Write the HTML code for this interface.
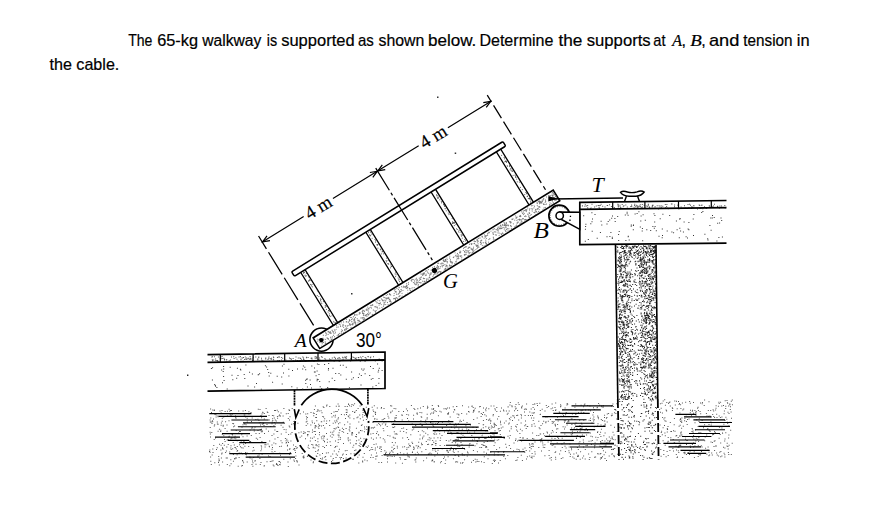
<!DOCTYPE html>
<html><head><meta charset="utf-8">
<style>
html,body{margin:0;padding:0;background:#fff;width:885px;height:525px;overflow:hidden;}
svg{position:absolute;left:0;top:0;}
</style></head>
<body>
<svg width="885" height="525" viewBox="0 0 885 525">
<g font-family="Liberation Sans, sans-serif" font-size="16" fill="#000" stroke="#000" stroke-width="0.2">
<text transform="translate(128.20,46) scale(0.878,1)">The</text>
<text transform="translate(157.18,46) scale(1.021,1)">65-kg</text>
<text transform="translate(202.20,46) scale(0.979,1)">walkway</text>
<text transform="translate(266.70,46) scale(0.900,1)">is</text>
<text transform="translate(281.17,46) scale(1.032,1)">supported</text>
<text transform="translate(357.96,46) scale(0.938,1)">as</text>
<text transform="translate(378.51,46) scale(0.993,1)">shown</text>
<text transform="translate(427.93,46) scale(1.067,1)">below.</text>
<text transform="translate(479.40,46) scale(1.004,1)">Determine</text>
<text transform="translate(558.50,46) scale(1.077,1)">the</text>
<text transform="translate(586.76,46) scale(1.042,1)">supports</text>
<text transform="translate(653.28,46) scale(0.915,1)">at</text>
<text transform="translate(672.24,46) scale(0.936,1)" font-family="Liberation Serif, serif" font-style="italic" font-size="17">A</text>
<text transform="translate(681.40,46) scale(1.000,1)">,</text>
<text transform="translate(690.30,46) scale(1.110,1)" font-family="Liberation Serif, serif" font-style="italic" font-size="17">B</text>
<text transform="translate(701.20,46) scale(1.000,1)">,</text>
<text transform="translate(708.96,46) scale(1.140,1)">and</text>
<text transform="translate(743.30,46) scale(0.955,1)">tension</text>
<text transform="translate(796.87,46) scale(1.027,1)">in</text>
<text transform="translate(49.50,69.5) scale(1.007,1)">the cable.</text>
</g>
<path d="M235.7 433.1h1.0v1.0h-1.0zM285.6 431.7h1.0v1.0h-1.0zM456.3 444.8h1.0v1.0h-1.0zM409.5 445.1h1.0v1.0h-1.0zM517.2 414.7h1.0v1.0h-1.0zM532.3 445.7h1.0v1.0h-1.0zM258.8 422.3h1.0v1.0h-1.0zM498.6 428.0h1.0v1.0h-1.0zM260.5 414.9h1.0v1.0h-1.0zM214.6 413.8h1.0v1.0h-1.0zM532.0 443.2h1.0v1.0h-1.0zM680.8 431.5h1.0v1.0h-1.0zM496.1 449.0h1.0v1.0h-1.0zM546.6 416.5h1.0v1.0h-1.0zM455.8 439.0h1.0v1.0h-1.0zM575.2 403.4h1.0v1.0h-1.0zM695.3 412.0h1.0v1.0h-1.0zM721.3 405.6h1.0v1.0h-1.0zM701.0 451.0h1.0v1.0h-1.0zM380.8 407.7h1.0v1.0h-1.0zM372.7 415.7h1.0v1.0h-1.0zM396.8 453.7h1.0v1.0h-1.0zM503.0 451.8h1.0v1.0h-1.0zM441.8 427.9h1.0v1.0h-1.0zM439.2 433.3h1.0v1.0h-1.0zM473.2 418.9h1.0v1.0h-1.0zM374.1 426.8h1.0v1.0h-1.0zM726.8 421.7h1.0v1.0h-1.0zM233.9 437.6h1.0v1.0h-1.0zM691.9 428.5h1.0v1.0h-1.0zM593.8 409.1h1.0v1.0h-1.0zM479.1 406.2h1.0v1.0h-1.0zM730.6 411.6h1.0v1.0h-1.0zM280.9 445.8h1.0v1.0h-1.0zM585.1 409.6h1.0v1.0h-1.0zM582.2 409.8h1.0v1.0h-1.0zM514.0 410.2h1.0v1.0h-1.0zM575.5 409.6h1.0v1.0h-1.0zM408.1 438.9h1.0v1.0h-1.0zM666.8 428.0h1.0v1.0h-1.0zM272.5 460.3h1.0v1.0h-1.0zM731.7 442.7h1.0v1.0h-1.0zM443.4 423.9h1.0v1.0h-1.0zM567.7 421.2h1.0v1.0h-1.0zM533.5 455.8h1.0v1.0h-1.0zM387.0 461.4h1.0v1.0h-1.0zM667.7 455.0h1.0v1.0h-1.0zM667.7 440.8h1.0v1.0h-1.0zM512.0 420.0h1.0v1.0h-1.0zM390.1 405.2h1.0v1.0h-1.0zM432.0 460.1h1.0v1.0h-1.0zM564.9 420.3h1.0v1.0h-1.0zM703.7 404.9h1.0v1.0h-1.0zM500.0 422.2h1.0v1.0h-1.0zM385.3 423.6h1.0v1.0h-1.0zM692.3 436.7h1.0v1.0h-1.0zM440.8 460.9h1.0v1.0h-1.0zM434.9 442.9h1.0v1.0h-1.0zM235.0 447.2h1.0v1.0h-1.0zM471.0 461.8h1.0v1.0h-1.0zM269.0 446.2h1.0v1.0h-1.0zM678.7 445.0h1.0v1.0h-1.0zM591.3 451.2h1.0v1.0h-1.0zM275.8 420.4h1.0v1.0h-1.0zM278.5 415.6h1.0v1.0h-1.0zM221.2 453.4h1.0v1.0h-1.0zM472.5 426.8h1.0v1.0h-1.0zM238.2 410.4h1.0v1.0h-1.0zM676.2 435.1h1.0v1.0h-1.0zM579.7 428.0h1.0v1.0h-1.0zM686.8 439.9h1.0v1.0h-1.0zM541.0 450.6h1.0v1.0h-1.0zM209.0 450.9h1.0v1.0h-1.0zM723.6 452.7h1.0v1.0h-1.0zM560.5 415.8h1.0v1.0h-1.0zM449.3 449.8h1.0v1.0h-1.0zM248.4 411.3h1.0v1.0h-1.0zM418.1 445.9h1.0v1.0h-1.0zM689.8 402.8h1.0v1.0h-1.0zM715.1 409.5h1.0v1.0h-1.0zM517.1 409.9h1.0v1.0h-1.0zM296.8 447.2h1.0v1.0h-1.0zM487.6 449.3h1.0v1.0h-1.0zM372.2 449.1h1.0v1.0h-1.0zM533.3 417.5h1.0v1.0h-1.0zM391.0 450.3h1.0v1.0h-1.0zM486.0 446.1h1.0v1.0h-1.0zM408.2 446.8h1.0v1.0h-1.0zM370.9 437.6h1.0v1.0h-1.0zM419.7 447.3h1.0v1.0h-1.0zM525.1 408.6h1.0v1.0h-1.0zM288.0 441.9h1.0v1.0h-1.0zM520.5 414.1h1.0v1.0h-1.0zM411.7 423.4h1.0v1.0h-1.0zM509.6 419.2h1.0v1.0h-1.0zM261.4 440.9h1.0v1.0h-1.0zM681.2 420.4h1.0v1.0h-1.0zM697.9 409.9h1.0v1.0h-1.0zM413.0 418.4h1.0v1.0h-1.0zM553.1 444.3h1.0v1.0h-1.0zM515.5 438.5h1.0v1.0h-1.0zM727.9 451.9h1.0v1.0h-1.0zM236.6 454.3h1.0v1.0h-1.0zM503.4 410.5h1.0v1.0h-1.0zM210.3 460.8h1.0v1.0h-1.0zM590.6 440.4h1.0v1.0h-1.0zM720.1 401.8h1.0v1.0h-1.0zM237.1 449.9h1.0v1.0h-1.0zM543.2 420.7h1.0v1.0h-1.0zM566.2 435.8h1.0v1.0h-1.0zM581.7 427.5h1.0v1.0h-1.0zM551.6 403.5h1.0v1.0h-1.0zM604.3 420.6h1.0v1.0h-1.0zM217.4 415.5h1.0v1.0h-1.0zM517.4 456.9h1.0v1.0h-1.0zM712.2 414.0h1.0v1.0h-1.0zM310.5 459.4h1.0v1.0h-1.0zM672.2 408.1h1.0v1.0h-1.0zM697.8 445.2h1.0v1.0h-1.0zM693.1 434.9h1.0v1.0h-1.0zM385.5 421.2h1.0v1.0h-1.0zM268.8 419.4h1.0v1.0h-1.0zM533.7 423.3h1.0v1.0h-1.0zM441.9 421.8h1.0v1.0h-1.0zM260.8 431.3h1.0v1.0h-1.0zM410.9 405.0h1.0v1.0h-1.0zM393.0 448.8h1.0v1.0h-1.0zM550.8 432.5h1.0v1.0h-1.0zM684.5 452.6h1.0v1.0h-1.0zM461.5 444.3h1.0v1.0h-1.0zM216.8 421.4h1.0v1.0h-1.0zM494.0 461.0h1.0v1.0h-1.0zM260.3 421.9h1.0v1.0h-1.0zM679.5 419.5h1.0v1.0h-1.0zM731.8 399.4h1.0v1.0h-1.0zM464.1 459.3h1.0v1.0h-1.0zM555.9 432.0h1.0v1.0h-1.0zM713.2 410.5h1.0v1.0h-1.0zM578.0 455.8h1.0v1.0h-1.0zM457.7 451.2h1.0v1.0h-1.0zM508.8 445.0h1.0v1.0h-1.0zM616.6 445.5h1.0v1.0h-1.0zM731.0 417.8h1.0v1.0h-1.0zM478.6 411.0h1.0v1.0h-1.0zM551.2 436.1h1.0v1.0h-1.0zM544.2 447.1h1.0v1.0h-1.0zM612.5 431.7h1.0v1.0h-1.0zM252.3 453.1h1.0v1.0h-1.0zM536.3 435.1h1.0v1.0h-1.0zM431.2 444.3h1.0v1.0h-1.0zM391.6 450.4h1.0v1.0h-1.0zM370.2 457.1h1.0v1.0h-1.0zM274.4 429.4h1.0v1.0h-1.0zM267.3 411.9h1.0v1.0h-1.0zM293.9 460.8h1.0v1.0h-1.0zM721.4 455.5h1.0v1.0h-1.0zM259.8 464.1h1.0v1.0h-1.0zM415.2 459.3h1.0v1.0h-1.0zM516.1 429.4h1.0v1.0h-1.0zM674.3 400.4h1.0v1.0h-1.0zM240.7 441.4h1.0v1.0h-1.0zM560.0 406.3h1.0v1.0h-1.0zM230.5 445.2h1.0v1.0h-1.0zM466.5 422.1h1.0v1.0h-1.0zM446.3 429.8h1.0v1.0h-1.0zM406.3 414.1h1.0v1.0h-1.0zM590.9 444.1h1.0v1.0h-1.0zM669.4 401.5h1.0v1.0h-1.0zM419.5 411.9h1.0v1.0h-1.0zM432.2 440.0h1.0v1.0h-1.0zM616.7 431.0h1.0v1.0h-1.0zM412.1 442.9h1.0v1.0h-1.0zM488.1 419.8h1.0v1.0h-1.0zM271.6 448.8h1.0v1.0h-1.0zM689.8 412.3h1.0v1.0h-1.0zM694.4 410.1h1.0v1.0h-1.0zM210.0 436.4h1.0v1.0h-1.0zM517.1 440.4h1.0v1.0h-1.0zM419.4 423.7h1.0v1.0h-1.0zM613.5 434.6h1.0v1.0h-1.0zM409.1 445.0h1.0v1.0h-1.0zM415.7 445.2h1.0v1.0h-1.0zM600.4 442.6h1.0v1.0h-1.0zM279.1 460.9h1.0v1.0h-1.0zM425.8 423.4h1.0v1.0h-1.0zM689.5 450.8h1.0v1.0h-1.0zM243.1 443.7h1.0v1.0h-1.0zM212.3 409.5h1.0v1.0h-1.0zM662.7 400.5h1.0v1.0h-1.0zM234.3 458.5h1.0v1.0h-1.0zM660.8 432.0h1.0v1.0h-1.0zM456.3 406.1h1.0v1.0h-1.0zM571.4 424.0h1.0v1.0h-1.0zM426.9 407.7h1.0v1.0h-1.0zM431.5 419.1h1.0v1.0h-1.0zM724.3 454.3h1.0v1.0h-1.0zM277.2 431.1h1.0v1.0h-1.0zM449.2 429.5h1.0v1.0h-1.0zM597.8 417.0h1.0v1.0h-1.0zM460.8 421.0h1.0v1.0h-1.0zM594.6 442.4h1.0v1.0h-1.0zM220.7 412.6h1.0v1.0h-1.0zM493.8 424.2h1.0v1.0h-1.0zM458.3 428.5h1.0v1.0h-1.0zM376.8 431.2h1.0v1.0h-1.0zM430.4 437.7h1.0v1.0h-1.0zM476.9 451.2h1.0v1.0h-1.0zM469.2 432.4h1.0v1.0h-1.0zM239.1 444.3h1.0v1.0h-1.0zM582.8 439.5h1.0v1.0h-1.0zM666.8 431.6h1.0v1.0h-1.0zM612.8 448.6h1.0v1.0h-1.0zM409.0 456.5h1.0v1.0h-1.0zM452.7 450.8h1.0v1.0h-1.0zM427.5 439.2h1.0v1.0h-1.0zM273.4 425.3h1.0v1.0h-1.0zM531.0 417.5h1.0v1.0h-1.0zM213.9 409.5h1.0v1.0h-1.0zM591.9 440.1h1.0v1.0h-1.0zM681.4 417.5h1.0v1.0h-1.0zM406.3 449.1h1.0v1.0h-1.0zM551.4 437.7h1.0v1.0h-1.0zM602.9 450.3h1.0v1.0h-1.0zM474.7 458.8h1.0v1.0h-1.0zM590.4 435.7h1.0v1.0h-1.0zM457.2 443.7h1.0v1.0h-1.0zM455.9 461.2h1.0v1.0h-1.0zM403.2 430.9h1.0v1.0h-1.0zM373.5 443.9h1.0v1.0h-1.0zM614.1 412.2h1.0v1.0h-1.0zM499.7 459.9h1.0v1.0h-1.0zM493.6 445.0h1.0v1.0h-1.0zM291.2 423.7h1.0v1.0h-1.0zM232.2 448.3h1.0v1.0h-1.0zM693.0 412.7h1.0v1.0h-1.0zM209.9 433.5h1.0v1.0h-1.0zM560.5 405.6h1.0v1.0h-1.0zM296.1 460.2h1.0v1.0h-1.0zM263.5 425.1h1.0v1.0h-1.0zM257.3 455.5h1.0v1.0h-1.0zM600.3 453.1h1.0v1.0h-1.0zM374.8 412.4h1.0v1.0h-1.0zM461.9 454.5h1.0v1.0h-1.0zM265.7 428.5h1.0v1.0h-1.0zM280.0 415.6h1.0v1.0h-1.0zM285.6 429.3h1.0v1.0h-1.0zM576.9 447.0h1.0v1.0h-1.0zM453.0 448.2h1.0v1.0h-1.0zM222.1 443.0h1.0v1.0h-1.0zM522.5 448.8h1.0v1.0h-1.0zM273.8 417.6h1.0v1.0h-1.0zM719.9 417.1h1.0v1.0h-1.0zM401.4 428.0h1.0v1.0h-1.0zM524.6 415.0h1.0v1.0h-1.0zM507.6 406.6h1.0v1.0h-1.0zM474.1 438.4h1.0v1.0h-1.0zM531.4 424.3h1.0v1.0h-1.0zM431.8 405.1h1.0v1.0h-1.0zM387.7 455.4h1.0v1.0h-1.0zM459.3 421.3h1.0v1.0h-1.0zM543.1 433.2h1.0v1.0h-1.0zM531.6 412.4h1.0v1.0h-1.0zM432.1 444.0h1.0v1.0h-1.0zM219.0 443.8h1.0v1.0h-1.0zM403.0 410.9h1.0v1.0h-1.0zM583.1 441.8h1.0v1.0h-1.0zM562.6 426.3h1.0v1.0h-1.0zM568.4 421.2h1.0v1.0h-1.0zM550.8 459.5h1.0v1.0h-1.0zM511.6 406.3h1.0v1.0h-1.0zM433.7 461.0h1.0v1.0h-1.0zM268.7 445.8h1.0v1.0h-1.0zM295.8 447.8h1.0v1.0h-1.0zM260.9 429.4h1.0v1.0h-1.0zM600.9 457.0h1.0v1.0h-1.0zM559.3 440.0h1.0v1.0h-1.0zM221.5 410.0h1.0v1.0h-1.0zM540.1 433.4h1.0v1.0h-1.0zM433.3 441.8h1.0v1.0h-1.0zM381.7 419.3h1.0v1.0h-1.0zM608.6 442.4h1.0v1.0h-1.0zM574.1 427.3h1.0v1.0h-1.0zM268.5 415.0h1.0v1.0h-1.0zM601.9 419.9h1.0v1.0h-1.0zM699.6 410.9h1.0v1.0h-1.0zM378.4 461.9h1.0v1.0h-1.0zM452.7 406.3h1.0v1.0h-1.0zM695.7 411.0h1.0v1.0h-1.0zM555.1 456.7h1.0v1.0h-1.0zM724.5 438.6h1.0v1.0h-1.0zM524.0 411.6h1.0v1.0h-1.0zM235.3 416.1h1.0v1.0h-1.0zM272.1 418.2h1.0v1.0h-1.0zM261.1 417.2h1.0v1.0h-1.0zM681.9 402.5h1.0v1.0h-1.0zM210.8 421.4h1.0v1.0h-1.0zM559.3 412.4h1.0v1.0h-1.0zM213.8 425.5h1.0v1.0h-1.0zM303.3 455.4h1.0v1.0h-1.0zM497.8 428.5h1.0v1.0h-1.0zM556.7 442.5h1.0v1.0h-1.0zM666.6 451.0h1.0v1.0h-1.0zM508.9 418.0h1.0v1.0h-1.0zM228.8 435.8h1.0v1.0h-1.0zM716.2 413.8h1.0v1.0h-1.0zM478.5 423.1h1.0v1.0h-1.0zM435.7 410.9h1.0v1.0h-1.0zM443.5 408.3h1.0v1.0h-1.0zM614.6 444.6h1.0v1.0h-1.0zM574.3 419.0h1.0v1.0h-1.0zM471.6 405.5h1.0v1.0h-1.0zM500.8 427.6h1.0v1.0h-1.0zM728.5 413.1h1.0v1.0h-1.0zM421.8 430.3h1.0v1.0h-1.0zM557.3 437.1h1.0v1.0h-1.0zM532.8 446.0h1.0v1.0h-1.0zM729.3 403.6h1.0v1.0h-1.0zM698.0 453.4h1.0v1.0h-1.0zM531.6 452.9h1.0v1.0h-1.0zM222.1 448.3h1.0v1.0h-1.0zM488.3 408.3h1.0v1.0h-1.0zM221.7 420.7h1.0v1.0h-1.0zM528.9 443.3h1.0v1.0h-1.0zM698.5 431.9h1.0v1.0h-1.0zM447.2 450.2h1.0v1.0h-1.0zM505.2 443.8h1.0v1.0h-1.0zM603.8 420.5h1.0v1.0h-1.0zM283.4 408.1h1.0v1.0h-1.0zM604.0 417.1h1.0v1.0h-1.0zM378.2 423.1h1.0v1.0h-1.0zM276.1 462.9h1.0v1.0h-1.0zM659.9 403.3h1.0v1.0h-1.0zM426.7 413.7h1.0v1.0h-1.0zM243.1 416.0h1.0v1.0h-1.0zM449.0 407.4h1.0v1.0h-1.0zM578.8 445.2h1.0v1.0h-1.0zM445.8 408.7h1.0v1.0h-1.0zM244.3 422.9h1.0v1.0h-1.0zM457.5 446.0h1.0v1.0h-1.0zM221.6 452.4h1.0v1.0h-1.0zM395.3 408.3h1.0v1.0h-1.0zM534.6 425.7h1.0v1.0h-1.0zM268.0 430.7h1.0v1.0h-1.0zM490.6 405.4h1.0v1.0h-1.0zM530.1 415.0h1.0v1.0h-1.0zM224.6 441.1h1.0v1.0h-1.0zM668.1 402.9h1.0v1.0h-1.0zM376.5 418.7h1.0v1.0h-1.0zM724.2 440.5h1.0v1.0h-1.0zM255.5 433.1h1.0v1.0h-1.0zM211.5 423.0h1.0v1.0h-1.0zM530.7 448.3h1.0v1.0h-1.0zM451.7 442.1h1.0v1.0h-1.0zM233.1 423.2h1.0v1.0h-1.0zM593.7 426.3h1.0v1.0h-1.0zM546.6 407.1h1.0v1.0h-1.0zM250.1 441.0h1.0v1.0h-1.0zM390.4 411.6h1.0v1.0h-1.0zM476.8 440.8h1.0v1.0h-1.0zM698.3 437.1h1.0v1.0h-1.0zM259.7 428.9h1.0v1.0h-1.0zM673.0 450.5h1.0v1.0h-1.0zM604.6 423.5h1.0v1.0h-1.0zM563.6 442.3h1.0v1.0h-1.0zM671.8 407.3h1.0v1.0h-1.0zM264.4 444.2h1.0v1.0h-1.0zM259.6 437.1h1.0v1.0h-1.0zM276.9 416.1h1.0v1.0h-1.0zM605.3 445.7h1.0v1.0h-1.0zM288.7 425.6h1.0v1.0h-1.0zM447.5 414.0h1.0v1.0h-1.0zM422.0 438.3h1.0v1.0h-1.0zM392.2 426.8h1.0v1.0h-1.0zM379.2 424.1h1.0v1.0h-1.0zM403.1 427.6h1.0v1.0h-1.0zM611.7 453.2h1.0v1.0h-1.0zM529.2 455.6h1.0v1.0h-1.0zM533.3 438.4h1.0v1.0h-1.0zM226.3 446.4h1.0v1.0h-1.0zM613.0 448.9h1.0v1.0h-1.0zM456.4 432.3h1.0v1.0h-1.0zM718.9 426.8h1.0v1.0h-1.0zM383.3 430.2h1.0v1.0h-1.0zM587.2 405.1h1.0v1.0h-1.0zM667.7 437.1h1.0v1.0h-1.0zM666.1 410.2h1.0v1.0h-1.0zM486.2 446.7h1.0v1.0h-1.0zM391.6 456.0h1.0v1.0h-1.0zM254.5 426.7h1.0v1.0h-1.0zM455.7 425.6h1.0v1.0h-1.0zM685.7 414.3h1.0v1.0h-1.0zM248.2 446.1h1.0v1.0h-1.0zM490.3 419.9h1.0v1.0h-1.0zM245.0 453.8h1.0v1.0h-1.0zM415.3 461.5h1.0v1.0h-1.0zM700.8 445.2h1.0v1.0h-1.0zM243.1 462.3h1.0v1.0h-1.0zM231.7 434.0h1.0v1.0h-1.0zM610.1 443.1h1.0v1.0h-1.0zM510.1 448.1h1.0v1.0h-1.0zM482.9 445.0h1.0v1.0h-1.0zM585.6 444.9h1.0v1.0h-1.0zM600.4 436.0h1.0v1.0h-1.0zM432.2 459.5h1.0v1.0h-1.0zM437.0 452.8h1.0v1.0h-1.0zM437.4 437.3h1.0v1.0h-1.0zM404.3 459.0h1.0v1.0h-1.0zM729.8 408.9h1.0v1.0h-1.0zM210.1 456.6h1.0v1.0h-1.0zM351.9 458.8h1.0v1.0h-1.0zM421.6 425.2h1.0v1.0h-1.0zM296.6 460.6h1.0v1.0h-1.0zM437.8 405.1h1.0v1.0h-1.0zM487.3 430.5h1.0v1.0h-1.0zM545.8 405.0h1.0v1.0h-1.0zM290.3 433.6h1.0v1.0h-1.0zM220.9 457.6h1.0v1.0h-1.0zM379.8 437.3h1.0v1.0h-1.0zM433.2 425.9h1.0v1.0h-1.0zM730.2 429.8h1.0v1.0h-1.0zM439.6 445.1h1.0v1.0h-1.0zM548.1 405.9h1.0v1.0h-1.0zM515.1 425.8h1.0v1.0h-1.0zM291.5 431.9h1.0v1.0h-1.0zM229.2 451.4h1.0v1.0h-1.0zM584.5 429.8h1.0v1.0h-1.0zM572.1 432.9h1.0v1.0h-1.0zM529.4 447.0h1.0v1.0h-1.0zM374.9 447.5h1.0v1.0h-1.0zM490.0 422.8h1.0v1.0h-1.0zM581.4 423.4h1.0v1.0h-1.0zM534.0 403.4h1.0v1.0h-1.0zM661.8 434.3h1.0v1.0h-1.0zM277.1 417.8h1.0v1.0h-1.0zM678.6 425.7h1.0v1.0h-1.0zM597.6 453.4h1.0v1.0h-1.0zM462.1 447.3h1.0v1.0h-1.0zM253.6 428.8h1.0v1.0h-1.0zM716.1 452.5h1.0v1.0h-1.0zM513.5 442.5h1.0v1.0h-1.0zM522.9 437.6h1.0v1.0h-1.0zM460.7 436.9h1.0v1.0h-1.0zM417.9 453.4h1.0v1.0h-1.0zM596.6 407.2h1.0v1.0h-1.0zM362.5 456.8h1.0v1.0h-1.0zM503.2 436.7h1.0v1.0h-1.0zM606.1 438.4h1.0v1.0h-1.0zM478.4 461.0h1.0v1.0h-1.0zM389.1 453.0h1.0v1.0h-1.0zM404.1 446.3h1.0v1.0h-1.0zM417.3 408.3h1.0v1.0h-1.0zM421.3 444.2h1.0v1.0h-1.0zM609.1 441.2h1.0v1.0h-1.0zM664.4 432.4h1.0v1.0h-1.0zM710.5 441.4h1.0v1.0h-1.0zM434.6 449.4h1.0v1.0h-1.0zM271.9 414.9h1.0v1.0h-1.0zM448.3 420.1h1.0v1.0h-1.0zM612.9 406.0h1.0v1.0h-1.0zM529.1 447.1h1.0v1.0h-1.0zM518.2 419.6h1.0v1.0h-1.0zM284.9 438.1h1.0v1.0h-1.0zM614.1 409.1h1.0v1.0h-1.0zM241.2 447.2h1.0v1.0h-1.0zM682.3 409.5h1.0v1.0h-1.0zM449.7 416.5h1.0v1.0h-1.0zM605.1 451.7h1.0v1.0h-1.0zM439.2 430.5h1.0v1.0h-1.0zM277.5 465.0h1.0v1.0h-1.0zM385.0 452.8h1.0v1.0h-1.0zM720.4 450.9h1.0v1.0h-1.0zM710.5 416.6h1.0v1.0h-1.0zM660.7 407.7h1.0v1.0h-1.0zM708.5 451.8h1.0v1.0h-1.0zM575.0 425.7h1.0v1.0h-1.0zM677.7 437.1h1.0v1.0h-1.0zM249.1 441.1h1.0v1.0h-1.0zM246.6 452.6h1.0v1.0h-1.0zM421.3 412.2h1.0v1.0h-1.0zM476.7 417.6h1.0v1.0h-1.0zM680.2 418.9h1.0v1.0h-1.0zM531.2 443.4h1.0v1.0h-1.0zM701.9 402.0h1.0v1.0h-1.0zM728.3 454.0h1.0v1.0h-1.0zM495.8 425.0h1.0v1.0h-1.0zM453.7 424.8h1.0v1.0h-1.0zM295.1 457.9h1.0v1.0h-1.0zM287.3 440.4h1.0v1.0h-1.0zM457.5 432.2h1.0v1.0h-1.0zM471.5 405.9h1.0v1.0h-1.0zM590.0 420.1h1.0v1.0h-1.0zM365.7 446.2h1.0v1.0h-1.0zM218.9 428.7h1.0v1.0h-1.0zM454.2 427.4h1.0v1.0h-1.0zM449.5 423.2h1.0v1.0h-1.0zM461.8 462.7h1.0v1.0h-1.0zM722.1 432.8h1.0v1.0h-1.0zM555.2 458.8h1.0v1.0h-1.0zM586.9 429.9h1.0v1.0h-1.0zM594.1 447.3h1.0v1.0h-1.0zM575.9 452.6h1.0v1.0h-1.0zM711.2 452.5h1.0v1.0h-1.0zM420.2 423.5h1.0v1.0h-1.0zM569.5 443.4h1.0v1.0h-1.0zM263.1 423.2h1.0v1.0h-1.0zM441.7 448.2h1.0v1.0h-1.0zM684.4 418.0h1.0v1.0h-1.0zM433.1 441.8h1.0v1.0h-1.0zM430.6 422.4h1.0v1.0h-1.0zM508.8 422.5h1.0v1.0h-1.0zM264.0 433.1h1.0v1.0h-1.0zM213.9 410.0h1.0v1.0h-1.0zM467.0 451.5h1.0v1.0h-1.0zM676.0 449.5h1.0v1.0h-1.0zM488.6 419.6h1.0v1.0h-1.0zM376.7 455.5h1.0v1.0h-1.0zM235.2 416.7h1.0v1.0h-1.0zM520.8 454.8h1.0v1.0h-1.0zM680.4 433.6h1.0v1.0h-1.0zM565.6 447.6h1.0v1.0h-1.0zM694.9 429.6h1.0v1.0h-1.0zM293.0 444.6h1.0v1.0h-1.0zM238.6 456.9h1.0v1.0h-1.0zM684.1 420.2h1.0v1.0h-1.0zM275.9 464.1h1.0v1.0h-1.0zM228.5 420.3h1.0v1.0h-1.0zM677.8 450.3h1.0v1.0h-1.0zM662.6 440.3h1.0v1.0h-1.0zM410.3 434.3h1.0v1.0h-1.0zM668.7 402.0h1.0v1.0h-1.0zM263.1 422.6h1.0v1.0h-1.0zM718.7 415.4h1.0v1.0h-1.0zM253.6 449.7h1.0v1.0h-1.0zM490.3 420.8h1.0v1.0h-1.0zM671.0 430.9h1.0v1.0h-1.0zM541.3 438.0h1.0v1.0h-1.0zM413.2 449.0h1.0v1.0h-1.0zM358.7 454.6h1.0v1.0h-1.0zM439.4 410.8h1.0v1.0h-1.0zM692.6 432.3h1.0v1.0h-1.0zM583.3 419.8h1.0v1.0h-1.0zM223.2 416.5h1.0v1.0h-1.0zM599.3 433.9h1.0v1.0h-1.0zM716.5 417.1h1.0v1.0h-1.0zM547.8 420.8h1.0v1.0h-1.0zM272.0 447.0h1.0v1.0h-1.0zM480.8 412.9h1.0v1.0h-1.0zM526.1 403.5h1.0v1.0h-1.0zM374.8 411.8h1.0v1.0h-1.0zM697.3 438.7h1.0v1.0h-1.0zM223.3 435.2h1.0v1.0h-1.0zM675.5 445.8h1.0v1.0h-1.0zM485.4 430.4h1.0v1.0h-1.0zM726.7 442.7h1.0v1.0h-1.0zM271.8 421.6h1.0v1.0h-1.0zM437.9 415.2h1.0v1.0h-1.0zM371.7 427.3h1.0v1.0h-1.0zM387.3 435.0h1.0v1.0h-1.0zM557.3 428.2h1.0v1.0h-1.0zM242.6 410.4h1.0v1.0h-1.0zM561.8 447.0h1.0v1.0h-1.0zM265.5 444.3h1.0v1.0h-1.0zM373.8 405.2h1.0v1.0h-1.0zM510.8 426.3h1.0v1.0h-1.0zM258.6 454.4h1.0v1.0h-1.0zM728.2 405.4h1.0v1.0h-1.0zM242.5 424.3h1.0v1.0h-1.0zM680.2 443.3h1.0v1.0h-1.0zM240.9 441.8h1.0v1.0h-1.0zM595.3 436.7h1.0v1.0h-1.0zM719.2 426.6h1.0v1.0h-1.0zM566.6 424.6h1.0v1.0h-1.0zM271.3 460.8h1.0v1.0h-1.0zM726.3 418.8h1.0v1.0h-1.0zM539.7 414.1h1.0v1.0h-1.0zM557.7 420.6h1.0v1.0h-1.0zM273.4 433.4h1.0v1.0h-1.0zM454.7 439.2h1.0v1.0h-1.0zM261.8 423.8h1.0v1.0h-1.0zM447.6 456.2h1.0v1.0h-1.0zM367.8 445.6h1.0v1.0h-1.0zM453.9 409.1h1.0v1.0h-1.0zM266.5 461.3h1.0v1.0h-1.0zM710.2 409.9h1.0v1.0h-1.0zM476.1 427.0h1.0v1.0h-1.0zM669.4 450.0h1.0v1.0h-1.0zM442.6 454.0h1.0v1.0h-1.0zM539.8 409.9h1.0v1.0h-1.0zM252.0 460.6h1.0v1.0h-1.0zM688.5 418.4h1.0v1.0h-1.0zM555.2 451.2h1.0v1.0h-1.0zM230.6 463.2h1.0v1.0h-1.0zM483.8 456.2h1.0v1.0h-1.0zM239.0 431.0h1.0v1.0h-1.0zM680.3 432.3h1.0v1.0h-1.0zM524.5 447.5h1.0v1.0h-1.0zM604.4 440.4h1.0v1.0h-1.0zM447.9 413.1h1.0v1.0h-1.0zM279.2 445.9h1.0v1.0h-1.0zM462.5 434.7h1.0v1.0h-1.0zM375.6 455.8h1.0v1.0h-1.0zM500.0 420.8h1.0v1.0h-1.0zM289.8 452.0h1.0v1.0h-1.0zM461.7 453.3h1.0v1.0h-1.0zM395.4 417.7h1.0v1.0h-1.0zM709.4 433.1h1.0v1.0h-1.0zM271.5 434.9h1.0v1.0h-1.0zM268.0 455.4h1.0v1.0h-1.0zM564.0 421.7h1.0v1.0h-1.0zM661.5 402.7h1.0v1.0h-1.0zM695.3 414.2h1.0v1.0h-1.0zM691.0 415.3h1.0v1.0h-1.0zM508.2 423.4h1.0v1.0h-1.0zM609.1 440.5h1.0v1.0h-1.0zM394.3 417.5h1.0v1.0h-1.0zM468.7 411.4h1.0v1.0h-1.0zM432.8 408.9h1.0v1.0h-1.0zM701.7 403.2h1.0v1.0h-1.0zM507.6 412.8h1.0v1.0h-1.0zM670.3 437.2h1.0v1.0h-1.0zM443.1 458.0h1.0v1.0h-1.0zM260.7 445.2h1.0v1.0h-1.0zM597.7 416.8h1.0v1.0h-1.0zM216.0 449.0h1.0v1.0h-1.0zM458.3 456.0h1.0v1.0h-1.0zM389.5 435.6h1.0v1.0h-1.0zM518.6 404.1h1.0v1.0h-1.0zM374.0 418.4h1.0v1.0h-1.0zM416.4 412.7h1.0v1.0h-1.0zM416.7 412.5h1.0v1.0h-1.0zM422.8 405.9h1.0v1.0h-1.0zM589.9 417.7h1.0v1.0h-1.0zM420.4 420.2h1.0v1.0h-1.0zM391.2 405.4h1.0v1.0h-1.0zM230.1 410.1h1.0v1.0h-1.0zM493.6 434.4h1.0v1.0h-1.0zM589.4 457.1h1.0v1.0h-1.0zM700.2 413.2h1.0v1.0h-1.0zM705.9 413.0h1.0v1.0h-1.0zM510.7 428.3h1.0v1.0h-1.0zM481.0 461.2h1.0v1.0h-1.0zM445.8 440.1h1.0v1.0h-1.0zM510.4 416.8h1.0v1.0h-1.0zM209.3 449.4h1.0v1.0h-1.0zM509.8 402.0h1.0v1.0h-1.0zM225.7 457.4h1.0v1.0h-1.0zM490.4 440.1h1.0v1.0h-1.0zM215.0 437.6h1.0v1.0h-1.0zM569.7 455.9h1.0v1.0h-1.0zM554.5 446.6h1.0v1.0h-1.0zM428.1 443.8h1.0v1.0h-1.0zM499.8 434.1h1.0v1.0h-1.0zM542.2 442.5h1.0v1.0h-1.0zM588.8 459.1h1.0v1.0h-1.0zM477.1 441.0h1.0v1.0h-1.0zM244.3 423.8h1.0v1.0h-1.0zM696.2 419.3h1.0v1.0h-1.0zM230.6 414.7h1.0v1.0h-1.0zM723.0 446.7h1.0v1.0h-1.0zM594.1 456.7h1.0v1.0h-1.0zM597.3 453.1h1.0v1.0h-1.0zM451.0 426.7h1.0v1.0h-1.0zM235.9 448.6h1.0v1.0h-1.0zM503.3 456.0h1.0v1.0h-1.0zM245.2 416.4h1.0v1.0h-1.0zM545.0 436.0h1.0v1.0h-1.0zM414.3 409.0h1.0v1.0h-1.0zM406.9 437.1h1.0v1.0h-1.0zM724.7 400.2h1.0v1.0h-1.0zM498.2 439.2h1.0v1.0h-1.0zM682.8 425.7h1.0v1.0h-1.0zM258.2 452.9h1.0v1.0h-1.0zM384.9 424.4h1.0v1.0h-1.0zM411.8 429.5h1.0v1.0h-1.0zM487.5 458.2h1.0v1.0h-1.0zM248.4 413.5h1.0v1.0h-1.0zM463.6 454.8h1.0v1.0h-1.0zM491.8 462.9h1.0v1.0h-1.0zM680.2 445.0h1.0v1.0h-1.0zM727.4 446.0h1.0v1.0h-1.0zM265.6 408.1h1.0v1.0h-1.0zM453.0 449.2h1.0v1.0h-1.0zM690.0 446.9h1.0v1.0h-1.0zM508.7 410.5h1.0v1.0h-1.0zM413.1 446.6h1.0v1.0h-1.0zM549.9 418.9h1.0v1.0h-1.0zM404.2 424.1h1.0v1.0h-1.0zM494.6 442.2h1.0v1.0h-1.0zM720.2 456.3h1.0v1.0h-1.0zM461.2 413.0h1.0v1.0h-1.0zM245.6 424.2h1.0v1.0h-1.0zM709.4 415.6h1.0v1.0h-1.0zM560.1 404.3h1.0v1.0h-1.0zM685.2 401.7h1.0v1.0h-1.0zM691.6 427.9h1.0v1.0h-1.0zM447.6 451.4h1.0v1.0h-1.0zM584.4 403.4h1.0v1.0h-1.0zM714.1 417.1h1.0v1.0h-1.0zM545.5 421.2h1.0v1.0h-1.0zM376.0 452.4h1.0v1.0h-1.0zM426.6 418.4h1.0v1.0h-1.0zM446.1 424.9h1.0v1.0h-1.0zM294.0 421.9h1.0v1.0h-1.0zM414.1 421.1h1.0v1.0h-1.0zM294.2 448.4h1.0v1.0h-1.0zM691.9 444.1h1.0v1.0h-1.0zM421.3 451.2h1.0v1.0h-1.0zM681.4 434.6h1.0v1.0h-1.0zM565.7 412.0h1.0v1.0h-1.0zM241.3 434.3h1.0v1.0h-1.0zM704.1 399.6h1.0v1.0h-1.0zM383.1 418.8h1.0v1.0h-1.0zM500.4 424.2h1.0v1.0h-1.0zM541.0 439.2h1.0v1.0h-1.0zM673.2 442.8h1.0v1.0h-1.0zM660.3 449.1h1.0v1.0h-1.0zM716.8 454.6h1.0v1.0h-1.0zM281.6 453.1h1.0v1.0h-1.0zM574.3 432.0h1.0v1.0h-1.0zM577.5 454.7h1.0v1.0h-1.0zM231.7 413.7h1.0v1.0h-1.0zM312.9 461.3h1.0v1.0h-1.0zM608.8 436.5h1.0v1.0h-1.0zM280.5 440.3h1.0v1.0h-1.0zM251.7 417.5h1.0v1.0h-1.0zM686.0 453.9h1.0v1.0h-1.0zM489.3 418.5h1.0v1.0h-1.0zM707.5 449.5h1.0v1.0h-1.0zM723.9 410.5h1.0v1.0h-1.0zM611.0 448.9h1.0v1.0h-1.0zM698.1 440.9h1.0v1.0h-1.0zM518.4 448.9h1.0v1.0h-1.0zM715.6 405.2h1.0v1.0h-1.0zM538.3 420.8h1.0v1.0h-1.0zM240.0 446.2h1.0v1.0h-1.0zM394.9 442.3h1.0v1.0h-1.0zM384.3 450.3h1.0v1.0h-1.0zM664.9 404.8h1.0v1.0h-1.0zM427.1 444.1h1.0v1.0h-1.0zM606.7 421.6h1.0v1.0h-1.0zM514.7 406.3h1.0v1.0h-1.0zM394.5 420.3h1.0v1.0h-1.0zM712.6 409.3h1.0v1.0h-1.0zM246.0 454.3h1.0v1.0h-1.0zM494.9 409.5h1.0v1.0h-1.0zM209.6 431.7h1.0v1.0h-1.0zM257.8 408.7h1.0v1.0h-1.0zM601.0 405.5h1.0v1.0h-1.0zM422.3 436.7h1.0v1.0h-1.0zM706.8 428.9h1.0v1.0h-1.0zM531.4 425.7h1.0v1.0h-1.0zM729.4 404.3h1.0v1.0h-1.0zM583.8 404.4h1.0v1.0h-1.0zM592.4 414.5h1.0v1.0h-1.0zM686.0 443.9h1.0v1.0h-1.0zM695.6 413.6h1.0v1.0h-1.0zM484.3 438.0h1.0v1.0h-1.0zM244.3 414.6h1.0v1.0h-1.0zM263.8 418.5h1.0v1.0h-1.0zM665.6 456.3h1.0v1.0h-1.0zM667.1 428.9h1.0v1.0h-1.0zM730.8 400.8h1.0v1.0h-1.0zM398.3 411.1h1.0v1.0h-1.0zM258.4 420.0h1.0v1.0h-1.0zM375.0 413.9h1.0v1.0h-1.0zM401.2 414.4h1.0v1.0h-1.0zM210.3 417.6h1.0v1.0h-1.0zM220.6 444.7h1.0v1.0h-1.0zM727.2 423.0h1.0v1.0h-1.0zM664.7 444.7h1.0v1.0h-1.0zM388.3 417.5h1.0v1.0h-1.0zM235.5 417.8h1.0v1.0h-1.0zM612.4 448.9h1.0v1.0h-1.0zM582.9 446.4h1.0v1.0h-1.0zM290.4 440.4h1.0v1.0h-1.0zM260.0 424.6h1.0v1.0h-1.0zM230.3 459.2h1.0v1.0h-1.0zM423.3 431.2h1.0v1.0h-1.0zM274.4 451.0h1.0v1.0h-1.0zM289.5 416.2h1.0v1.0h-1.0zM701.6 419.9h1.0v1.0h-1.0zM393.9 455.7h1.0v1.0h-1.0zM457.5 417.0h1.0v1.0h-1.0zM362.2 461.5h1.0v1.0h-1.0zM725.3 405.7h1.0v1.0h-1.0zM505.9 446.7h1.0v1.0h-1.0zM532.7 419.9h1.0v1.0h-1.0zM571.0 447.7h1.0v1.0h-1.0zM263.8 412.9h1.0v1.0h-1.0zM694.5 422.3h1.0v1.0h-1.0zM509.4 404.4h1.0v1.0h-1.0zM275.0 410.1h1.0v1.0h-1.0zM706.4 453.7h1.0v1.0h-1.0zM544.5 410.6h1.0v1.0h-1.0zM406.8 452.8h1.0v1.0h-1.0zM257.4 418.7h1.0v1.0h-1.0zM693.9 456.9h1.0v1.0h-1.0zM232.3 423.0h1.0v1.0h-1.0zM707.8 409.9h1.0v1.0h-1.0zM492.9 459.8h1.0v1.0h-1.0zM396.9 447.4h1.0v1.0h-1.0zM601.8 448.0h1.0v1.0h-1.0zM486.0 407.5h1.0v1.0h-1.0zM474.5 445.2h1.0v1.0h-1.0zM597.0 431.9h1.0v1.0h-1.0zM291.7 408.0h1.0v1.0h-1.0zM714.7 432.1h1.0v1.0h-1.0zM460.3 438.0h1.0v1.0h-1.0zM425.2 432.8h1.0v1.0h-1.0zM472.7 407.1h1.0v1.0h-1.0zM236.8 440.3h1.0v1.0h-1.0zM433.3 433.2h1.0v1.0h-1.0zM538.3 435.1h1.0v1.0h-1.0zM375.9 437.4h1.0v1.0h-1.0zM666.3 402.1h1.0v1.0h-1.0zM394.2 426.3h1.0v1.0h-1.0zM260.4 450.2h1.0v1.0h-1.0zM513.4 415.6h1.0v1.0h-1.0zM723.6 413.3h1.0v1.0h-1.0zM659.5 443.0h1.0v1.0h-1.0zM580.1 451.3h1.0v1.0h-1.0zM409.8 445.8h1.0v1.0h-1.0zM244.9 410.0h1.0v1.0h-1.0zM677.0 456.4h1.0v1.0h-1.0zM679.4 412.5h1.0v1.0h-1.0zM502.4 426.5h1.0v1.0h-1.0zM209.7 426.9h1.0v1.0h-1.0zM413.4 446.9h1.0v1.0h-1.0zM726.5 400.1h1.0v1.0h-1.0zM415.2 424.9h1.0v1.0h-1.0zM694.4 445.5h1.0v1.0h-1.0zM730.0 406.2h1.0v1.0h-1.0zM715.5 407.8h1.0v1.0h-1.0zM437.5 449.8h1.0v1.0h-1.0zM437.1 429.6h1.0v1.0h-1.0zM678.0 401.1h1.0v1.0h-1.0zM461.0 432.7h1.0v1.0h-1.0zM222.7 424.7h1.0v1.0h-1.0zM577.0 431.2h1.0v1.0h-1.0zM506.8 413.8h1.0v1.0h-1.0zM713.1 433.9h1.0v1.0h-1.0zM560.2 450.2h1.0v1.0h-1.0zM251.0 421.1h1.0v1.0h-1.0zM493.8 454.5h1.0v1.0h-1.0zM379.4 446.6h1.0v1.0h-1.0zM280.5 412.5h1.0v1.0h-1.0zM381.1 462.1h1.0v1.0h-1.0zM503.7 438.0h1.0v1.0h-1.0zM447.3 412.9h1.0v1.0h-1.0zM287.8 465.9h1.0v1.0h-1.0zM416.8 413.8h1.0v1.0h-1.0zM711.8 454.5h1.0v1.0h-1.0zM226.9 415.4h1.0v1.0h-1.0zM476.7 461.1h1.0v1.0h-1.0zM468.7 446.6h1.0v1.0h-1.0zM386.8 455.8h1.0v1.0h-1.0zM244.4 445.7h1.0v1.0h-1.0zM673.0 430.3h1.0v1.0h-1.0zM692.6 430.5h1.0v1.0h-1.0zM384.2 439.5h1.0v1.0h-1.0zM509.1 430.4h1.0v1.0h-1.0zM287.7 412.9h1.0v1.0h-1.0zM399.9 458.4h1.0v1.0h-1.0zM573.5 428.4h1.0v1.0h-1.0zM514.0 417.2h1.0v1.0h-1.0zM587.0 444.8h1.0v1.0h-1.0zM687.0 418.9h1.0v1.0h-1.0zM373.0 427.5h1.0v1.0h-1.0zM602.0 456.2h1.0v1.0h-1.0zM370.9 454.5h1.0v1.0h-1.0zM684.4 453.2h1.0v1.0h-1.0zM482.8 427.2h1.0v1.0h-1.0zM540.5 424.9h1.0v1.0h-1.0zM401.9 462.7h1.0v1.0h-1.0zM277.4 437.0h1.0v1.0h-1.0zM251.5 458.6h1.0v1.0h-1.0zM583.1 406.3h1.0v1.0h-1.0zM610.0 440.3h1.0v1.0h-1.0zM408.3 443.6h1.0v1.0h-1.0zM706.2 434.4h1.0v1.0h-1.0zM532.6 407.1h1.0v1.0h-1.0zM725.3 432.3h1.0v1.0h-1.0zM473.3 410.8h1.0v1.0h-1.0zM727.5 411.7h1.0v1.0h-1.0zM403.3 453.6h1.0v1.0h-1.0zM377.9 434.3h1.0v1.0h-1.0zM711.9 441.9h1.0v1.0h-1.0zM254.3 460.6h1.0v1.0h-1.0zM238.1 432.6h1.0v1.0h-1.0zM544.4 455.2h1.0v1.0h-1.0zM728.1 437.4h1.0v1.0h-1.0zM382.7 428.1h1.0v1.0h-1.0zM214.2 424.3h1.0v1.0h-1.0zM485.1 408.8h1.0v1.0h-1.0zM562.3 413.4h1.0v1.0h-1.0zM276.7 409.7h1.0v1.0h-1.0zM456.1 405.9h1.0v1.0h-1.0zM213.3 445.1h1.0v1.0h-1.0zM481.4 444.0h1.0v1.0h-1.0zM708.5 429.7h1.0v1.0h-1.0zM383.5 408.0h1.0v1.0h-1.0zM676.6 456.9h1.0v1.0h-1.0zM554.5 438.0h1.0v1.0h-1.0zM601.0 457.8h1.0v1.0h-1.0zM588.5 440.8h1.0v1.0h-1.0zM552.7 431.4h1.0v1.0h-1.0zM613.4 455.4h1.0v1.0h-1.0zM391.5 446.7h1.0v1.0h-1.0zM695.3 440.6h1.0v1.0h-1.0zM476.4 443.3h1.0v1.0h-1.0zM680.0 418.3h1.0v1.0h-1.0zM680.0 443.3h1.0v1.0h-1.0zM707.6 446.5h1.0v1.0h-1.0zM486.0 452.7h1.0v1.0h-1.0zM672.4 447.9h1.0v1.0h-1.0zM521.9 405.5h1.0v1.0h-1.0zM262.2 411.7h1.0v1.0h-1.0zM283.9 422.7h1.0v1.0h-1.0zM496.3 411.1h1.0v1.0h-1.0zM441.5 435.1h1.0v1.0h-1.0zM362.1 460.5h1.0v1.0h-1.0zM406.5 447.3h1.0v1.0h-1.0zM227.7 439.3h1.0v1.0h-1.0zM551.7 420.9h1.0v1.0h-1.0zM468.9 444.4h1.0v1.0h-1.0zM534.0 408.7h1.0v1.0h-1.0zM570.0 453.7h1.0v1.0h-1.0zM615.0 409.0h1.0v1.0h-1.0zM600.9 428.7h1.0v1.0h-1.0zM417.6 445.6h1.0v1.0h-1.0zM549.4 457.8h1.0v1.0h-1.0zM717.9 405.8h1.0v1.0h-1.0zM588.1 453.6h1.0v1.0h-1.0zM680.4 408.1h1.0v1.0h-1.0zM603.4 435.3h1.0v1.0h-1.0zM455.3 423.2h1.0v1.0h-1.0zM681.1 427.8h1.0v1.0h-1.0zM525.0 420.6h1.0v1.0h-1.0zM474.7 407.8h1.0v1.0h-1.0zM530.7 457.1h1.0v1.0h-1.0zM224.6 427.9h1.0v1.0h-1.0zM494.5 430.2h1.0v1.0h-1.0zM444.2 445.1h1.0v1.0h-1.0zM493.9 452.4h1.0v1.0h-1.0zM380.1 425.3h1.0v1.0h-1.0zM614.0 426.8h1.0v1.0h-1.0zM507.6 406.2h1.0v1.0h-1.0zM605.9 417.8h1.0v1.0h-1.0zM599.9 458.6h1.0v1.0h-1.0zM391.1 421.3h1.0v1.0h-1.0zM285.6 442.4h1.0v1.0h-1.0zM456.6 413.4h1.0v1.0h-1.0zM579.8 436.9h1.0v1.0h-1.0zM275.3 443.2h1.0v1.0h-1.0zM429.4 439.6h1.0v1.0h-1.0zM554.6 423.8h1.0v1.0h-1.0zM225.9 450.6h1.0v1.0h-1.0zM614.7 439.3h1.0v1.0h-1.0zM517.1 430.8h1.0v1.0h-1.0zM497.5 451.5h1.0v1.0h-1.0zM271.5 423.3h1.0v1.0h-1.0zM577.8 449.0h1.0v1.0h-1.0zM370.5 449.0h1.0v1.0h-1.0zM427.3 407.0h1.0v1.0h-1.0zM555.0 425.4h1.0v1.0h-1.0zM220.3 429.8h1.0v1.0h-1.0zM714.5 440.2h1.0v1.0h-1.0zM458.4 414.4h1.0v1.0h-1.0zM271.5 451.2h1.0v1.0h-1.0zM427.4 434.2h1.0v1.0h-1.0zM704.2 440.2h1.0v1.0h-1.0zM435.6 442.9h1.0v1.0h-1.0zM498.0 462.6h1.0v1.0h-1.0zM493.7 423.6h1.0v1.0h-1.0zM593.3 416.6h1.0v1.0h-1.0zM493.4 405.5h1.0v1.0h-1.0zM485.1 446.7h1.0v1.0h-1.0zM610.4 424.8h1.0v1.0h-1.0zM375.4 456.1h1.0v1.0h-1.0zM475.3 461.4h1.0v1.0h-1.0zM242.0 453.2h1.0v1.0h-1.0zM393.2 423.3h1.0v1.0h-1.0zM494.9 424.3h1.0v1.0h-1.0zM292.9 448.7h1.0v1.0h-1.0zM579.7 458.8h1.0v1.0h-1.0zM266.5 424.0h1.0v1.0h-1.0zM468.0 410.9h1.0v1.0h-1.0zM376.0 432.9h1.0v1.0h-1.0zM419.7 434.5h1.0v1.0h-1.0zM392.5 451.8h1.0v1.0h-1.0zM413.2 428.5h1.0v1.0h-1.0zM454.6 455.1h1.0v1.0h-1.0zM679.7 424.8h1.0v1.0h-1.0zM532.5 403.9h1.0v1.0h-1.0zM371.3 447.1h1.0v1.0h-1.0zM603.6 454.3h1.0v1.0h-1.0zM257.1 438.8h1.0v1.0h-1.0zM585.7 427.9h1.0v1.0h-1.0zM435.3 444.7h1.0v1.0h-1.0zM571.4 434.4h1.0v1.0h-1.0zM210.1 408.6h1.0v1.0h-1.0zM261.1 446.4h1.0v1.0h-1.0zM253.8 430.6h1.0v1.0h-1.0zM729.5 421.8h1.0v1.0h-1.0zM516.6 459.6h1.0v1.0h-1.0zM211.7 454.6h1.0v1.0h-1.0zM446.3 450.2h1.0v1.0h-1.0zM286.9 445.5h1.0v1.0h-1.0zM447.8 452.1h1.0v1.0h-1.0zM425.8 441.1h1.0v1.0h-1.0zM382.8 438.3h1.0v1.0h-1.0zM466.8 455.6h1.0v1.0h-1.0zM530.7 408.6h1.0v1.0h-1.0zM493.7 422.8h1.0v1.0h-1.0zM371.7 406.8h1.0v1.0h-1.0zM438.0 422.0h1.0v1.0h-1.0zM482.9 412.1h1.0v1.0h-1.0zM407.0 417.9h1.0v1.0h-1.0zM678.6 446.5h1.0v1.0h-1.0zM496.7 439.8h1.0v1.0h-1.0zM479.4 447.0h1.0v1.0h-1.0zM679.0 435.6h1.0v1.0h-1.0zM264.6 446.5h1.0v1.0h-1.0zM285.8 413.3h1.0v1.0h-1.0zM534.5 441.4h1.0v1.0h-1.0zM213.7 439.0h1.0v1.0h-1.0zM428.8 437.2h1.0v1.0h-1.0zM294.0 448.1h1.0v1.0h-1.0zM395.2 462.6h1.0v1.0h-1.0zM698.6 436.2h1.0v1.0h-1.0zM232.9 454.1h1.0v1.0h-1.0zM401.7 419.6h1.0v1.0h-1.0zM473.8 409.4h1.0v1.0h-1.0zM558.1 438.0h1.0v1.0h-1.0zM394.1 448.0h1.0v1.0h-1.0zM689.1 401.0h1.0v1.0h-1.0zM469.9 424.6h1.0v1.0h-1.0zM222.6 425.7h1.0v1.0h-1.0zM431.4 408.6h1.0v1.0h-1.0zM594.5 444.8h1.0v1.0h-1.0zM523.9 408.7h1.0v1.0h-1.0zM554.5 407.0h1.0v1.0h-1.0zM234.6 435.7h1.0v1.0h-1.0zM285.6 440.2h1.0v1.0h-1.0zM236.6 450.7h1.0v1.0h-1.0zM548.6 450.1h1.0v1.0h-1.0zM283.6 428.9h1.0v1.0h-1.0zM232.9 460.7h1.0v1.0h-1.0zM578.5 442.7h1.0v1.0h-1.0zM597.9 418.2h1.0v1.0h-1.0zM384.2 418.0h1.0v1.0h-1.0zM693.3 438.4h1.0v1.0h-1.0zM295.4 455.4h1.0v1.0h-1.0zM215.7 414.6h1.0v1.0h-1.0zM229.3 465.3h1.0v1.0h-1.0zM231.0 437.6h1.0v1.0h-1.0zM379.3 448.1h1.0v1.0h-1.0zM674.8 404.4h1.0v1.0h-1.0zM262.5 412.3h1.0v1.0h-1.0zM606.4 416.9h1.0v1.0h-1.0zM582.1 457.5h1.0v1.0h-1.0zM488.1 427.8h1.0v1.0h-1.0zM426.1 457.5h1.0v1.0h-1.0zM425.4 448.9h1.0v1.0h-1.0zM692.1 409.8h1.0v1.0h-1.0zM662.1 417.1h1.0v1.0h-1.0zM369.2 450.0h1.0v1.0h-1.0zM218.3 460.4h1.0v1.0h-1.0zM584.8 449.0h1.0v1.0h-1.0zM564.3 433.4h1.0v1.0h-1.0zM245.1 452.0h1.0v1.0h-1.0zM603.5 425.0h1.0v1.0h-1.0zM372.9 438.8h1.0v1.0h-1.0zM724.5 420.1h1.0v1.0h-1.0zM246.7 461.5h1.0v1.0h-1.0zM261.6 453.7h1.0v1.0h-1.0zM418.2 441.7h1.0v1.0h-1.0zM606.0 459.9h1.0v1.0h-1.0zM367.1 412.0h1.0v1.0h-1.0zM272.7 452.8h1.0v1.0h-1.0zM575.9 437.4h1.0v1.0h-1.0zM295.0 452.0h1.0v1.0h-1.0zM394.6 433.4h1.0v1.0h-1.0zM381.8 423.5h1.0v1.0h-1.0zM516.7 424.0h1.0v1.0h-1.0zM674.1 442.3h1.0v1.0h-1.0zM269.8 461.0h1.0v1.0h-1.0zM271.5 444.5h1.0v1.0h-1.0zM551.7 444.9h1.0v1.0h-1.0zM693.0 442.4h1.0v1.0h-1.0zM261.5 431.3h1.0v1.0h-1.0zM485.3 426.3h1.0v1.0h-1.0zM209.6 451.8h1.0v1.0h-1.0zM548.6 454.9h1.0v1.0h-1.0zM709.8 430.8h1.0v1.0h-1.0zM274.8 419.5h1.0v1.0h-1.0zM464.2 448.8h1.0v1.0h-1.0zM707.3 428.1h1.0v1.0h-1.0zM719.7 434.1h1.0v1.0h-1.0zM713.5 446.1h1.0v1.0h-1.0zM494.1 459.4h1.0v1.0h-1.0zM704.7 436.6h1.0v1.0h-1.0zM445.2 459.6h1.0v1.0h-1.0zM255.5 463.7h1.0v1.0h-1.0zM522.8 451.0h1.0v1.0h-1.0zM665.5 420.7h1.0v1.0h-1.0zM393.6 408.1h1.0v1.0h-1.0zM376.6 424.4h1.0v1.0h-1.0zM390.2 412.3h1.0v1.0h-1.0zM570.5 409.1h1.0v1.0h-1.0zM283.9 452.9h1.0v1.0h-1.0zM723.0 405.0h1.0v1.0h-1.0zM601.7 440.1h1.0v1.0h-1.0zM693.0 401.9h1.0v1.0h-1.0zM596.9 406.8h1.0v1.0h-1.0zM375.7 443.5h1.0v1.0h-1.0zM672.7 439.0h1.0v1.0h-1.0zM269.2 440.6h1.0v1.0h-1.0zM539.9 413.8h1.0v1.0h-1.0zM604.1 414.7h1.0v1.0h-1.0zM666.1 410.6h1.0v1.0h-1.0zM374.8 449.4h1.0v1.0h-1.0zM483.0 407.5h1.0v1.0h-1.0zM664.8 435.2h1.0v1.0h-1.0zM226.8 457.4h1.0v1.0h-1.0zM724.4 447.4h1.0v1.0h-1.0zM683.3 452.3h1.0v1.0h-1.0zM380.6 451.0h1.0v1.0h-1.0zM534.7 453.6h1.0v1.0h-1.0zM486.1 418.9h1.0v1.0h-1.0zM580.8 422.8h1.0v1.0h-1.0zM454.2 409.5h1.0v1.0h-1.0zM669.8 405.6h1.0v1.0h-1.0zM468.1 406.5h1.0v1.0h-1.0zM272.7 464.4h1.0v1.0h-1.0zM416.9 451.8h1.0v1.0h-1.0zM521.0 415.3h1.0v1.0h-1.0zM525.7 450.0h1.0v1.0h-1.0zM499.1 447.2h1.0v1.0h-1.0zM491.1 437.6h1.0v1.0h-1.0zM687.7 451.9h1.0v1.0h-1.0zM234.1 457.9h1.0v1.0h-1.0zM659.7 436.0h1.0v1.0h-1.0zM436.9 422.9h1.0v1.0h-1.0zM708.5 424.1h1.0v1.0h-1.0zM236.8 446.0h1.0v1.0h-1.0zM287.0 444.7h1.0v1.0h-1.0zM568.2 420.0h1.0v1.0h-1.0zM558.8 411.6h1.0v1.0h-1.0zM273.8 421.9h1.0v1.0h-1.0zM273.5 465.4h1.0v1.0h-1.0zM538.7 427.3h1.0v1.0h-1.0zM490.8 427.4h1.0v1.0h-1.0zM571.1 427.6h1.0v1.0h-1.0zM689.0 454.0h1.0v1.0h-1.0zM610.9 405.5h1.0v1.0h-1.0zM261.0 448.4h1.0v1.0h-1.0zM221.8 417.8h1.0v1.0h-1.0zM492.6 415.3h1.0v1.0h-1.0zM241.5 426.7h1.0v1.0h-1.0zM556.1 428.5h1.0v1.0h-1.0zM406.2 428.9h1.0v1.0h-1.0zM303.2 457.6h1.0v1.0h-1.0zM415.7 457.5h1.0v1.0h-1.0zM387.1 413.6h1.0v1.0h-1.0zM690.0 409.8h1.0v1.0h-1.0zM394.0 419.8h1.0v1.0h-1.0zM676.7 408.3h1.0v1.0h-1.0zM466.2 428.4h1.0v1.0h-1.0zM577.7 455.2h1.0v1.0h-1.0zM675.5 435.6h1.0v1.0h-1.0zM527.2 426.0h1.0v1.0h-1.0zM580.7 411.7h1.0v1.0h-1.0zM450.1 449.3h1.0v1.0h-1.0zM600.1 440.9h1.0v1.0h-1.0zM282.8 421.8h1.0v1.0h-1.0zM505.6 420.5h1.0v1.0h-1.0zM483.6 462.1h1.0v1.0h-1.0zM472.0 439.6h1.0v1.0h-1.0zM532.1 438.0h1.0v1.0h-1.0zM289.8 458.2h1.0v1.0h-1.0zM561.4 443.6h1.0v1.0h-1.0zM224.0 439.0h1.0v1.0h-1.0zM218.8 464.6h1.0v1.0h-1.0zM547.0 432.6h1.0v1.0h-1.0zM293.4 459.5h1.0v1.0h-1.0zM575.5 422.5h1.0v1.0h-1.0zM250.8 434.9h1.0v1.0h-1.0zM417.2 447.6h1.0v1.0h-1.0zM696.8 435.9h1.0v1.0h-1.0zM226.7 439.4h1.0v1.0h-1.0zM715.8 445.6h1.0v1.0h-1.0zM218.0 462.1h1.0v1.0h-1.0zM660.6 455.8h1.0v1.0h-1.0zM274.5 438.5h1.0v1.0h-1.0zM393.4 444.8h1.0v1.0h-1.0zM483.5 451.5h1.0v1.0h-1.0zM280.0 454.7h1.0v1.0h-1.0zM478.8 438.2h1.0v1.0h-1.0zM482.9 419.9h1.0v1.0h-1.0zM730.8 454.1h1.0v1.0h-1.0zM254.9 460.2h1.0v1.0h-1.0zM235.3 438.3h1.0v1.0h-1.0zM590.0 410.2h1.0v1.0h-1.0zM235.0 415.4h1.0v1.0h-1.0zM593.0 411.9h1.0v1.0h-1.0zM492.4 433.5h1.0v1.0h-1.0zM435.0 423.5h1.0v1.0h-1.0zM484.3 414.3h1.0v1.0h-1.0zM482.7 424.3h1.0v1.0h-1.0zM557.1 424.0h1.0v1.0h-1.0zM214.5 414.1h1.0v1.0h-1.0zM704.1 424.3h1.0v1.0h-1.0zM413.1 414.7h1.0v1.0h-1.0zM615.4 413.1h1.0v1.0h-1.0zM399.9 452.2h1.0v1.0h-1.0zM551.9 430.1h1.0v1.0h-1.0zM720.2 442.5h1.0v1.0h-1.0zM680.3 435.5h1.0v1.0h-1.0zM596.6 439.4h1.0v1.0h-1.0zM663.4 418.4h1.0v1.0h-1.0zM515.1 408.5h1.0v1.0h-1.0zM615.4 409.7h1.0v1.0h-1.0zM555.2 402.6h1.0v1.0h-1.0zM395.8 433.3h1.0v1.0h-1.0zM279.2 452.7h1.0v1.0h-1.0zM459.7 419.8h1.0v1.0h-1.0zM600.5 424.4h1.0v1.0h-1.0zM364.3 459.5h1.0v1.0h-1.0zM602.9 406.5h1.0v1.0h-1.0zM431.8 459.8h1.0v1.0h-1.0zM547.6 441.6h1.0v1.0h-1.0zM457.8 438.6h1.0v1.0h-1.0zM370.8 427.5h1.0v1.0h-1.0zM261.5 413.4h1.0v1.0h-1.0zM597.5 423.2h1.0v1.0h-1.0zM695.5 414.8h1.0v1.0h-1.0zM445.4 408.1h1.0v1.0h-1.0zM562.4 457.2h1.0v1.0h-1.0zM612.0 437.8h1.0v1.0h-1.0zM595.1 456.6h1.0v1.0h-1.0zM261.0 428.7h1.0v1.0h-1.0zM588.3 409.6h1.0v1.0h-1.0zM530.8 445.9h1.0v1.0h-1.0zM515.0 440.0h1.0v1.0h-1.0zM663.3 453.9h1.0v1.0h-1.0zM476.0 429.2h1.0v1.0h-1.0zM391.8 442.0h1.0v1.0h-1.0zM483.6 442.1h1.0v1.0h-1.0zM279.9 462.2h1.0v1.0h-1.0zM592.6 418.5h1.0v1.0h-1.0zM450.7 446.9h1.0v1.0h-1.0zM420.7 416.3h1.0v1.0h-1.0zM221.8 433.7h1.0v1.0h-1.0zM603.7 445.7h1.0v1.0h-1.0zM579.2 419.8h1.0v1.0h-1.0zM212.3 448.6h1.0v1.0h-1.0zM526.0 458.5h1.0v1.0h-1.0zM246.7 422.1h1.0v1.0h-1.0zM710.4 421.5h1.0v1.0h-1.0zM597.2 415.6h1.0v1.0h-1.0zM435.4 440.6h1.0v1.0h-1.0zM389.6 455.4h1.0v1.0h-1.0zM674.5 430.7h1.0v1.0h-1.0zM614.0 456.3h1.0v1.0h-1.0zM706.5 415.4h1.0v1.0h-1.0zM448.1 412.3h1.0v1.0h-1.0zM270.3 426.1h1.0v1.0h-1.0zM494.2 439.5h1.0v1.0h-1.0zM375.3 458.4h1.0v1.0h-1.0zM426.9 428.2h1.0v1.0h-1.0zM384.6 441.6h1.0v1.0h-1.0zM529.4 444.6h1.0v1.0h-1.0zM526.9 456.2h1.0v1.0h-1.0zM283.3 458.8h1.0v1.0h-1.0zM550.8 457.0h1.0v1.0h-1.0zM438.1 406.1h1.0v1.0h-1.0zM381.6 455.1h1.0v1.0h-1.0zM366.7 460.2h1.0v1.0h-1.0zM238.7 452.4h1.0v1.0h-1.0zM396.8 445.7h1.0v1.0h-1.0zM576.1 428.5h1.0v1.0h-1.0zM579.5 424.9h1.0v1.0h-1.0zM579.5 431.3h1.0v1.0h-1.0zM545.3 422.3h1.0v1.0h-1.0zM218.9 459.8h1.0v1.0h-1.0zM277.8 411.3h1.0v1.0h-1.0zM444.0 431.4h1.0v1.0h-1.0zM380.0 446.5h1.0v1.0h-1.0zM230.3 438.5h1.0v1.0h-1.0zM594.0 445.6h1.0v1.0h-1.0zM209.6 419.6h1.0v1.0h-1.0zM246.7 417.7h1.0v1.0h-1.0zM241.2 465.6h1.0v1.0h-1.0zM433.1 408.0h1.0v1.0h-1.0zM288.6 409.2h1.0v1.0h-1.0zM426.7 417.2h1.0v1.0h-1.0zM431.4 460.6h1.0v1.0h-1.0zM380.7 446.4h1.0v1.0h-1.0zM240.7 452.6h1.0v1.0h-1.0zM564.5 445.7h1.0v1.0h-1.0zM375.1 411.7h1.0v1.0h-1.0zM402.2 437.5h1.0v1.0h-1.0zM580.2 429.4h1.0v1.0h-1.0zM306.9 455.9h1.0v1.0h-1.0zM282.6 415.6h1.0v1.0h-1.0zM698.5 421.1h1.0v1.0h-1.0zM436.1 433.4h1.0v1.0h-1.0zM215.6 416.4h1.0v1.0h-1.0zM232.1 434.5h1.0v1.0h-1.0zM399.5 457.1h1.0v1.0h-1.0zM583.1 455.5h1.0v1.0h-1.0zM614.2 448.1h1.0v1.0h-1.0zM712.0 434.2h1.0v1.0h-1.0zM289.0 419.4h1.0v1.0h-1.0zM460.5 441.9h1.0v1.0h-1.0zM494.0 425.7h1.0v1.0h-1.0zM669.8 421.9h1.0v1.0h-1.0zM686.3 440.0h1.0v1.0h-1.0zM480.6 415.9h1.0v1.0h-1.0zM460.0 462.5h1.0v1.0h-1.0zM431.3 412.6h1.0v1.0h-1.0zM515.4 460.0h1.0v1.0h-1.0zM542.8 446.7h1.0v1.0h-1.0zM566.4 404.6h1.0v1.0h-1.0zM269.5 455.9h1.0v1.0h-1.0zM673.9 418.0h1.0v1.0h-1.0zM563.1 414.9h1.0v1.0h-1.0zM218.2 456.1h1.0v1.0h-1.0zM252.5 462.2h1.0v1.0h-1.0zM520.6 422.5h1.0v1.0h-1.0zM499.8 430.0h1.0v1.0h-1.0zM677.6 446.9h1.0v1.0h-1.0zM601.7 406.5h1.0v1.0h-1.0zM281.6 442.3h1.0v1.0h-1.0zM262.3 422.6h1.0v1.0h-1.0zM494.4 408.2h1.0v1.0h-1.0zM472.9 460.1h1.0v1.0h-1.0zM518.2 439.7h1.0v1.0h-1.0zM534.4 451.3h1.0v1.0h-1.0zM539.5 428.3h1.0v1.0h-1.0zM260.5 462.1h1.0v1.0h-1.0zM660.0 411.7h1.0v1.0h-1.0zM522.1 437.6h1.0v1.0h-1.0zM503.6 451.2h1.0v1.0h-1.0zM525.2 424.2h1.0v1.0h-1.0zM555.1 410.1h1.0v1.0h-1.0zM469.4 442.9h1.0v1.0h-1.0zM659.1 409.0h1.0v1.0h-1.0zM413.7 448.3h1.0v1.0h-1.0zM489.1 428.9h1.0v1.0h-1.0zM532.1 432.5h1.0v1.0h-1.0zM258.8 432.9h1.0v1.0h-1.0zM380.9 449.0h1.0v1.0h-1.0zM714.1 431.1h1.0v1.0h-1.0zM372.6 409.6h1.0v1.0h-1.0zM372.5 421.9h1.0v1.0h-1.0zM529.2 450.4h1.0v1.0h-1.0zM457.8 423.3h1.0v1.0h-1.0zM546.5 431.6h1.0v1.0h-1.0zM408.1 414.6h1.0v1.0h-1.0zM576.0 437.9h1.0v1.0h-1.0zM613.4 455.0h1.0v1.0h-1.0zM376.8 407.6h1.0v1.0h-1.0zM453.1 411.4h1.0v1.0h-1.0zM287.8 418.0h1.0v1.0h-1.0zM273.4 442.5h1.0v1.0h-1.0zM563.8 420.3h1.0v1.0h-1.0zM600.8 419.1h1.0v1.0h-1.0zM511.4 405.3h1.0v1.0h-1.0zM424.7 421.4h1.0v1.0h-1.0zM395.6 416.9h1.0v1.0h-1.0zM533.6 412.1h1.0v1.0h-1.0zM695.8 437.7h1.0v1.0h-1.0zM509.7 434.9h1.0v1.0h-1.0zM604.6 432.6h1.0v1.0h-1.0zM434.5 409.9h1.0v1.0h-1.0zM255.8 437.8h1.0v1.0h-1.0zM540.2 441.2h1.0v1.0h-1.0zM580.6 409.9h1.0v1.0h-1.0zM571.9 413.4h1.0v1.0h-1.0zM581.9 434.4h1.0v1.0h-1.0zM392.7 436.7h1.0v1.0h-1.0zM471.3 435.1h1.0v1.0h-1.0zM612.4 403.5h1.0v1.0h-1.0zM259.5 409.1h1.0v1.0h-1.0zM670.4 431.1h1.0v1.0h-1.0zM478.5 411.5h1.0v1.0h-1.0zM718.6 437.8h1.0v1.0h-1.0zM691.5 431.0h1.0v1.0h-1.0zM234.4 446.9h1.0v1.0h-1.0zM225.1 452.0h1.0v1.0h-1.0zM611.4 453.8h1.0v1.0h-1.0zM279.0 414.6h1.0v1.0h-1.0zM589.4 405.4h1.0v1.0h-1.0zM488.5 426.8h1.0v1.0h-1.0zM257.6 456.3h1.0v1.0h-1.0zM213.0 418.5h1.0v1.0h-1.0zM295.3 445.9h1.0v1.0h-1.0zM480.2 429.5h1.0v1.0h-1.0zM715.1 445.6h1.0v1.0h-1.0zM524.3 451.8h1.0v1.0h-1.0zM243.4 440.9h1.0v1.0h-1.0zM731.9 404.2h1.0v1.0h-1.0zM713.2 416.1h1.0v1.0h-1.0zM479.8 405.9h1.0v1.0h-1.0zM233.8 444.4h1.0v1.0h-1.0zM512.3 415.3h1.0v1.0h-1.0zM515.3 438.6h1.0v1.0h-1.0zM616.3 418.4h1.0v1.0h-1.0zM393.2 427.0h1.0v1.0h-1.0zM728.6 444.7h1.0v1.0h-1.0zM253.2 456.9h1.0v1.0h-1.0zM441.9 427.1h1.0v1.0h-1.0zM220.4 449.4h1.0v1.0h-1.0zM472.7 411.8h1.0v1.0h-1.0zM372.6 432.9h1.0v1.0h-1.0zM420.0 407.5h1.0v1.0h-1.0zM680.1 404.3h1.0v1.0h-1.0zM617.0 453.8h1.0v1.0h-1.0zM411.9 452.0h1.0v1.0h-1.0zM303.1 456.5h1.0v1.0h-1.0zM664.0 425.1h1.0v1.0h-1.0zM513.0 450.3h1.0v1.0h-1.0zM552.9 422.3h1.0v1.0h-1.0zM444.7 462.9h1.0v1.0h-1.0zM302.5 456.4h1.0v1.0h-1.0zM393.5 453.9h1.0v1.0h-1.0zM561.7 437.8h1.0v1.0h-1.0zM420.9 424.3h1.0v1.0h-1.0zM497.0 418.5h1.0v1.0h-1.0zM496.3 407.0h1.0v1.0h-1.0zM679.0 403.1h1.0v1.0h-1.0zM600.5 456.9h1.0v1.0h-1.0zM432.4 422.8h1.0v1.0h-1.0zM708.3 455.2h1.0v1.0h-1.0zM466.2 413.5h1.0v1.0h-1.0zM427.9 453.9h1.0v1.0h-1.0zM539.7 433.4h1.0v1.0h-1.0zM551.8 422.8h1.0v1.0h-1.0zM589.9 432.6h1.0v1.0h-1.0zM225.1 421.2h1.0v1.0h-1.0zM365.8 406.7h1.0v1.0h-1.0zM666.9 429.1h1.0v1.0h-1.0zM724.4 456.4h1.0v1.0h-1.0zM498.7 430.6h1.0v1.0h-1.0zM246.8 420.4h1.0v1.0h-1.0zM564.6 407.4h1.0v1.0h-1.0zM550.6 408.3h1.0v1.0h-1.0zM462.4 462.0h1.0v1.0h-1.0zM447.1 407.6h1.0v1.0h-1.0zM216.9 423.6h1.0v1.0h-1.0zM387.0 458.3h1.0v1.0h-1.0zM571.9 430.7h1.0v1.0h-1.0zM693.1 446.6h1.0v1.0h-1.0zM387.6 415.7h1.0v1.0h-1.0zM525.7 428.1h1.0v1.0h-1.0zM383.6 454.1h1.0v1.0h-1.0zM455.1 442.3h1.0v1.0h-1.0zM564.0 428.5h1.0v1.0h-1.0zM433.7 461.6h1.0v1.0h-1.0zM531.5 455.7h1.0v1.0h-1.0zM611.6 415.1h1.0v1.0h-1.0zM697.6 406.7h1.0v1.0h-1.0zM454.3 444.8h1.0v1.0h-1.0zM440.1 437.6h1.0v1.0h-1.0zM411.5 441.8h1.0v1.0h-1.0zM488.5 454.4h1.0v1.0h-1.0zM212.5 452.0h1.0v1.0h-1.0zM521.9 460.0h1.0v1.0h-1.0zM252.4 465.7h1.0v1.0h-1.0zM567.2 421.6h1.0v1.0h-1.0zM293.0 423.3h1.0v1.0h-1.0zM568.7 446.5h1.0v1.0h-1.0zM580.6 404.7h1.0v1.0h-1.0zM213.7 409.9h1.0v1.0h-1.0zM230.7 449.0h1.0v1.0h-1.0zM421.8 444.1h1.0v1.0h-1.0zM209.8 421.4h1.0v1.0h-1.0zM602.7 405.1h1.0v1.0h-1.0zM274.0 410.0h1.0v1.0h-1.0zM568.4 450.3h1.0v1.0h-1.0zM220.6 424.8h1.0v1.0h-1.0zM606.4 442.2h1.0v1.0h-1.0zM519.0 450.5h1.0v1.0h-1.0zM393.8 431.3h1.0v1.0h-1.0zM298.5 464.4h1.0v1.0h-1.0zM610.9 415.3h1.0v1.0h-1.0zM608.1 412.9h1.0v1.0h-1.0zM440.1 462.2h1.0v1.0h-1.0zM577.0 456.0h1.0v1.0h-1.0zM287.0 449.5h1.0v1.0h-1.0zM389.6 451.8h1.0v1.0h-1.0zM566.7 403.1h1.0v1.0h-1.0zM263.6 465.6h1.0v1.0h-1.0zM448.4 440.4h1.0v1.0h-1.0zM303.5 456.9h1.0v1.0h-1.0zM231.0 409.9h1.0v1.0h-1.0zM723.4 423.7h1.0v1.0h-1.0zM604.7 424.4h1.0v1.0h-1.0zM682.2 456.9h1.0v1.0h-1.0zM577.0 428.7h1.0v1.0h-1.0zM401.9 414.7h1.0v1.0h-1.0zM472.9 450.0h1.0v1.0h-1.0zM541.6 440.7h1.0v1.0h-1.0zM222.0 447.2h1.0v1.0h-1.0zM678.6 403.9h1.0v1.0h-1.0zM573.6 457.8h1.0v1.0h-1.0zM459.2 446.0h1.0v1.0h-1.0zM386.7 426.0h1.0v1.0h-1.0zM439.7 440.0h1.0v1.0h-1.0zM481.6 435.3h1.0v1.0h-1.0zM726.5 445.6h1.0v1.0h-1.0zM293.4 421.0h1.0v1.0h-1.0zM508.9 437.6h1.0v1.0h-1.0zM279.7 464.3h1.0v1.0h-1.0zM485.5 438.1h1.0v1.0h-1.0zM433.3 411.6h1.0v1.0h-1.0zM280.6 424.7h1.0v1.0h-1.0zM576.7 435.0h1.0v1.0h-1.0zM419.4 438.6h1.0v1.0h-1.0zM358.3 462.5h1.0v1.0h-1.0zM366.9 446.9h1.0v1.0h-1.0zM722.0 432.6h1.0v1.0h-1.0zM678.7 441.2h1.0v1.0h-1.0zM288.9 448.8h1.0v1.0h-1.0zM452.9 458.2h1.0v1.0h-1.0zM697.6 426.0h1.0v1.0h-1.0zM611.6 413.6h1.0v1.0h-1.0zM461.8 428.7h1.0v1.0h-1.0zM583.3 412.1h1.0v1.0h-1.0zM226.5 424.6h1.0v1.0h-1.0zM710.7 424.4h1.0v1.0h-1.0zM544.4 444.3h1.0v1.0h-1.0zM697.1 407.7h1.0v1.0h-1.0zM423.4 435.4h1.0v1.0h-1.0zM574.5 423.7h1.0v1.0h-1.0zM531.7 457.6h1.0v1.0h-1.0zM280.8 433.4h1.0v1.0h-1.0zM526.7 438.0h1.0v1.0h-1.0zM235.7 430.0h1.0v1.0h-1.0zM414.5 459.4h1.0v1.0h-1.0zM501.0 407.5h1.0v1.0h-1.0zM534.3 403.5h1.0v1.0h-1.0zM604.5 458.1h1.0v1.0h-1.0zM663.3 450.0h1.0v1.0h-1.0zM357.3 456.8h1.0v1.0h-1.0zM533.3 412.8h1.0v1.0h-1.0zM703.0 427.2h1.0v1.0h-1.0zM381.0 407.0h1.0v1.0h-1.0zM539.7 439.1h1.0v1.0h-1.0zM673.8 442.5h1.0v1.0h-1.0zM228.6 408.8h1.0v1.0h-1.0zM728.4 434.5h1.0v1.0h-1.0zM395.7 415.1h1.0v1.0h-1.0zM498.3 416.0h1.0v1.0h-1.0zM593.0 407.3h1.0v1.0h-1.0zM532.8 443.5h1.0v1.0h-1.0zM481.0 428.8h1.0v1.0h-1.0zM610.5 438.2h1.0v1.0h-1.0zM718.4 401.7h1.0v1.0h-1.0zM434.3 455.5h1.0v1.0h-1.0zM474.1 431.6h1.0v1.0h-1.0zM542.5 444.4h1.0v1.0h-1.0zM493.4 427.1h1.0v1.0h-1.0zM683.2 408.6h1.0v1.0h-1.0zM519.4 433.1h1.0v1.0h-1.0zM372.6 457.1h1.0v1.0h-1.0zM718.7 402.9h1.0v1.0h-1.0zM227.7 443.9h1.0v1.0h-1.0zM289.1 409.9h1.0v1.0h-1.0zM243.7 414.4h1.0v1.0h-1.0zM567.2 403.7h1.0v1.0h-1.0zM701.6 446.4h1.0v1.0h-1.0zM505.9 410.6h1.0v1.0h-1.0zM579.4 441.2h1.0v1.0h-1.0zM492.8 414.1h1.0v1.0h-1.0zM226.9 410.7h1.0v1.0h-1.0zM482.3 432.9h1.0v1.0h-1.0zM430.0 413.5h1.0v1.0h-1.0zM485.4 410.2h1.0v1.0h-1.0zM490.9 425.4h1.0v1.0h-1.0zM560.8 458.0h1.0v1.0h-1.0zM671.9 410.1h1.0v1.0h-1.0zM564.9 450.9h1.0v1.0h-1.0zM237.7 465.8h1.0v1.0h-1.0zM710.9 422.3h1.0v1.0h-1.0zM481.1 447.1h1.0v1.0h-1.0zM593.1 420.4h1.0v1.0h-1.0zM580.7 427.7h1.0v1.0h-1.0zM608.7 455.6h1.0v1.0h-1.0zM661.1 430.8h1.0v1.0h-1.0zM521.7 430.2h1.0v1.0h-1.0zM571.1 449.3h1.0v1.0h-1.0zM460.7 433.6h1.0v1.0h-1.0zM676.0 400.8h1.0v1.0h-1.0zM450.5 432.0h1.0v1.0h-1.0zM462.0 405.3h1.0v1.0h-1.0zM700.0 402.6h1.0v1.0h-1.0zM226.8 464.0h1.0v1.0h-1.0zM249.6 429.5h1.0v1.0h-1.0zM550.6 441.3h1.0v1.0h-1.0zM276.3 431.1h1.0v1.0h-1.0zM434.3 433.8h1.0v1.0h-1.0zM468.2 429.0h1.0v1.0h-1.0zM492.0 426.5h1.0v1.0h-1.0zM287.5 461.6h1.0v1.0h-1.0zM727.2 402.8h1.0v1.0h-1.0zM241.9 465.0h1.0v1.0h-1.0zM586.1 434.4h1.0v1.0h-1.0zM251.7 426.7h1.0v1.0h-1.0zM455.1 461.6h1.0v1.0h-1.0zM249.6 457.6h1.0v1.0h-1.0zM564.7 426.4h1.0v1.0h-1.0zM473.0 410.1h1.0v1.0h-1.0zM567.2 403.8h1.0v1.0h-1.0zM524.3 425.3h1.0v1.0h-1.0zM249.4 456.5h1.0v1.0h-1.0zM575.3 414.0h1.0v1.0h-1.0zM664.4 417.2h1.0v1.0h-1.0zM242.6 447.6h1.0v1.0h-1.0zM397.2 452.9h1.0v1.0h-1.0zM217.6 423.8h1.0v1.0h-1.0zM497.6 454.6h1.0v1.0h-1.0zM578.0 412.2h1.0v1.0h-1.0zM242.0 459.9h1.0v1.0h-1.0zM218.4 458.4h1.0v1.0h-1.0zM527.9 414.9h1.0v1.0h-1.0zM220.9 422.6h1.0v1.0h-1.0zM363.8 452.9h1.0v1.0h-1.0zM721.4 427.4h1.0v1.0h-1.0zM483.1 424.3h1.0v1.0h-1.0zM661.9 412.5h1.0v1.0h-1.0zM255.4 419.0h1.0v1.0h-1.0zM230.3 447.6h1.0v1.0h-1.0zM689.8 445.5h1.0v1.0h-1.0zM554.6 452.1h1.0v1.0h-1.0zM353.0 458.8h1.0v1.0h-1.0zM532.0 414.9h1.0v1.0h-1.0zM725.4 416.8h1.0v1.0h-1.0zM222.7 448.5h1.0v1.0h-1.0zM407.4 455.2h1.0v1.0h-1.0zM696.5 453.0h1.0v1.0h-1.0zM728.3 425.6h1.0v1.0h-1.0zM521.2 407.6h1.0v1.0h-1.0zM449.7 430.2h1.0v1.0h-1.0zM429.3 453.5h1.0v1.0h-1.0zM412.0 451.6h1.0v1.0h-1.0zM399.8 430.7h1.0v1.0h-1.0zM282.5 426.8h1.0v1.0h-1.0zM699.6 422.1h1.0v1.0h-1.0zM212.2 421.3h1.0v1.0h-1.0zM408.2 420.4h1.0v1.0h-1.0zM557.0 416.8h1.0v1.0h-1.0zM414.8 453.8h1.0v1.0h-1.0zM417.9 431.0h1.0v1.0h-1.0zM257.5 430.1h1.0v1.0h-1.0zM301.7 453.1h1.0v1.0h-1.0zM539.3 402.8h1.0v1.0h-1.0zM235.9 457.4h1.0v1.0h-1.0zM405.9 408.6h1.0v1.0h-1.0zM455.4 449.0h1.0v1.0h-1.0zM490.3 435.2h1.0v1.0h-1.0zM235.1 457.5h1.0v1.0h-1.0zM678.3 452.1h1.0v1.0h-1.0zM498.2 451.4h1.0v1.0h-1.0zM544.1 435.3h1.0v1.0h-1.0zM383.4 422.2h1.0v1.0h-1.0zM659.5 424.6h1.0v1.0h-1.0zM686.7 424.1h1.0v1.0h-1.0zM462.9 419.7h1.0v1.0h-1.0zM312.7 462.3h1.0v1.0h-1.0zM516.2 415.1h1.0v1.0h-1.0zM421.2 416.8h1.0v1.0h-1.0zM559.1 453.5h1.0v1.0h-1.0zM217.6 430.8h1.0v1.0h-1.0zM250.5 411.9h1.0v1.0h-1.0zM516.5 448.7h1.0v1.0h-1.0zM286.3 438.8h1.0v1.0h-1.0zM296.8 461.5h1.0v1.0h-1.0zM405.4 458.9h1.0v1.0h-1.0zM507.5 435.7h1.0v1.0h-1.0zM440.7 411.4h1.0v1.0h-1.0zM673.7 424.3h1.0v1.0h-1.0zM593.8 419.3h1.0v1.0h-1.0zM678.2 446.1h1.0v1.0h-1.0zM570.6 433.4h1.0v1.0h-1.0zM289.0 453.8h1.0v1.0h-1.0zM429.5 452.6h1.0v1.0h-1.0zM719.3 451.7h1.0v1.0h-1.0zM478.2 438.2h1.0v1.0h-1.0zM665.6 409.6h1.0v1.0h-1.0zM565.1 414.2h1.0v1.0h-1.0zM405.8 432.2h1.0v1.0h-1.0zM515.7 407.7h1.0v1.0h-1.0zM697.7 455.9h1.0v1.0h-1.0zM457.1 439.6h1.0v1.0h-1.0zM591.9 436.2h1.0v1.0h-1.0zM554.7 424.5h1.0v1.0h-1.0zM597.3 431.3h1.0v1.0h-1.0zM467.0 431.4h1.0v1.0h-1.0zM413.5 408.1h1.0v1.0h-1.0zM279.1 463.9h1.0v1.0h-1.0zM520.9 417.5h1.0v1.0h-1.0zM700.3 432.2h1.0v1.0h-1.0zM708.1 415.8h1.0v1.0h-1.0zM526.7 426.1h1.0v1.0h-1.0zM224.6 411.0h1.0v1.0h-1.0zM503.9 422.5h1.0v1.0h-1.0zM570.8 418.5h1.0v1.0h-1.0zM685.0 436.3h1.0v1.0h-1.0zM591.5 422.4h1.0v1.0h-1.0zM573.4 453.6h1.0v1.0h-1.0zM402.2 446.6h1.0v1.0h-1.0zM685.0 438.8h1.0v1.0h-1.0zM430.0 422.1h1.0v1.0h-1.0zM222.1 461.6h1.0v1.0h-1.0zM714.1 450.1h1.0v1.0h-1.0zM482.0 414.0h1.0v1.0h-1.0zM432.3 449.6h1.0v1.0h-1.0zM211.0 412.1h1.0v1.0h-1.0zM467.6 452.6h1.0v1.0h-1.0zM453.6 452.1h1.0v1.0h-1.0zM595.0 426.1h1.0v1.0h-1.0zM611.5 436.4h1.0v1.0h-1.0zM289.3 426.6h1.0v1.0h-1.0zM529.3 411.6h1.0v1.0h-1.0zM713.7 440.7h1.0v1.0h-1.0zM407.0 410.2h1.0v1.0h-1.0zM507.3 455.1h1.0v1.0h-1.0zM667.5 425.9h1.0v1.0h-1.0zM600.1 431.8h1.0v1.0h-1.0zM394.9 437.7h1.0v1.0h-1.0zM504.9 458.3h1.0v1.0h-1.0zM538.3 446.9h1.0v1.0h-1.0zM484.3 445.0h1.0v1.0h-1.0zM485.2 446.3h1.0v1.0h-1.0zM435.3 451.1h1.0v1.0h-1.0zM374.4 418.3h1.0v1.0h-1.0zM451.4 433.6h1.0v1.0h-1.0zM517.8 402.3h1.0v1.0h-1.0zM597.5 437.1h1.0v1.0h-1.0zM664.4 420.3h1.0v1.0h-1.0zM721.4 416.5h1.0v1.0h-1.0zM494.7 460.0h1.0v1.0h-1.0zM421.9 424.8h1.0v1.0h-1.0zM245.1 442.9h1.0v1.0h-1.0zM385.2 453.7h1.0v1.0h-1.0zM516.0 426.5h1.0v1.0h-1.0zM246.6 435.5h1.0v1.0h-1.0zM612.6 439.0h1.0v1.0h-1.0zM476.5 440.3h1.0v1.0h-1.0zM210.8 464.0h1.0v1.0h-1.0zM370.3 433.4h1.0v1.0h-1.0zM503.0 409.5h1.0v1.0h-1.0zM709.0 430.6h1.0v1.0h-1.0zM219.5 410.6h1.0v1.0h-1.0zM521.1 406.5h1.0v1.0h-1.0zM427.9 453.4h1.0v1.0h-1.0zM545.2 416.4h1.0v1.0h-1.0zM515.5 404.1h1.0v1.0h-1.0zM680.2 421.1h1.0v1.0h-1.0zM698.5 453.7h1.0v1.0h-1.0zM433.6 437.5h1.0v1.0h-1.0zM726.9 402.2h1.0v1.0h-1.0zM431.1 453.6h1.0v1.0h-1.0zM597.1 425.6h1.0v1.0h-1.0zM457.9 455.3h1.0v1.0h-1.0zM606.8 413.4h1.0v1.0h-1.0zM378.1 434.6h1.0v1.0h-1.0zM393.5 437.4h1.0v1.0h-1.0zM541.7 408.7h1.0v1.0h-1.0zM725.2 408.1h1.0v1.0h-1.0zM519.7 437.0h1.0v1.0h-1.0zM220.2 430.9h1.0v1.0h-1.0zM464.2 436.4h1.0v1.0h-1.0zM457.1 461.4h1.0v1.0h-1.0zM266.8 411.6h1.0v1.0h-1.0zM272.3 420.0h1.0v1.0h-1.0zM457.6 439.6h1.0v1.0h-1.0zM599.2 404.8h1.0v1.0h-1.0zM232.3 437.6h1.0v1.0h-1.0zM274.0 452.9h1.0v1.0h-1.0zM521.1 440.6h1.0v1.0h-1.0zM568.7 452.2h1.0v1.0h-1.0zM223.8 444.7h1.0v1.0h-1.0zM385.8 451.8h1.0v1.0h-1.0zM616.3 403.2h1.0v1.0h-1.0zM377.0 446.6h1.0v1.0h-1.0zM562.3 413.4h1.0v1.0h-1.0zM488.1 435.9h1.0v1.0h-1.0zM490.3 451.7h1.0v1.0h-1.0zM553.5 421.1h1.0v1.0h-1.0zM276.9 464.3h1.0v1.0h-1.0zM447.8 421.3h1.0v1.0h-1.0zM700.1 454.3h1.0v1.0h-1.0zM482.1 433.3h1.0v1.0h-1.0zM709.1 454.5h1.0v1.0h-1.0zM699.6 454.5h1.0v1.0h-1.0zM211.3 431.9h1.0v1.0h-1.0zM476.6 459.2h1.0v1.0h-1.0zM691.8 410.7h1.0v1.0h-1.0zM252.3 450.4h1.0v1.0h-1.0zM685.9 421.1h1.0v1.0h-1.0zM467.9 432.9h1.0v1.0h-1.0zM575.7 458.8h1.0v1.0h-1.0zM233.1 426.3h1.0v1.0h-1.0zM571.6 418.6h1.0v1.0h-1.0zM599.6 453.5h1.0v1.0h-1.0zM216.7 447.3h1.0v1.0h-1.0zM482.6 444.5h1.0v1.0h-1.0zM214.3 462.2h1.0v1.0h-1.0zM679.3 444.8h1.0v1.0h-1.0zM662.6 427.3h1.0v1.0h-1.0zM588.3 413.1h1.0v1.0h-1.0zM599.3 445.8h1.0v1.0h-1.0zM274.8 423.6h1.0v1.0h-1.0zM537.0 405.0h1.0v1.0h-1.0zM549.0 434.6h1.0v1.0h-1.0zM263.9 465.2h1.0v1.0h-1.0zM229.3 410.7h1.0v1.0h-1.0zM294.5 450.1h1.0v1.0h-1.0zM211.9 420.2h1.0v1.0h-1.0zM423.1 460.3h1.0v1.0h-1.0zM259.4 458.1h1.0v1.0h-1.0zM242.5 460.8h1.0v1.0h-1.0zM607.4 440.2h1.0v1.0h-1.0zM572.3 456.6h1.0v1.0h-1.0zM493.9 437.2h1.0v1.0h-1.0zM234.1 425.6h1.0v1.0h-1.0zM542.1 423.3h1.0v1.0h-1.0zM693.7 451.2h1.0v1.0h-1.0zM684.3 451.7h1.0v1.0h-1.0zM718.1 455.4h1.0v1.0h-1.0zM232.7 441.9h1.0v1.0h-1.0zM286.1 442.1h1.0v1.0h-1.0zM367.8 412.6h1.0v1.0h-1.0zM705.1 447.8h1.0v1.0h-1.0zM228.3 436.6h1.0v1.0h-1.0zM574.4 406.7h1.0v1.0h-1.0zM289.5 448.3h1.0v1.0h-1.0zM251.4 428.3h1.0v1.0h-1.0zM251.5 464.0h1.0v1.0h-1.0zM605.4 444.6h1.0v1.0h-1.0zM421.0 442.8h1.0v1.0h-1.0zM229.7 414.3h1.0v1.0h-1.0zM552.7 409.9h1.0v1.0h-1.0zM425.2 419.7h1.0v1.0h-1.0zM536.6 402.9h1.0v1.0h-1.0zM373.2 410.9h1.0v1.0h-1.0zM242.5 436.2h1.0v1.0h-1.0zM465.4 425.2h1.0v1.0h-1.0zM681.2 422.0h1.0v1.0h-1.0zM226.6 430.8h1.0v1.0h-1.0zM217.6 416.2h1.0v1.0h-1.0zM278.5 460.9h1.0v1.0h-1.0zM675.8 454.0h1.0v1.0h-1.0zM434.5 431.6h1.0v1.0h-1.0zM239.9 431.1h1.0v1.0h-1.0zM447.7 431.3h1.0v1.0h-1.0zM432.9 412.8h1.0v1.0h-1.0zM526.0 408.8h1.0v1.0h-1.0zM499.9 410.8h1.0v1.0h-1.0zM519.9 428.8h1.0v1.0h-1.0zM262.0 430.6h1.0v1.0h-1.0zM664.2 399.3h1.0v1.0h-1.0zM614.5 445.1h1.0v1.0h-1.0zM396.5 433.8h1.0v1.0h-1.0zM391.9 410.5h1.0v1.0h-1.0zM458.2 413.7h1.0v1.0h-1.0zM598.1 402.9h1.0v1.0h-1.0zM251.6 427.1h1.0v1.0h-1.0zM698.8 417.7h1.0v1.0h-1.0zM597.6 416.8h1.0v1.0h-1.0zM289.2 448.5h1.0v1.0h-1.0zM446.5 449.7h1.0v1.0h-1.0zM432.5 425.2h1.0v1.0h-1.0zM588.6 419.7h1.0v1.0h-1.0zM288.1 434.0h1.0v1.0h-1.0zM273.2 415.2h1.0v1.0h-1.0zM252.9 446.9h1.0v1.0h-1.0zM500.9 436.0h1.0v1.0h-1.0zM486.9 440.9h1.0v1.0h-1.0zM407.7 456.3h1.0v1.0h-1.0zM602.1 448.0h1.0v1.0h-1.0zM708.5 401.3h1.0v1.0h-1.0zM667.3 441.8h1.0v1.0h-1.0zM427.1 405.8h1.0v1.0h-1.0zM552.1 407.4h1.0v1.0h-1.0zM584.7 458.5h1.0v1.0h-1.0zM727.7 448.6h1.0v1.0h-1.0zM503.2 451.1h1.0v1.0h-1.0zM267.5 443.4h1.0v1.0h-1.0zM450.2 439.6h1.0v1.0h-1.0zM444.0 456.6h1.0v1.0h-1.0zM485.8 415.4h1.0v1.0h-1.0zM288.5 409.6h1.0v1.0h-1.0zM555.4 409.3h1.0v1.0h-1.0z" fill="#555"/><path d="M209.3 413.6H251.4M218.6 416.4H267.0M231.4 420.0H268.6M243.0 422.9H284.3M237.9 426.7H275.7M230.7 430.0H261.4M222.0 433.6H250.0M215.0 437.1H240.0M227.9 440.4H249.3M239.3 442.6H266.4M229.3 453.6H291.4M245.7 457.1H295.0M372.7 421.6H453.4M391.6 424.3H470.8M412.0 427.1H478.7M432.8 430.6H488.0M447.0 433.4H497.7M456.5 437.4H505.0M452.6 440.9H494.5M446.0 445.2H474.0M432.0 448.5H465.0M383.7 454.8H505.0M571.5 405.8H612.6M562.0 409.8H600.8M553.3 413.4H589.7M542.2 416.6H578.6M554.9 419.7H586.5M566.0 423.2H594.4M575.4 426.4H605.5M569.9 429.6H595.2M560.4 432.7H589.7M545.4 436.4H585.0M519.3 440.3H573.9M550.0 443.8H614.0M570.0 447.0H610.0M490.0 451.7H524.8M490.0 432.7H498.0M490.0 436.7H501.0M600.0 405.7H613.0M600.0 443.4H614.0M600.0 446.8H612.0M675.4 414.3H696.0M684.0 416.8H711.4M693.4 419.8H725.0M699.4 422.5H732.0M698.5 426.3H730.0M695.0 429.7H725.0M689.0 433.5H720.0M682.0 436.5H711.4M670.0 440.0H704.5M663.4 443.4H696.0M668.5 446.8H701.0M680.5 450.3H709.7M687.4 453.3H706.2" stroke="#000" stroke-width="1.15" fill="none"/><path d="M437 96.6h1.5v1.5h-1.5z M454.7 152.6h1.5v1.5h-1.5z M351 293h1.5v1.5h-1.5z" fill="#333"/><path d="M207.5 354.6 L385 352 L385 388.5 L207.5 391.2 Z" fill="#fff"/><path d="M207.5 354.6 L385 352 L385 388.5 L207.5 391.2" fill="none" stroke="#000" stroke-width="1.7"/><path d="M187 374.5h1.4v1.4h-1.4z" fill="#222"/><path d="M315.5 357.8h1.0v1.0h-1.0zM244.9 358.6h1.0v1.0h-1.0zM277.9 356.6h1.0v1.0h-1.0zM261.0 357.8h1.0v1.0h-1.0zM346.1 356.2h1.0v1.0h-1.0zM267.5 358.9h1.0v1.0h-1.0zM337.4 359.9h1.0v1.0h-1.0zM277.3 360.2h1.0v1.0h-1.0zM297.8 357.6h1.0v1.0h-1.0zM299.7 360.6h1.0v1.0h-1.0zM250.4 358.5h1.0v1.0h-1.0zM226.2 360.6h1.0v1.0h-1.0zM242.1 357.6h1.0v1.0h-1.0zM233.6 358.0h1.0v1.0h-1.0zM345.7 357.9h1.0v1.0h-1.0zM310.6 357.8h1.0v1.0h-1.0zM365.6 357.8h1.0v1.0h-1.0zM249.9 357.8h1.0v1.0h-1.0zM249.4 358.9h1.0v1.0h-1.0zM257.2 358.4h1.0v1.0h-1.0zM212.0 356.3h1.0v1.0h-1.0zM285.4 359.5h1.0v1.0h-1.0zM361.1 357.4h1.0v1.0h-1.0zM220.4 356.4h1.0v1.0h-1.0zM334.9 358.3h1.0v1.0h-1.0zM236.5 358.8h1.0v1.0h-1.0zM350.1 360.4h1.0v1.0h-1.0zM359.8 360.8h1.0v1.0h-1.0zM361.2 359.5h1.0v1.0h-1.0zM276.9 357.0h1.0v1.0h-1.0zM369.9 357.3h1.0v1.0h-1.0zM228.7 360.2h1.0v1.0h-1.0zM342.6 358.8h1.0v1.0h-1.0zM338.4 360.5h1.0v1.0h-1.0zM299.6 360.1h1.0v1.0h-1.0zM292.8 360.6h1.0v1.0h-1.0zM333.8 356.8h1.0v1.0h-1.0zM255.3 356.4h1.0v1.0h-1.0zM246.2 357.5h1.0v1.0h-1.0zM291.0 358.8h1.0v1.0h-1.0zM324.3 358.3h1.0v1.0h-1.0zM318.9 357.5h1.0v1.0h-1.0zM272.8 358.7h1.0v1.0h-1.0zM305.4 360.7h1.0v1.0h-1.0zM357.8 356.9h1.0v1.0h-1.0zM307.6 356.9h1.0v1.0h-1.0zM237.6 360.5h1.0v1.0h-1.0zM220.6 358.3h1.0v1.0h-1.0zM280.9 356.9h1.0v1.0h-1.0zM364.7 357.0h1.0v1.0h-1.0zM217.1 360.0h1.0v1.0h-1.0zM223.9 359.5h1.0v1.0h-1.0zM224.0 358.8h1.0v1.0h-1.0zM243.0 356.9h1.0v1.0h-1.0zM289.0 357.6h1.0v1.0h-1.0zM333.9 360.5h1.0v1.0h-1.0zM272.9 356.5h1.0v1.0h-1.0zM223.3 357.8h1.0v1.0h-1.0zM352.4 356.4h1.0v1.0h-1.0zM345.0 356.7h1.0v1.0h-1.0zM265.3 357.5h1.0v1.0h-1.0zM339.4 360.7h1.0v1.0h-1.0zM273.2 357.1h1.0v1.0h-1.0zM339.1 360.8h1.0v1.0h-1.0zM358.2 357.3h1.0v1.0h-1.0zM292.6 358.0h1.0v1.0h-1.0zM281.1 359.5h1.0v1.0h-1.0zM212.1 360.2h1.0v1.0h-1.0zM342.1 356.7h1.0v1.0h-1.0zM320.0 359.8h1.0v1.0h-1.0zM354.9 358.0h1.0v1.0h-1.0zM246.7 358.2h1.0v1.0h-1.0zM244.8 356.5h1.0v1.0h-1.0zM216.5 360.0h1.0v1.0h-1.0zM270.7 359.0h1.0v1.0h-1.0zM303.4 359.0h1.0v1.0h-1.0zM321.8 356.7h1.0v1.0h-1.0zM269.7 357.9h1.0v1.0h-1.0zM345.4 356.8h1.0v1.0h-1.0zM358.3 357.1h1.0v1.0h-1.0zM299.4 357.6h1.0v1.0h-1.0zM342.6 357.3h1.0v1.0h-1.0zM211.8 359.3h1.0v1.0h-1.0zM244.1 359.0h1.0v1.0h-1.0zM313.5 361.0h1.0v1.0h-1.0zM231.0 356.6h1.0v1.0h-1.0zM381.6 360.4h1.0v1.0h-1.0zM337.3 358.1h1.0v1.0h-1.0zM363.9 360.2h1.0v1.0h-1.0zM300.2 358.0h1.0v1.0h-1.0zM306.1 357.2h1.0v1.0h-1.0zM318.8 359.3h1.0v1.0h-1.0zM217.5 360.9h1.0v1.0h-1.0zM305.2 360.7h1.0v1.0h-1.0zM317.9 359.4h1.0v1.0h-1.0zM354.6 357.7h1.0v1.0h-1.0zM362.4 356.0h1.0v1.0h-1.0zM242.6 360.6h1.0v1.0h-1.0zM258.2 357.2h1.0v1.0h-1.0zM311.5 358.6h1.0v1.0h-1.0zM329.5 359.9h1.0v1.0h-1.0zM273.2 359.4h1.0v1.0h-1.0zM338.7 356.9h1.0v1.0h-1.0zM248.2 357.8h1.0v1.0h-1.0zM267.9 357.8h1.0v1.0h-1.0zM277.4 360.0h1.0v1.0h-1.0zM360.1 356.6h1.0v1.0h-1.0zM355.8 359.0h1.0v1.0h-1.0zM316.4 357.6h1.0v1.0h-1.0zM233.2 356.3h1.0v1.0h-1.0zM229.9 359.4h1.0v1.0h-1.0zM258.3 356.4h1.0v1.0h-1.0zM365.9 359.3h1.0v1.0h-1.0zM344.6 357.3h1.0v1.0h-1.0zM252.1 359.9h1.0v1.0h-1.0zM374.8 360.5h1.0v1.0h-1.0zM367.8 356.2h1.0v1.0h-1.0zM265.2 358.6h1.0v1.0h-1.0zM311.3 357.6h1.0v1.0h-1.0zM353.4 357.1h1.0v1.0h-1.0zM240.6 357.6h1.0v1.0h-1.0zM240.5 360.4h1.0v1.0h-1.0zM221.8 358.0h1.0v1.0h-1.0zM316.1 356.6h1.0v1.0h-1.0zM334.1 356.8h1.0v1.0h-1.0zM324.5 358.3h1.0v1.0h-1.0zM257.4 359.4h1.0v1.0h-1.0zM278.9 359.9h1.0v1.0h-1.0zM296.9 360.0h1.0v1.0h-1.0zM329.0 358.6h1.0v1.0h-1.0zM261.1 359.4h1.0v1.0h-1.0zM217.9 356.4h1.0v1.0h-1.0zM350.3 358.2h1.0v1.0h-1.0zM259.2 360.8h1.0v1.0h-1.0zM213.9 356.2h1.0v1.0h-1.0zM211.3 356.4h1.0v1.0h-1.0zM334.9 357.7h1.0v1.0h-1.0zM221.6 356.0h1.0v1.0h-1.0zM226.2 358.9h1.0v1.0h-1.0zM240.5 359.0h1.0v1.0h-1.0zM295.1 359.6h1.0v1.0h-1.0zM358.4 358.9h1.0v1.0h-1.0zM332.4 360.0h1.0v1.0h-1.0zM251.8 358.5h1.0v1.0h-1.0zM238.5 356.6h1.0v1.0h-1.0zM248.4 358.2h1.0v1.0h-1.0zM246.2 359.1h1.0v1.0h-1.0zM235.4 357.2h1.0v1.0h-1.0zM224.2 359.3h1.0v1.0h-1.0zM295.5 356.6h1.0v1.0h-1.0zM355.8 357.4h1.0v1.0h-1.0zM344.3 356.4h1.0v1.0h-1.0zM249.6 356.1h1.0v1.0h-1.0zM378.7 358.5h1.0v1.0h-1.0zM364.7 360.8h1.0v1.0h-1.0zM331.8 357.6h1.0v1.0h-1.0zM353.3 360.0h1.0v1.0h-1.0zM300.9 359.3h1.0v1.0h-1.0zM339.5 358.0h1.0v1.0h-1.0zM279.0 356.4h1.0v1.0h-1.0zM337.6 357.8h1.0v1.0h-1.0zM239.9 356.1h1.0v1.0h-1.0zM330.3 359.2h1.0v1.0h-1.0zM262.3 360.3h1.0v1.0h-1.0zM282.2 357.7h1.0v1.0h-1.0zM290.3 358.2h1.0v1.0h-1.0zM304.3 360.2h1.0v1.0h-1.0zM213.2 359.4h1.0v1.0h-1.0zM302.9 358.8h1.0v1.0h-1.0zM370.3 356.5h1.0v1.0h-1.0zM268.5 356.6h1.0v1.0h-1.0zM305.6 360.1h1.0v1.0h-1.0zM325.2 359.6h1.0v1.0h-1.0zM367.5 356.0h1.0v1.0h-1.0zM302.3 356.4h1.0v1.0h-1.0zM301.7 360.6h1.0v1.0h-1.0zM252.8 356.8h1.0v1.0h-1.0zM217.3 360.5h1.0v1.0h-1.0zM215.3 360.1h1.0v1.0h-1.0zM219.8 357.7h1.0v1.0h-1.0zM314.7 356.1h1.0v1.0h-1.0zM373.0 356.2h1.0v1.0h-1.0zM333.0 360.3h1.0v1.0h-1.0zM271.0 357.8h1.0v1.0h-1.0zM296.9 360.6h1.0v1.0h-1.0zM314.5 357.4h1.0v1.0h-1.0zM215.1 358.6h1.0v1.0h-1.0zM320.9 356.2h1.0v1.0h-1.0zM289.8 358.2h1.0v1.0h-1.0zM303.1 357.5h1.0v1.0h-1.0zM305.9 356.7h1.0v1.0h-1.0zM279.4 360.9h1.0v1.0h-1.0z" fill="#555"/><path d="M212.1 367.3h1.0v1.0h-1.0zM377.1 363.6h1.0v1.0h-1.0zM276.7 375.7h1.0v1.0h-1.0zM244.3 378.0h1.0v1.0h-1.0zM251.9 373.5h1.0v1.0h-1.0zM345.8 378.7h1.0v1.0h-1.0zM378.5 378.0h1.0v1.0h-1.0zM318.4 363.9h1.0v1.0h-1.0zM305.2 369.3h1.0v1.0h-1.0zM267.2 369.1h1.0v1.0h-1.0zM311.0 387.6h1.0v1.0h-1.0zM231.5 374.7h1.0v1.0h-1.0zM378.1 369.7h1.0v1.0h-1.0zM358.9 373.4h1.0v1.0h-1.0zM288.3 368.7h1.0v1.0h-1.0zM324.1 364.1h1.0v1.0h-1.0zM214.2 384.0h1.0v1.0h-1.0zM334.2 380.0h1.0v1.0h-1.0zM288.4 375.6h1.0v1.0h-1.0zM214.8 385.1h1.0v1.0h-1.0zM377.7 371.6h1.0v1.0h-1.0zM266.1 366.6h1.0v1.0h-1.0zM339.9 364.8h1.0v1.0h-1.0zM311.3 365.5h1.0v1.0h-1.0zM215.1 385.7h1.0v1.0h-1.0zM370.0 366.1h1.0v1.0h-1.0zM361.2 368.5h1.0v1.0h-1.0zM291.3 386.2h1.0v1.0h-1.0zM281.9 365.6h1.0v1.0h-1.0zM352.9 377.3h1.0v1.0h-1.0zM210.9 367.9h1.0v1.0h-1.0zM309.6 379.5h1.0v1.0h-1.0zM332.5 367.8h1.0v1.0h-1.0zM292.0 369.9h1.0v1.0h-1.0zM338.5 373.1h1.0v1.0h-1.0zM316.9 363.6h1.0v1.0h-1.0zM319.7 386.3h1.0v1.0h-1.0zM316.6 370.5h1.0v1.0h-1.0zM357.9 376.9h1.0v1.0h-1.0zM318.5 373.9h1.0v1.0h-1.0zM254.1 386.4h1.0v1.0h-1.0zM328.0 367.9h1.0v1.0h-1.0zM268.7 375.6h1.0v1.0h-1.0zM369.2 374.9h1.0v1.0h-1.0zM321.2 387.9h1.0v1.0h-1.0zM317.6 378.9h1.0v1.0h-1.0zM223.6 379.9h1.0v1.0h-1.0zM372.3 386.6h1.0v1.0h-1.0zM351.1 371.6h1.0v1.0h-1.0zM382.6 387.8h1.0v1.0h-1.0zM328.7 381.3h1.0v1.0h-1.0zM313.9 371.5h1.0v1.0h-1.0zM270.3 372.8h1.0v1.0h-1.0zM302.2 388.6h1.0v1.0h-1.0zM223.1 376.1h1.0v1.0h-1.0zM327.9 369.4h1.0v1.0h-1.0zM281.2 376.5h1.0v1.0h-1.0zM259.1 373.2h1.0v1.0h-1.0zM256.0 383.1h1.0v1.0h-1.0zM222.7 371.1h1.0v1.0h-1.0zM236.2 377.8h1.0v1.0h-1.0zM272.1 381.7h1.0v1.0h-1.0zM237.5 375.0h1.0v1.0h-1.0zM340.3 374.6h1.0v1.0h-1.0zM257.7 374.2h1.0v1.0h-1.0zM345.8 366.7h1.0v1.0h-1.0zM221.2 369.5h1.0v1.0h-1.0zM363.6 368.4h1.0v1.0h-1.0zM232.3 379.2h1.0v1.0h-1.0zM243.7 374.0h1.0v1.0h-1.0zM342.7 364.7h1.0v1.0h-1.0zM247.5 385.6h1.0v1.0h-1.0zM335.2 373.1h1.0v1.0h-1.0zM372.7 368.0h1.0v1.0h-1.0zM268.2 371.9h1.0v1.0h-1.0zM328.2 363.1h1.0v1.0h-1.0zM260.8 388.8h1.0v1.0h-1.0zM316.7 378.7h1.0v1.0h-1.0zM283.5 363.7h1.0v1.0h-1.0zM305.1 379.7h1.0v1.0h-1.0zM315.6 375.2h1.0v1.0h-1.0zM283.0 372.6h1.0v1.0h-1.0zM378.8 367.7h1.0v1.0h-1.0zM372.4 377.9h1.0v1.0h-1.0zM296.6 387.4h1.0v1.0h-1.0zM226.7 388.5h1.0v1.0h-1.0zM378.3 382.7h1.0v1.0h-1.0zM302.2 368.5h1.0v1.0h-1.0zM223.2 368.6h1.0v1.0h-1.0zM314.7 371.5h1.0v1.0h-1.0zM381.6 370.0h1.0v1.0h-1.0zM302.9 365.5h1.0v1.0h-1.0zM306.9 386.4h1.0v1.0h-1.0zM211.9 379.5h1.0v1.0h-1.0zM240.3 369.5h1.0v1.0h-1.0zM216.4 387.1h1.0v1.0h-1.0zM305.3 382.9h1.0v1.0h-1.0zM249.1 371.7h1.0v1.0h-1.0zM258.1 374.2h1.0v1.0h-1.0zM281.7 383.6h1.0v1.0h-1.0zM310.0 383.9h1.0v1.0h-1.0zM360.8 375.0h1.0v1.0h-1.0zM306.0 378.7h1.0v1.0h-1.0zM362.6 369.8h1.0v1.0h-1.0zM327.2 387.1h1.0v1.0h-1.0zM306.8 378.5h1.0v1.0h-1.0zM245.4 364.6h1.0v1.0h-1.0zM360.5 384.5h1.0v1.0h-1.0zM304.3 366.7h1.0v1.0h-1.0zM316.6 380.3h1.0v1.0h-1.0zM264.9 365.3h1.0v1.0h-1.0zM348.9 387.3h1.0v1.0h-1.0zM331.7 377.8h1.0v1.0h-1.0zM370.8 378.8h1.0v1.0h-1.0zM223.1 366.1h1.0v1.0h-1.0zM319.2 381.1h1.0v1.0h-1.0zM239.9 368.8h1.0v1.0h-1.0zM222.0 382.3h1.0v1.0h-1.0zM229.7 366.7h1.0v1.0h-1.0zM375.6 385.0h1.0v1.0h-1.0zM351.3 378.8h1.0v1.0h-1.0zM314.0 367.6h1.0v1.0h-1.0zM297.0 368.4h1.0v1.0h-1.0zM236.9 367.8h1.0v1.0h-1.0zM364.6 373.3h1.0v1.0h-1.0z" fill="#333"/><path d="M207.5 362.3 L385 360" stroke="#000" stroke-width="1.8" fill="none"/><path d="M220.3 354.4V362 M253.1 354V361.6 M284.7 353.5V361.2 M318 353V360.7 M351.4 352.6V360.3" stroke="#000" stroke-width="1.2"/><path d="M347.7 437.2h1.0v1.0h-1.0zM357.6 407.9h1.0v1.0h-1.0zM329.1 420.3h1.0v1.0h-1.0zM335.8 427.6h1.0v1.0h-1.0zM334.9 414.7h1.0v1.0h-1.0zM324.3 456.8h1.0v1.0h-1.0zM316.7 445.3h1.0v1.0h-1.0zM364.2 414.9h1.0v1.0h-1.0zM348.0 403.4h1.0v1.0h-1.0zM343.9 414.3h1.0v1.0h-1.0zM332.7 422.8h1.0v1.0h-1.0zM320.9 436.5h1.0v1.0h-1.0zM346.8 405.9h1.0v1.0h-1.0zM308.6 447.9h1.0v1.0h-1.0zM318.7 425.6h1.0v1.0h-1.0zM339.4 422.2h1.0v1.0h-1.0zM339.3 430.1h1.0v1.0h-1.0zM322.5 445.9h1.0v1.0h-1.0zM334.9 422.2h1.0v1.0h-1.0zM363.9 431.3h1.0v1.0h-1.0zM362.5 409.4h1.0v1.0h-1.0zM330.2 431.8h1.0v1.0h-1.0zM314.7 431.0h1.0v1.0h-1.0zM330.9 412.9h1.0v1.0h-1.0zM330.4 455.7h1.0v1.0h-1.0zM359.2 414.4h1.0v1.0h-1.0zM326.0 433.1h1.0v1.0h-1.0zM310.3 424.5h1.0v1.0h-1.0zM325.4 459.2h1.0v1.0h-1.0zM308.7 431.3h1.0v1.0h-1.0zM334.7 428.4h1.0v1.0h-1.0zM324.0 446.9h1.0v1.0h-1.0zM337.9 417.2h1.0v1.0h-1.0zM307.0 433.9h1.0v1.0h-1.0zM321.2 421.2h1.0v1.0h-1.0zM323.7 435.6h1.0v1.0h-1.0zM321.6 458.8h1.0v1.0h-1.0zM323.7 420.5h1.0v1.0h-1.0zM366.3 429.1h1.0v1.0h-1.0zM325.1 456.1h1.0v1.0h-1.0zM314.5 427.4h1.0v1.0h-1.0zM356.1 440.2h1.0v1.0h-1.0zM326.9 441.7h1.0v1.0h-1.0zM362.9 419.7h1.0v1.0h-1.0zM355.2 436.1h1.0v1.0h-1.0zM323.1 416.6h1.0v1.0h-1.0zM326.8 438.8h1.0v1.0h-1.0zM314.5 447.6h1.0v1.0h-1.0zM300.7 431.6h1.0v1.0h-1.0zM352.2 410.9h1.0v1.0h-1.0zM299.6 436.8h1.0v1.0h-1.0zM332.2 453.4h1.0v1.0h-1.0zM347.2 432.9h1.0v1.0h-1.0zM359.7 446.1h1.0v1.0h-1.0zM323.4 407.0h1.0v1.0h-1.0zM309.8 440.5h1.0v1.0h-1.0zM324.2 427.5h1.0v1.0h-1.0zM338.1 409.2h1.0v1.0h-1.0zM322.7 406.3h1.0v1.0h-1.0zM305.7 421.4h1.0v1.0h-1.0zM316.0 417.1h1.0v1.0h-1.0zM315.2 451.0h1.0v1.0h-1.0zM355.8 410.0h1.0v1.0h-1.0zM356.0 434.1h1.0v1.0h-1.0zM353.4 418.3h1.0v1.0h-1.0zM341.7 431.1h1.0v1.0h-1.0zM320.8 421.2h1.0v1.0h-1.0zM349.3 414.5h1.0v1.0h-1.0zM358.4 439.4h1.0v1.0h-1.0zM338.2 451.2h1.0v1.0h-1.0zM301.2 435.4h1.0v1.0h-1.0zM318.7 410.5h1.0v1.0h-1.0zM361.5 430.3h1.0v1.0h-1.0zM311.9 437.7h1.0v1.0h-1.0zM335.4 411.0h1.0v1.0h-1.0zM303.0 411.4h1.0v1.0h-1.0zM333.4 430.5h1.0v1.0h-1.0zM314.9 439.9h1.0v1.0h-1.0zM352.4 446.7h1.0v1.0h-1.0zM312.9 412.6h1.0v1.0h-1.0zM314.9 405.5h1.0v1.0h-1.0zM306.5 420.8h1.0v1.0h-1.0zM307.9 444.8h1.0v1.0h-1.0zM323.9 436.1h1.0v1.0h-1.0zM338.5 405.4h1.0v1.0h-1.0zM316.3 420.3h1.0v1.0h-1.0zM324.0 441.2h1.0v1.0h-1.0zM352.0 431.9h1.0v1.0h-1.0zM335.0 440.4h1.0v1.0h-1.0zM317.9 449.3h1.0v1.0h-1.0zM355.9 427.7h1.0v1.0h-1.0zM305.0 438.3h1.0v1.0h-1.0zM360.0 429.9h1.0v1.0h-1.0zM353.7 453.2h1.0v1.0h-1.0zM326.5 404.4h1.0v1.0h-1.0zM341.0 457.1h1.0v1.0h-1.0zM335.8 453.4h1.0v1.0h-1.0zM332.8 458.0h1.0v1.0h-1.0zM349.4 417.5h1.0v1.0h-1.0zM335.3 411.1h1.0v1.0h-1.0zM323.3 437.5h1.0v1.0h-1.0zM352.1 432.8h1.0v1.0h-1.0zM336.2 419.8h1.0v1.0h-1.0zM338.0 423.3h1.0v1.0h-1.0zM317.8 426.4h1.0v1.0h-1.0zM317.4 450.3h1.0v1.0h-1.0zM329.3 406.0h1.0v1.0h-1.0zM325.9 445.1h1.0v1.0h-1.0zM339.7 439.0h1.0v1.0h-1.0zM320.6 410.2h1.0v1.0h-1.0zM307.2 423.2h1.0v1.0h-1.0zM315.7 444.1h1.0v1.0h-1.0zM347.9 440.3h1.0v1.0h-1.0zM334.5 446.9h1.0v1.0h-1.0zM356.0 436.2h1.0v1.0h-1.0zM345.9 454.0h1.0v1.0h-1.0zM324.2 418.2h1.0v1.0h-1.0zM322.9 439.7h1.0v1.0h-1.0zM317.4 441.2h1.0v1.0h-1.0zM360.9 425.1h1.0v1.0h-1.0zM337.4 426.6h1.0v1.0h-1.0zM349.9 442.5h1.0v1.0h-1.0zM311.9 431.8h1.0v1.0h-1.0zM336.5 445.7h1.0v1.0h-1.0zM360.8 440.9h1.0v1.0h-1.0zM364.0 426.6h1.0v1.0h-1.0zM338.1 427.0h1.0v1.0h-1.0zM322.9 425.1h1.0v1.0h-1.0zM331.6 436.8h1.0v1.0h-1.0zM347.7 415.5h1.0v1.0h-1.0zM362.2 414.2h1.0v1.0h-1.0zM315.5 444.8h1.0v1.0h-1.0zM352.9 404.7h1.0v1.0h-1.0zM338.5 405.9h1.0v1.0h-1.0zM343.0 443.1h1.0v1.0h-1.0zM350.4 453.3h1.0v1.0h-1.0zM354.1 403.3h1.0v1.0h-1.0zM325.9 422.9h1.0v1.0h-1.0zM312.8 446.8h1.0v1.0h-1.0zM350.8 405.7h1.0v1.0h-1.0zM321.0 425.4h1.0v1.0h-1.0zM345.8 412.1h1.0v1.0h-1.0zM337.6 434.6h1.0v1.0h-1.0zM313.7 413.1h1.0v1.0h-1.0zM336.5 421.2h1.0v1.0h-1.0zM335.5 456.9h1.0v1.0h-1.0zM359.8 418.2h1.0v1.0h-1.0zM315.7 425.8h1.0v1.0h-1.0zM354.5 411.5h1.0v1.0h-1.0zM335.8 405.8h1.0v1.0h-1.0zM305.3 413.5h1.0v1.0h-1.0zM332.2 459.8h1.0v1.0h-1.0zM321.4 438.3h1.0v1.0h-1.0zM315.2 417.0h1.0v1.0h-1.0zM316.3 456.1h1.0v1.0h-1.0zM304.3 432.6h1.0v1.0h-1.0zM360.5 444.1h1.0v1.0h-1.0zM362.2 416.5h1.0v1.0h-1.0zM318.3 446.2h1.0v1.0h-1.0zM311.9 422.2h1.0v1.0h-1.0zM361.6 424.2h1.0v1.0h-1.0zM317.4 438.2h1.0v1.0h-1.0zM338.9 448.7h1.0v1.0h-1.0zM354.2 450.0h1.0v1.0h-1.0zM315.9 414.0h1.0v1.0h-1.0zM349.3 427.4h1.0v1.0h-1.0zM333.5 411.5h1.0v1.0h-1.0zM346.6 411.8h1.0v1.0h-1.0zM349.3 426.2h1.0v1.0h-1.0zM310.5 412.0h1.0v1.0h-1.0zM337.6 403.5h1.0v1.0h-1.0zM329.2 425.1h1.0v1.0h-1.0zM322.0 453.1h1.0v1.0h-1.0zM355.9 443.2h1.0v1.0h-1.0zM358.3 421.4h1.0v1.0h-1.0zM334.7 416.6h1.0v1.0h-1.0zM346.0 413.9h1.0v1.0h-1.0zM313.6 431.0h1.0v1.0h-1.0zM305.9 416.2h1.0v1.0h-1.0zM311.6 420.5h1.0v1.0h-1.0zM348.1 404.1h1.0v1.0h-1.0zM314.0 422.8h1.0v1.0h-1.0zM345.6 427.9h1.0v1.0h-1.0zM310.1 437.5h1.0v1.0h-1.0zM340.9 413.9h1.0v1.0h-1.0zM366.2 426.2h1.0v1.0h-1.0zM358.5 431.8h1.0v1.0h-1.0zM299.8 413.3h1.0v1.0h-1.0zM304.8 432.3h1.0v1.0h-1.0zM347.6 438.4h1.0v1.0h-1.0zM342.8 453.4h1.0v1.0h-1.0zM360.1 437.7h1.0v1.0h-1.0zM306.9 417.1h1.0v1.0h-1.0zM325.9 452.4h1.0v1.0h-1.0zM339.5 457.0h1.0v1.0h-1.0zM341.9 427.8h1.0v1.0h-1.0zM337.7 442.1h1.0v1.0h-1.0zM346.5 449.9h1.0v1.0h-1.0zM329.9 435.5h1.0v1.0h-1.0zM321.5 412.2h1.0v1.0h-1.0zM322.3 415.9h1.0v1.0h-1.0zM318.4 428.0h1.0v1.0h-1.0zM349.0 405.3h1.0v1.0h-1.0zM307.6 446.7h1.0v1.0h-1.0zM345.6 457.4h1.0v1.0h-1.0zM364.3 428.5h1.0v1.0h-1.0zM342.0 454.6h1.0v1.0h-1.0zM303.3 431.3h1.0v1.0h-1.0zM355.4 449.6h1.0v1.0h-1.0zM345.7 409.2h1.0v1.0h-1.0zM318.2 423.7h1.0v1.0h-1.0zM307.4 431.0h1.0v1.0h-1.0zM356.5 417.2h1.0v1.0h-1.0zM322.1 457.5h1.0v1.0h-1.0zM344.6 406.0h1.0v1.0h-1.0zM351.3 434.2h1.0v1.0h-1.0zM312.7 447.2h1.0v1.0h-1.0zM334.3 420.6h1.0v1.0h-1.0zM365.9 418.9h1.0v1.0h-1.0zM351.6 434.5h1.0v1.0h-1.0zM307.5 433.9h1.0v1.0h-1.0zM329.6 441.3h1.0v1.0h-1.0zM337.8 439.2h1.0v1.0h-1.0zM315.5 425.6h1.0v1.0h-1.0zM357.5 416.5h1.0v1.0h-1.0zM340.0 458.4h1.0v1.0h-1.0zM351.0 432.5h1.0v1.0h-1.0zM326.1 405.4h1.0v1.0h-1.0zM353.2 444.7h1.0v1.0h-1.0zM338.6 432.2h1.0v1.0h-1.0zM333.8 450.5h1.0v1.0h-1.0zM319.0 432.0h1.0v1.0h-1.0zM313.7 436.5h1.0v1.0h-1.0zM331.7 433.7h1.0v1.0h-1.0zM319.2 425.1h1.0v1.0h-1.0zM305.7 424.9h1.0v1.0h-1.0zM313.2 415.2h1.0v1.0h-1.0zM311.3 443.9h1.0v1.0h-1.0zM362.7 411.9h1.0v1.0h-1.0zM362.5 410.0h1.0v1.0h-1.0zM314.8 425.1h1.0v1.0h-1.0zM348.2 416.2h1.0v1.0h-1.0zM333.1 434.6h1.0v1.0h-1.0zM358.4 432.5h1.0v1.0h-1.0zM349.3 430.5h1.0v1.0h-1.0zM302.9 432.9h1.0v1.0h-1.0zM333.2 415.3h1.0v1.0h-1.0zM343.1 431.8h1.0v1.0h-1.0zM320.1 458.1h1.0v1.0h-1.0zM327.8 452.2h1.0v1.0h-1.0zM324.0 440.7h1.0v1.0h-1.0zM338.5 434.8h1.0v1.0h-1.0zM363.5 438.2h1.0v1.0h-1.0zM297.4 422.7h1.0v1.0h-1.0zM343.1 429.1h1.0v1.0h-1.0zM348.7 429.3h1.0v1.0h-1.0zM337.5 418.5h1.0v1.0h-1.0zM322.4 435.6h1.0v1.0h-1.0zM331.5 416.4h1.0v1.0h-1.0zM354.0 412.1h1.0v1.0h-1.0zM340.0 437.2h1.0v1.0h-1.0zM335.0 445.9h1.0v1.0h-1.0zM312.4 444.4h1.0v1.0h-1.0zM338.4 436.5h1.0v1.0h-1.0zM313.9 409.0h1.0v1.0h-1.0zM346.6 409.6h1.0v1.0h-1.0zM318.4 444.2h1.0v1.0h-1.0zM358.6 445.1h1.0v1.0h-1.0zM318.9 434.3h1.0v1.0h-1.0zM315.0 433.9h1.0v1.0h-1.0zM330.2 445.1h1.0v1.0h-1.0zM345.0 418.1h1.0v1.0h-1.0zM349.5 423.5h1.0v1.0h-1.0zM339.3 429.6h1.0v1.0h-1.0zM359.4 442.7h1.0v1.0h-1.0zM298.4 432.2h1.0v1.0h-1.0zM359.6 405.4h1.0v1.0h-1.0zM347.2 421.4h1.0v1.0h-1.0zM314.7 426.6h1.0v1.0h-1.0zM351.5 404.1h1.0v1.0h-1.0zM317.7 409.6h1.0v1.0h-1.0zM332.3 431.7h1.0v1.0h-1.0zM336.7 411.0h1.0v1.0h-1.0zM331.0 461.0h1.0v1.0h-1.0zM317.0 409.6h1.0v1.0h-1.0zM336.9 454.7h1.0v1.0h-1.0zM316.6 411.0h1.0v1.0h-1.0zM355.2 443.2h1.0v1.0h-1.0zM349.6 439.6h1.0v1.0h-1.0zM344.8 450.3h1.0v1.0h-1.0zM319.4 454.5h1.0v1.0h-1.0zM307.2 435.3h1.0v1.0h-1.0zM315.8 455.4h1.0v1.0h-1.0zM342.9 458.0h1.0v1.0h-1.0zM312.0 429.4h1.0v1.0h-1.0zM326.2 420.4h1.0v1.0h-1.0zM344.1 424.2h1.0v1.0h-1.0zM317.2 453.0h1.0v1.0h-1.0zM333.6 427.9h1.0v1.0h-1.0zM306.1 418.6h1.0v1.0h-1.0zM307.2 413.3h1.0v1.0h-1.0z" fill="#555"/><path d="M294.5 390 V406 M367.9 389 V405" stroke="#000" stroke-width="1.7" stroke-dasharray="2 0.6"/><path d="M294.3 409.2 L295.8 417.5 L299.2 409.4 M363.3 408.2 L367.1 416.5 L368.8 408.2" stroke="#000" stroke-width="1.6" fill="none"/><path d="M301.3 405.2 A37 37 0 0 1 362.3 405.2" stroke="#000" stroke-width="1.7" fill="none"/><path d="M295.2 421 A37 37 0 1 0 368.4 421" stroke="#000" stroke-width="1.8" fill="none" stroke-dasharray="9 3.5"/><path d="M579.8 202.3 L726.5 200.5 L726.5 243.2 L579.8 244.6 Z" fill="#fff"/><path d="M726.5 200.5 L579.8 202.3 L579.8 244.6 L726.5 243.2" fill="none" stroke="#000" stroke-width="1.7"/><path d="M658.1 208.4h1.0v1.0h-1.0zM700.6 208.0h1.0v1.0h-1.0zM619.3 208.5h1.0v1.0h-1.0zM602.2 205.8h1.0v1.0h-1.0zM598.6 205.2h1.0v1.0h-1.0zM651.9 204.9h1.0v1.0h-1.0zM595.8 205.5h1.0v1.0h-1.0zM610.9 206.1h1.0v1.0h-1.0zM711.7 206.2h1.0v1.0h-1.0zM641.1 207.2h1.0v1.0h-1.0zM714.0 203.7h1.0v1.0h-1.0zM581.9 205.5h1.0v1.0h-1.0zM584.4 205.7h1.0v1.0h-1.0zM674.1 204.4h1.0v1.0h-1.0zM713.0 205.4h1.0v1.0h-1.0zM647.0 205.8h1.0v1.0h-1.0zM705.6 207.9h1.0v1.0h-1.0zM691.0 207.9h1.0v1.0h-1.0zM708.8 205.3h1.0v1.0h-1.0zM590.1 208.3h1.0v1.0h-1.0zM709.2 206.4h1.0v1.0h-1.0zM666.4 204.0h1.0v1.0h-1.0zM636.7 205.2h1.0v1.0h-1.0zM630.3 206.1h1.0v1.0h-1.0zM654.4 206.5h1.0v1.0h-1.0zM706.2 207.7h1.0v1.0h-1.0zM692.5 207.3h1.0v1.0h-1.0zM658.6 205.2h1.0v1.0h-1.0zM606.7 205.0h1.0v1.0h-1.0zM674.0 206.3h1.0v1.0h-1.0zM626.8 206.4h1.0v1.0h-1.0zM664.8 203.9h1.0v1.0h-1.0zM719.4 205.6h1.0v1.0h-1.0zM619.5 204.7h1.0v1.0h-1.0zM691.5 207.0h1.0v1.0h-1.0zM699.5 208.0h1.0v1.0h-1.0zM724.7 207.6h1.0v1.0h-1.0zM699.3 205.0h1.0v1.0h-1.0zM634.2 203.8h1.0v1.0h-1.0zM687.5 204.1h1.0v1.0h-1.0zM704.0 206.3h1.0v1.0h-1.0zM718.8 207.7h1.0v1.0h-1.0zM643.7 204.7h1.0v1.0h-1.0zM636.6 206.2h1.0v1.0h-1.0zM678.4 208.4h1.0v1.0h-1.0zM656.7 205.3h1.0v1.0h-1.0zM645.8 205.4h1.0v1.0h-1.0zM587.2 205.0h1.0v1.0h-1.0zM613.9 207.6h1.0v1.0h-1.0zM641.6 207.8h1.0v1.0h-1.0zM660.0 208.1h1.0v1.0h-1.0zM670.9 203.6h1.0v1.0h-1.0zM711.1 204.6h1.0v1.0h-1.0zM597.7 205.0h1.0v1.0h-1.0zM720.3 207.1h1.0v1.0h-1.0zM584.8 204.2h1.0v1.0h-1.0zM617.3 207.9h1.0v1.0h-1.0zM691.4 206.1h1.0v1.0h-1.0zM640.0 206.3h1.0v1.0h-1.0zM594.1 206.6h1.0v1.0h-1.0zM640.1 206.2h1.0v1.0h-1.0zM684.7 207.5h1.0v1.0h-1.0zM639.8 204.2h1.0v1.0h-1.0zM649.0 207.1h1.0v1.0h-1.0zM613.8 207.0h1.0v1.0h-1.0zM625.3 204.4h1.0v1.0h-1.0zM617.7 205.0h1.0v1.0h-1.0zM609.1 204.3h1.0v1.0h-1.0zM680.6 206.4h1.0v1.0h-1.0zM717.0 206.1h1.0v1.0h-1.0zM641.9 206.4h1.0v1.0h-1.0zM600.6 203.7h1.0v1.0h-1.0zM666.1 205.9h1.0v1.0h-1.0zM654.7 206.2h1.0v1.0h-1.0zM635.1 206.2h1.0v1.0h-1.0zM598.6 207.0h1.0v1.0h-1.0zM651.7 206.5h1.0v1.0h-1.0zM684.0 205.3h1.0v1.0h-1.0zM637.8 206.3h1.0v1.0h-1.0zM689.1 203.8h1.0v1.0h-1.0zM652.0 204.8h1.0v1.0h-1.0zM637.3 207.0h1.0v1.0h-1.0zM671.5 203.6h1.0v1.0h-1.0zM587.2 207.3h1.0v1.0h-1.0zM617.7 204.2h1.0v1.0h-1.0zM661.1 206.8h1.0v1.0h-1.0zM701.4 204.6h1.0v1.0h-1.0zM591.5 203.7h1.0v1.0h-1.0zM634.1 205.0h1.0v1.0h-1.0zM721.0 205.4h1.0v1.0h-1.0zM702.3 208.3h1.0v1.0h-1.0zM693.4 205.6h1.0v1.0h-1.0zM666.5 207.8h1.0v1.0h-1.0zM598.9 208.2h1.0v1.0h-1.0zM617.8 207.6h1.0v1.0h-1.0zM667.8 208.2h1.0v1.0h-1.0zM581.9 205.3h1.0v1.0h-1.0zM590.6 207.6h1.0v1.0h-1.0zM677.7 204.6h1.0v1.0h-1.0zM690.0 204.7h1.0v1.0h-1.0zM651.8 205.7h1.0v1.0h-1.0zM622.8 205.7h1.0v1.0h-1.0zM587.2 207.6h1.0v1.0h-1.0zM619.6 206.3h1.0v1.0h-1.0zM706.8 206.9h1.0v1.0h-1.0zM639.4 205.8h1.0v1.0h-1.0zM631.3 205.7h1.0v1.0h-1.0zM652.6 204.7h1.0v1.0h-1.0zM688.4 207.2h1.0v1.0h-1.0zM697.0 208.4h1.0v1.0h-1.0zM635.7 204.8h1.0v1.0h-1.0zM667.1 207.7h1.0v1.0h-1.0zM604.5 206.4h1.0v1.0h-1.0zM647.9 204.8h1.0v1.0h-1.0zM649.3 207.7h1.0v1.0h-1.0zM633.6 206.7h1.0v1.0h-1.0zM717.2 205.8h1.0v1.0h-1.0zM724.3 204.9h1.0v1.0h-1.0zM660.6 205.2h1.0v1.0h-1.0zM678.2 207.8h1.0v1.0h-1.0zM599.7 205.0h1.0v1.0h-1.0zM665.1 207.3h1.0v1.0h-1.0zM659.5 206.5h1.0v1.0h-1.0zM617.8 206.1h1.0v1.0h-1.0zM620.3 206.9h1.0v1.0h-1.0zM621.7 204.0h1.0v1.0h-1.0zM644.4 207.4h1.0v1.0h-1.0zM701.3 205.1h1.0v1.0h-1.0zM698.7 204.6h1.0v1.0h-1.0zM622.5 207.7h1.0v1.0h-1.0zM648.7 206.3h1.0v1.0h-1.0zM607.1 205.1h1.0v1.0h-1.0zM623.5 205.3h1.0v1.0h-1.0zM631.1 204.4h1.0v1.0h-1.0zM647.8 203.8h1.0v1.0h-1.0zM617.4 203.7h1.0v1.0h-1.0zM620.2 207.1h1.0v1.0h-1.0zM641.8 204.1h1.0v1.0h-1.0zM677.4 204.8h1.0v1.0h-1.0zM638.7 205.5h1.0v1.0h-1.0zM662.3 205.7h1.0v1.0h-1.0zM586.1 205.5h1.0v1.0h-1.0zM703.1 207.2h1.0v1.0h-1.0zM693.3 204.9h1.0v1.0h-1.0z" fill="#555"/><path d="M644.8 219.7h1.0v1.0h-1.0zM655.8 230.3h1.0v1.0h-1.0zM687.6 228.6h1.0v1.0h-1.0zM609.4 235.9h1.0v1.0h-1.0zM594.5 214.0h1.0v1.0h-1.0zM585.4 223.7h1.0v1.0h-1.0zM592.0 218.5h1.0v1.0h-1.0zM687.0 237.4h1.0v1.0h-1.0zM661.7 237.2h1.0v1.0h-1.0zM607.7 221.1h1.0v1.0h-1.0zM707.2 238.3h1.0v1.0h-1.0zM710.6 229.7h1.0v1.0h-1.0zM653.8 227.7h1.0v1.0h-1.0zM625.4 239.9h1.0v1.0h-1.0zM673.1 232.3h1.0v1.0h-1.0zM654.2 221.6h1.0v1.0h-1.0zM606.5 223.4h1.0v1.0h-1.0zM711.8 217.5h1.0v1.0h-1.0zM636.6 213.1h1.0v1.0h-1.0zM618.1 234.0h1.0v1.0h-1.0zM692.7 218.4h1.0v1.0h-1.0zM611.2 217.7h1.0v1.0h-1.0zM712.0 215.1h1.0v1.0h-1.0zM693.4 214.0h1.0v1.0h-1.0zM618.2 240.0h1.0v1.0h-1.0zM638.4 211.3h1.0v1.0h-1.0zM640.3 220.6h1.0v1.0h-1.0zM658.5 235.8h1.0v1.0h-1.0zM666.7 230.4h1.0v1.0h-1.0zM709.4 224.9h1.0v1.0h-1.0zM704.4 233.7h1.0v1.0h-1.0zM720.5 217.6h1.0v1.0h-1.0zM676.6 229.3h1.0v1.0h-1.0zM640.6 215.4h1.0v1.0h-1.0zM646.3 229.3h1.0v1.0h-1.0zM661.8 228.5h1.0v1.0h-1.0zM680.1 230.5h1.0v1.0h-1.0zM662.4 213.8h1.0v1.0h-1.0zM713.7 216.9h1.0v1.0h-1.0zM679.3 227.7h1.0v1.0h-1.0zM654.4 214.9h1.0v1.0h-1.0zM600.6 220.8h1.0v1.0h-1.0zM584.8 240.8h1.0v1.0h-1.0zM716.4 240.4h1.0v1.0h-1.0zM641.9 228.1h1.0v1.0h-1.0zM675.9 220.4h1.0v1.0h-1.0zM710.3 217.4h1.0v1.0h-1.0zM632.8 229.2h1.0v1.0h-1.0zM628.7 239.5h1.0v1.0h-1.0zM630.7 225.7h1.0v1.0h-1.0zM721.2 219.9h1.0v1.0h-1.0zM627.7 236.3h1.0v1.0h-1.0zM707.5 239.6h1.0v1.0h-1.0zM718.4 237.0h1.0v1.0h-1.0zM669.2 214.9h1.0v1.0h-1.0zM611.8 238.1h1.0v1.0h-1.0zM591.5 221.3h1.0v1.0h-1.0zM679.0 218.6h1.0v1.0h-1.0zM591.4 212.2h1.0v1.0h-1.0zM671.4 231.6h1.0v1.0h-1.0zM642.2 240.3h1.0v1.0h-1.0zM632.9 224.9h1.0v1.0h-1.0zM630.8 224.6h1.0v1.0h-1.0zM584.9 228.8h1.0v1.0h-1.0zM652.4 226.0h1.0v1.0h-1.0zM633.0 224.4h1.0v1.0h-1.0zM688.4 229.3h1.0v1.0h-1.0zM702.4 211.0h1.0v1.0h-1.0zM662.0 234.9h1.0v1.0h-1.0zM627.6 214.7h1.0v1.0h-1.0zM682.9 231.4h1.0v1.0h-1.0zM596.7 237.7h1.0v1.0h-1.0zM659.7 218.3h1.0v1.0h-1.0zM617.2 216.1h1.0v1.0h-1.0zM653.5 213.2h1.0v1.0h-1.0zM701.2 211.9h1.0v1.0h-1.0zM599.9 231.9h1.0v1.0h-1.0zM634.6 213.6h1.0v1.0h-1.0zM601.3 224.5h1.0v1.0h-1.0zM612.0 215.6h1.0v1.0h-1.0zM627.8 235.8h1.0v1.0h-1.0zM606.5 236.2h1.0v1.0h-1.0zM591.7 230.8h1.0v1.0h-1.0zM610.4 231.9h1.0v1.0h-1.0zM626.6 213.3h1.0v1.0h-1.0zM650.2 230.0h1.0v1.0h-1.0zM642.6 214.2h1.0v1.0h-1.0zM679.8 218.3h1.0v1.0h-1.0zM693.0 234.9h1.0v1.0h-1.0zM614.7 220.9h1.0v1.0h-1.0zM719.1 222.6h1.0v1.0h-1.0zM583.2 215.2h1.0v1.0h-1.0zM683.6 221.6h1.0v1.0h-1.0zM721.9 236.6h1.0v1.0h-1.0zM688.4 222.1h1.0v1.0h-1.0zM639.8 226.5h1.0v1.0h-1.0zM585.1 226.0h1.0v1.0h-1.0zM626.6 211.7h1.0v1.0h-1.0zM587.8 239.0h1.0v1.0h-1.0zM678.8 237.3h1.0v1.0h-1.0zM654.6 226.1h1.0v1.0h-1.0zM717.2 222.8h1.0v1.0h-1.0zM624.8 214.4h1.0v1.0h-1.0zM614.4 218.1h1.0v1.0h-1.0zM685.6 236.2h1.0v1.0h-1.0zM618.7 230.9h1.0v1.0h-1.0zM609.2 219.4h1.0v1.0h-1.0zM641.7 230.4h1.0v1.0h-1.0zM611.8 236.7h1.0v1.0h-1.0zM590.3 223.3h1.0v1.0h-1.0z" fill="#333"/><path d="M579.8 209.4 L726.5 207.6" stroke="#000" stroke-width="1.8" fill="none"/><path d="M612.7 202 V209 M644.9 201.6 V208.6 M678.5 201 V208 M711.3 200.6 V207.7" stroke="#000" stroke-width="1.2"/><path d="M624.8 332.3h1.0v1.0h-1.0zM624.0 442.9h1.0v1.0h-1.0zM639.7 308.5h1.0v1.0h-1.0zM625.9 324.6h1.0v1.0h-1.0zM634.3 393.1h1.0v1.0h-1.0zM640.1 363.6h1.0v1.0h-1.0zM641.5 371.9h1.0v1.0h-1.0zM644.3 326.4h1.0v1.0h-1.0zM633.7 338.7h1.0v1.0h-1.0zM655.0 361.4h1.0v1.0h-1.0zM620.9 364.7h1.0v1.0h-1.0zM627.8 364.6h1.0v1.0h-1.0zM635.2 256.5h1.0v1.0h-1.0zM646.2 282.7h1.0v1.0h-1.0zM651.5 458.1h1.0v1.0h-1.0zM647.9 275.5h1.0v1.0h-1.0zM653.8 338.6h1.0v1.0h-1.0zM646.2 252.2h1.0v1.0h-1.0zM622.3 454.1h1.0v1.0h-1.0zM650.5 283.7h1.0v1.0h-1.0zM620.1 360.3h1.0v1.0h-1.0zM649.4 296.4h1.0v1.0h-1.0zM646.0 269.5h1.0v1.0h-1.0zM656.0 407.7h1.0v1.0h-1.0zM619.8 313.9h1.0v1.0h-1.0zM618.0 278.8h1.0v1.0h-1.0zM644.6 316.0h1.0v1.0h-1.0zM647.6 356.3h1.0v1.0h-1.0zM643.0 250.1h1.0v1.0h-1.0zM632.1 333.3h1.0v1.0h-1.0zM629.6 338.7h1.0v1.0h-1.0zM630.2 374.0h1.0v1.0h-1.0zM629.1 253.9h1.0v1.0h-1.0zM625.6 274.9h1.0v1.0h-1.0zM638.2 252.3h1.0v1.0h-1.0zM627.5 379.5h1.0v1.0h-1.0zM625.5 275.7h1.0v1.0h-1.0zM646.6 318.6h1.0v1.0h-1.0zM642.0 300.9h1.0v1.0h-1.0zM633.3 363.6h1.0v1.0h-1.0zM634.6 274.2h1.0v1.0h-1.0zM619.8 270.5h1.0v1.0h-1.0zM654.1 293.2h1.0v1.0h-1.0zM646.8 332.4h1.0v1.0h-1.0zM647.3 256.2h1.0v1.0h-1.0zM620.6 270.4h1.0v1.0h-1.0zM641.4 262.3h1.0v1.0h-1.0zM656.5 354.8h1.0v1.0h-1.0zM621.6 352.1h1.0v1.0h-1.0zM626.8 296.2h1.0v1.0h-1.0zM629.2 422.9h1.0v1.0h-1.0zM645.5 348.9h1.0v1.0h-1.0zM632.0 368.0h1.0v1.0h-1.0zM641.8 270.2h1.0v1.0h-1.0zM649.7 286.0h1.0v1.0h-1.0zM626.6 253.0h1.0v1.0h-1.0zM620.8 281.7h1.0v1.0h-1.0zM626.7 340.8h1.0v1.0h-1.0zM654.8 316.7h1.0v1.0h-1.0zM649.1 321.6h1.0v1.0h-1.0zM651.2 279.3h1.0v1.0h-1.0zM637.3 253.9h1.0v1.0h-1.0zM629.2 294.9h1.0v1.0h-1.0zM628.6 358.9h1.0v1.0h-1.0zM651.6 453.6h1.0v1.0h-1.0zM619.8 327.8h1.0v1.0h-1.0zM636.3 395.9h1.0v1.0h-1.0zM626.9 404.3h1.0v1.0h-1.0zM650.5 275.4h1.0v1.0h-1.0zM643.2 292.5h1.0v1.0h-1.0zM623.1 248.3h1.0v1.0h-1.0zM630.6 365.9h1.0v1.0h-1.0zM621.2 321.9h1.0v1.0h-1.0zM633.9 370.3h1.0v1.0h-1.0zM655.1 316.4h1.0v1.0h-1.0zM632.3 345.9h1.0v1.0h-1.0zM621.1 299.6h1.0v1.0h-1.0zM623.1 323.7h1.0v1.0h-1.0zM650.7 370.7h1.0v1.0h-1.0zM624.0 358.9h1.0v1.0h-1.0zM624.9 423.3h1.0v1.0h-1.0zM644.5 333.2h1.0v1.0h-1.0zM623.3 436.3h1.0v1.0h-1.0zM651.9 384.0h1.0v1.0h-1.0zM625.9 393.8h1.0v1.0h-1.0zM653.4 338.5h1.0v1.0h-1.0zM621.5 248.0h1.0v1.0h-1.0zM644.4 268.4h1.0v1.0h-1.0zM651.5 313.4h1.0v1.0h-1.0zM626.7 280.2h1.0v1.0h-1.0zM618.6 306.3h1.0v1.0h-1.0zM624.5 380.8h1.0v1.0h-1.0zM648.3 294.8h1.0v1.0h-1.0zM627.5 396.9h1.0v1.0h-1.0zM630.6 344.3h1.0v1.0h-1.0zM631.4 340.7h1.0v1.0h-1.0zM626.2 302.6h1.0v1.0h-1.0zM630.5 341.8h1.0v1.0h-1.0zM626.7 290.6h1.0v1.0h-1.0zM649.1 430.5h1.0v1.0h-1.0zM639.7 382.7h1.0v1.0h-1.0zM640.6 260.8h1.0v1.0h-1.0zM625.0 283.0h1.0v1.0h-1.0zM644.5 317.9h1.0v1.0h-1.0zM635.2 351.8h1.0v1.0h-1.0zM619.5 257.7h1.0v1.0h-1.0zM647.2 340.9h1.0v1.0h-1.0zM645.2 363.2h1.0v1.0h-1.0zM648.0 412.8h1.0v1.0h-1.0zM638.0 341.2h1.0v1.0h-1.0zM640.0 388.0h1.0v1.0h-1.0zM623.0 359.5h1.0v1.0h-1.0zM644.1 312.0h1.0v1.0h-1.0zM653.0 358.0h1.0v1.0h-1.0zM646.5 348.3h1.0v1.0h-1.0zM631.1 406.7h1.0v1.0h-1.0zM640.9 344.2h1.0v1.0h-1.0zM626.3 274.8h1.0v1.0h-1.0zM622.2 328.0h1.0v1.0h-1.0zM647.5 359.8h1.0v1.0h-1.0zM642.4 264.5h1.0v1.0h-1.0zM634.8 452.3h1.0v1.0h-1.0zM627.8 420.7h1.0v1.0h-1.0zM643.5 293.3h1.0v1.0h-1.0zM653.2 252.9h1.0v1.0h-1.0zM624.1 396.3h1.0v1.0h-1.0zM648.7 265.4h1.0v1.0h-1.0zM640.1 366.8h1.0v1.0h-1.0zM654.7 376.7h1.0v1.0h-1.0zM647.4 252.7h1.0v1.0h-1.0zM630.1 391.6h1.0v1.0h-1.0zM635.8 291.9h1.0v1.0h-1.0zM643.8 444.1h1.0v1.0h-1.0zM644.5 294.1h1.0v1.0h-1.0zM629.9 281.3h1.0v1.0h-1.0zM653.2 315.0h1.0v1.0h-1.0zM652.7 385.8h1.0v1.0h-1.0zM632.5 457.7h1.0v1.0h-1.0zM627.0 281.1h1.0v1.0h-1.0zM652.6 270.5h1.0v1.0h-1.0zM628.5 446.5h1.0v1.0h-1.0zM652.6 377.5h1.0v1.0h-1.0zM650.0 364.5h1.0v1.0h-1.0zM650.4 292.0h1.0v1.0h-1.0zM621.7 351.6h1.0v1.0h-1.0zM651.6 413.8h1.0v1.0h-1.0zM645.1 318.0h1.0v1.0h-1.0zM645.2 375.4h1.0v1.0h-1.0zM627.5 286.8h1.0v1.0h-1.0zM647.5 274.9h1.0v1.0h-1.0zM654.0 314.1h1.0v1.0h-1.0zM627.2 323.6h1.0v1.0h-1.0zM647.4 270.3h1.0v1.0h-1.0zM647.1 313.5h1.0v1.0h-1.0zM634.3 438.7h1.0v1.0h-1.0zM617.6 326.2h1.0v1.0h-1.0zM619.1 333.3h1.0v1.0h-1.0zM638.4 253.0h1.0v1.0h-1.0zM650.4 291.5h1.0v1.0h-1.0zM623.3 285.4h1.0v1.0h-1.0zM655.8 396.7h1.0v1.0h-1.0zM655.3 357.4h1.0v1.0h-1.0zM628.0 295.0h1.0v1.0h-1.0zM642.7 383.5h1.0v1.0h-1.0zM631.3 306.6h1.0v1.0h-1.0zM648.2 335.1h1.0v1.0h-1.0zM618.0 305.9h1.0v1.0h-1.0zM624.2 315.7h1.0v1.0h-1.0zM626.3 283.3h1.0v1.0h-1.0zM648.7 337.1h1.0v1.0h-1.0zM618.9 341.5h1.0v1.0h-1.0zM646.0 320.7h1.0v1.0h-1.0zM637.0 353.7h1.0v1.0h-1.0zM648.0 316.9h1.0v1.0h-1.0zM646.4 411.1h1.0v1.0h-1.0zM624.5 343.4h1.0v1.0h-1.0zM625.4 438.7h1.0v1.0h-1.0zM645.9 263.8h1.0v1.0h-1.0zM649.4 273.7h1.0v1.0h-1.0zM624.1 306.1h1.0v1.0h-1.0zM652.2 293.3h1.0v1.0h-1.0zM653.5 246.5h1.0v1.0h-1.0zM652.9 370.4h1.0v1.0h-1.0zM653.0 256.9h1.0v1.0h-1.0zM653.5 368.1h1.0v1.0h-1.0zM620.2 353.5h1.0v1.0h-1.0zM630.5 313.6h1.0v1.0h-1.0zM651.1 300.5h1.0v1.0h-1.0zM651.5 317.0h1.0v1.0h-1.0zM651.6 337.4h1.0v1.0h-1.0zM622.8 338.8h1.0v1.0h-1.0zM620.3 319.1h1.0v1.0h-1.0zM655.1 447.6h1.0v1.0h-1.0zM649.2 322.9h1.0v1.0h-1.0zM640.8 331.8h1.0v1.0h-1.0zM629.1 306.2h1.0v1.0h-1.0zM653.0 352.5h1.0v1.0h-1.0zM651.4 282.9h1.0v1.0h-1.0zM649.3 303.6h1.0v1.0h-1.0zM624.6 281.6h1.0v1.0h-1.0zM631.8 411.9h1.0v1.0h-1.0zM620.6 297.6h1.0v1.0h-1.0zM652.7 263.5h1.0v1.0h-1.0zM643.2 348.2h1.0v1.0h-1.0zM641.6 306.0h1.0v1.0h-1.0zM655.3 255.2h1.0v1.0h-1.0zM626.6 325.2h1.0v1.0h-1.0zM640.2 364.5h1.0v1.0h-1.0zM623.4 247.9h1.0v1.0h-1.0zM651.5 299.8h1.0v1.0h-1.0zM650.4 260.6h1.0v1.0h-1.0zM650.4 255.7h1.0v1.0h-1.0zM648.1 365.6h1.0v1.0h-1.0zM618.9 287.0h1.0v1.0h-1.0zM654.4 331.1h1.0v1.0h-1.0zM645.9 282.5h1.0v1.0h-1.0zM618.4 318.1h1.0v1.0h-1.0zM620.5 254.4h1.0v1.0h-1.0zM648.6 421.4h1.0v1.0h-1.0zM622.0 297.4h1.0v1.0h-1.0zM621.1 310.5h1.0v1.0h-1.0zM630.3 431.2h1.0v1.0h-1.0zM627.6 397.9h1.0v1.0h-1.0zM628.4 386.7h1.0v1.0h-1.0zM652.5 326.9h1.0v1.0h-1.0zM625.8 323.9h1.0v1.0h-1.0zM641.2 260.4h1.0v1.0h-1.0zM651.7 443.0h1.0v1.0h-1.0zM650.3 266.4h1.0v1.0h-1.0zM655.9 358.2h1.0v1.0h-1.0zM641.2 378.4h1.0v1.0h-1.0zM631.9 428.3h1.0v1.0h-1.0zM642.0 346.4h1.0v1.0h-1.0zM622.5 265.8h1.0v1.0h-1.0zM650.8 254.0h1.0v1.0h-1.0zM655.2 362.6h1.0v1.0h-1.0zM620.4 270.3h1.0v1.0h-1.0zM652.0 329.7h1.0v1.0h-1.0zM633.4 415.9h1.0v1.0h-1.0zM638.4 305.2h1.0v1.0h-1.0zM629.3 382.2h1.0v1.0h-1.0zM641.3 266.0h1.0v1.0h-1.0zM624.1 339.3h1.0v1.0h-1.0zM654.7 263.2h1.0v1.0h-1.0zM628.4 416.8h1.0v1.0h-1.0zM646.4 389.4h1.0v1.0h-1.0zM635.4 263.1h1.0v1.0h-1.0zM653.2 319.1h1.0v1.0h-1.0zM649.4 365.8h1.0v1.0h-1.0zM624.7 293.4h1.0v1.0h-1.0zM645.7 362.6h1.0v1.0h-1.0zM655.6 294.3h1.0v1.0h-1.0zM622.3 300.3h1.0v1.0h-1.0zM623.3 255.7h1.0v1.0h-1.0zM652.7 290.7h1.0v1.0h-1.0zM621.8 277.1h1.0v1.0h-1.0zM649.6 285.8h1.0v1.0h-1.0zM651.8 398.8h1.0v1.0h-1.0zM620.7 280.5h1.0v1.0h-1.0zM643.0 441.9h1.0v1.0h-1.0zM654.3 249.5h1.0v1.0h-1.0zM643.9 268.4h1.0v1.0h-1.0zM651.6 253.9h1.0v1.0h-1.0zM624.6 368.8h1.0v1.0h-1.0zM627.2 296.1h1.0v1.0h-1.0zM619.2 317.0h1.0v1.0h-1.0zM627.7 359.2h1.0v1.0h-1.0zM638.1 355.9h1.0v1.0h-1.0zM621.7 295.0h1.0v1.0h-1.0zM619.9 343.0h1.0v1.0h-1.0zM634.5 246.0h1.0v1.0h-1.0zM656.0 376.9h1.0v1.0h-1.0zM618.4 346.0h1.0v1.0h-1.0zM628.2 326.4h1.0v1.0h-1.0zM634.1 323.4h1.0v1.0h-1.0zM636.2 251.1h1.0v1.0h-1.0zM653.5 361.8h1.0v1.0h-1.0zM649.6 318.8h1.0v1.0h-1.0zM643.8 337.2h1.0v1.0h-1.0zM647.3 270.4h1.0v1.0h-1.0zM633.6 258.3h1.0v1.0h-1.0zM632.3 245.7h1.0v1.0h-1.0zM628.8 319.8h1.0v1.0h-1.0zM639.0 280.7h1.0v1.0h-1.0zM625.3 272.2h1.0v1.0h-1.0zM632.5 246.5h1.0v1.0h-1.0zM623.6 387.8h1.0v1.0h-1.0zM638.5 350.0h1.0v1.0h-1.0zM636.2 367.5h1.0v1.0h-1.0zM656.0 350.4h1.0v1.0h-1.0zM619.6 271.2h1.0v1.0h-1.0zM641.0 345.0h1.0v1.0h-1.0zM654.1 290.8h1.0v1.0h-1.0zM650.0 386.1h1.0v1.0h-1.0zM643.7 301.1h1.0v1.0h-1.0zM617.6 259.5h1.0v1.0h-1.0zM645.9 313.3h1.0v1.0h-1.0zM628.5 391.2h1.0v1.0h-1.0zM622.5 265.3h1.0v1.0h-1.0zM654.8 391.7h1.0v1.0h-1.0zM650.7 250.9h1.0v1.0h-1.0zM643.3 252.2h1.0v1.0h-1.0zM652.5 328.6h1.0v1.0h-1.0zM625.6 415.1h1.0v1.0h-1.0zM646.4 305.2h1.0v1.0h-1.0zM651.5 355.8h1.0v1.0h-1.0zM653.4 266.7h1.0v1.0h-1.0zM628.5 410.4h1.0v1.0h-1.0zM636.2 299.8h1.0v1.0h-1.0zM623.0 289.8h1.0v1.0h-1.0zM640.5 270.5h1.0v1.0h-1.0zM648.5 318.2h1.0v1.0h-1.0zM621.2 341.9h1.0v1.0h-1.0zM648.5 331.8h1.0v1.0h-1.0zM656.6 395.3h1.0v1.0h-1.0zM627.4 271.5h1.0v1.0h-1.0zM631.8 358.6h1.0v1.0h-1.0zM623.3 348.9h1.0v1.0h-1.0zM654.1 281.2h1.0v1.0h-1.0zM624.5 308.9h1.0v1.0h-1.0zM623.8 252.3h1.0v1.0h-1.0zM640.1 281.5h1.0v1.0h-1.0zM642.3 252.8h1.0v1.0h-1.0zM618.8 317.5h1.0v1.0h-1.0zM620.6 310.4h1.0v1.0h-1.0zM627.6 385.8h1.0v1.0h-1.0zM646.8 280.0h1.0v1.0h-1.0zM641.3 352.8h1.0v1.0h-1.0zM628.4 448.9h1.0v1.0h-1.0zM617.2 267.0h1.0v1.0h-1.0zM624.7 269.7h1.0v1.0h-1.0zM636.7 338.8h1.0v1.0h-1.0zM619.0 266.3h1.0v1.0h-1.0zM633.4 247.6h1.0v1.0h-1.0zM654.4 319.8h1.0v1.0h-1.0zM630.5 322.2h1.0v1.0h-1.0zM655.7 297.3h1.0v1.0h-1.0zM645.8 277.9h1.0v1.0h-1.0zM649.6 289.8h1.0v1.0h-1.0zM646.9 335.3h1.0v1.0h-1.0zM649.9 422.7h1.0v1.0h-1.0zM641.6 277.2h1.0v1.0h-1.0zM642.9 269.0h1.0v1.0h-1.0zM616.9 276.2h1.0v1.0h-1.0zM621.0 394.7h1.0v1.0h-1.0zM654.8 348.5h1.0v1.0h-1.0zM636.2 270.8h1.0v1.0h-1.0zM621.3 394.9h1.0v1.0h-1.0zM645.6 349.9h1.0v1.0h-1.0zM636.5 299.9h1.0v1.0h-1.0zM621.1 391.3h1.0v1.0h-1.0zM627.0 305.0h1.0v1.0h-1.0zM625.8 334.6h1.0v1.0h-1.0zM632.1 320.1h1.0v1.0h-1.0zM627.4 365.4h1.0v1.0h-1.0zM629.5 288.7h1.0v1.0h-1.0zM618.9 303.8h1.0v1.0h-1.0zM624.8 397.7h1.0v1.0h-1.0zM621.5 436.4h1.0v1.0h-1.0zM654.0 372.2h1.0v1.0h-1.0zM620.9 296.2h1.0v1.0h-1.0zM623.0 284.2h1.0v1.0h-1.0zM648.6 422.3h1.0v1.0h-1.0zM640.2 435.8h1.0v1.0h-1.0zM618.9 379.8h1.0v1.0h-1.0zM649.0 260.2h1.0v1.0h-1.0zM642.2 367.8h1.0v1.0h-1.0zM622.9 345.0h1.0v1.0h-1.0zM630.0 435.7h1.0v1.0h-1.0zM641.5 345.9h1.0v1.0h-1.0zM639.3 302.1h1.0v1.0h-1.0zM629.4 305.5h1.0v1.0h-1.0zM619.4 346.6h1.0v1.0h-1.0zM643.8 362.1h1.0v1.0h-1.0zM617.2 247.1h1.0v1.0h-1.0zM619.6 294.0h1.0v1.0h-1.0zM655.3 265.2h1.0v1.0h-1.0zM625.6 339.8h1.0v1.0h-1.0zM621.2 267.6h1.0v1.0h-1.0zM635.4 382.6h1.0v1.0h-1.0zM646.8 331.7h1.0v1.0h-1.0zM655.5 371.7h1.0v1.0h-1.0zM626.2 264.2h1.0v1.0h-1.0zM634.2 281.6h1.0v1.0h-1.0zM652.9 246.4h1.0v1.0h-1.0zM627.1 306.5h1.0v1.0h-1.0zM656.0 314.5h1.0v1.0h-1.0zM652.7 399.6h1.0v1.0h-1.0zM622.8 295.8h1.0v1.0h-1.0zM649.7 289.4h1.0v1.0h-1.0zM627.4 323.7h1.0v1.0h-1.0zM639.2 272.2h1.0v1.0h-1.0zM634.8 284.1h1.0v1.0h-1.0zM623.3 427.4h1.0v1.0h-1.0zM646.4 284.0h1.0v1.0h-1.0zM619.7 317.0h1.0v1.0h-1.0zM619.8 328.2h1.0v1.0h-1.0zM654.3 321.5h1.0v1.0h-1.0zM625.7 277.5h1.0v1.0h-1.0zM651.7 253.6h1.0v1.0h-1.0zM640.0 395.1h1.0v1.0h-1.0zM645.3 295.7h1.0v1.0h-1.0zM626.9 383.5h1.0v1.0h-1.0zM628.6 297.0h1.0v1.0h-1.0zM643.9 267.8h1.0v1.0h-1.0zM625.8 340.3h1.0v1.0h-1.0zM617.4 251.5h1.0v1.0h-1.0zM627.9 335.5h1.0v1.0h-1.0zM631.5 298.4h1.0v1.0h-1.0zM623.4 311.2h1.0v1.0h-1.0zM654.0 316.1h1.0v1.0h-1.0zM641.7 280.1h1.0v1.0h-1.0zM623.4 291.5h1.0v1.0h-1.0zM628.1 381.1h1.0v1.0h-1.0zM644.6 326.1h1.0v1.0h-1.0zM646.7 308.0h1.0v1.0h-1.0zM648.5 319.9h1.0v1.0h-1.0zM650.4 319.8h1.0v1.0h-1.0zM625.4 352.7h1.0v1.0h-1.0zM647.0 297.8h1.0v1.0h-1.0zM652.3 358.7h1.0v1.0h-1.0zM621.2 282.1h1.0v1.0h-1.0zM646.4 346.0h1.0v1.0h-1.0zM621.1 397.6h1.0v1.0h-1.0zM629.5 384.6h1.0v1.0h-1.0zM639.3 302.0h1.0v1.0h-1.0zM623.9 346.2h1.0v1.0h-1.0zM620.3 309.3h1.0v1.0h-1.0zM647.3 249.4h1.0v1.0h-1.0zM652.8 279.2h1.0v1.0h-1.0zM648.6 299.6h1.0v1.0h-1.0zM645.1 251.8h1.0v1.0h-1.0zM646.3 305.3h1.0v1.0h-1.0zM653.7 352.3h1.0v1.0h-1.0zM656.5 444.2h1.0v1.0h-1.0zM651.5 260.0h1.0v1.0h-1.0zM644.5 430.7h1.0v1.0h-1.0zM619.8 258.6h1.0v1.0h-1.0zM655.1 290.5h1.0v1.0h-1.0zM640.3 270.6h1.0v1.0h-1.0zM618.5 340.5h1.0v1.0h-1.0zM619.1 372.7h1.0v1.0h-1.0zM616.9 276.2h1.0v1.0h-1.0zM624.7 250.1h1.0v1.0h-1.0zM646.2 306.0h1.0v1.0h-1.0zM622.5 329.3h1.0v1.0h-1.0zM644.4 352.2h1.0v1.0h-1.0zM634.8 290.8h1.0v1.0h-1.0zM633.4 364.4h1.0v1.0h-1.0zM646.1 278.9h1.0v1.0h-1.0zM647.0 374.4h1.0v1.0h-1.0zM652.5 260.6h1.0v1.0h-1.0zM652.1 412.4h1.0v1.0h-1.0zM643.8 355.6h1.0v1.0h-1.0zM640.8 287.4h1.0v1.0h-1.0zM653.8 275.3h1.0v1.0h-1.0zM649.7 291.5h1.0v1.0h-1.0zM651.1 374.5h1.0v1.0h-1.0zM649.6 349.2h1.0v1.0h-1.0zM646.8 457.8h1.0v1.0h-1.0zM628.3 395.4h1.0v1.0h-1.0zM620.8 256.9h1.0v1.0h-1.0zM654.6 396.5h1.0v1.0h-1.0zM625.9 273.3h1.0v1.0h-1.0zM646.7 333.4h1.0v1.0h-1.0zM654.0 375.2h1.0v1.0h-1.0zM632.0 375.1h1.0v1.0h-1.0zM654.9 344.9h1.0v1.0h-1.0zM656.1 384.2h1.0v1.0h-1.0zM634.8 449.5h1.0v1.0h-1.0zM647.2 315.1h1.0v1.0h-1.0zM646.6 314.6h1.0v1.0h-1.0zM641.4 315.2h1.0v1.0h-1.0zM624.4 290.2h1.0v1.0h-1.0zM620.8 427.7h1.0v1.0h-1.0zM641.1 369.6h1.0v1.0h-1.0zM644.6 340.1h1.0v1.0h-1.0zM635.5 249.6h1.0v1.0h-1.0zM649.2 457.5h1.0v1.0h-1.0zM622.2 320.7h1.0v1.0h-1.0zM626.5 294.6h1.0v1.0h-1.0zM622.7 414.5h1.0v1.0h-1.0zM643.4 398.7h1.0v1.0h-1.0zM619.2 266.2h1.0v1.0h-1.0zM621.9 336.2h1.0v1.0h-1.0zM637.5 308.1h1.0v1.0h-1.0zM619.8 295.6h1.0v1.0h-1.0zM645.8 246.8h1.0v1.0h-1.0zM633.8 252.3h1.0v1.0h-1.0zM655.2 316.1h1.0v1.0h-1.0zM652.3 393.0h1.0v1.0h-1.0zM622.9 309.4h1.0v1.0h-1.0zM641.4 335.0h1.0v1.0h-1.0zM645.5 261.7h1.0v1.0h-1.0zM643.6 281.3h1.0v1.0h-1.0zM648.1 336.8h1.0v1.0h-1.0zM636.8 246.4h1.0v1.0h-1.0zM649.9 296.4h1.0v1.0h-1.0zM650.1 250.2h1.0v1.0h-1.0zM648.7 295.2h1.0v1.0h-1.0zM635.8 320.4h1.0v1.0h-1.0zM630.6 342.0h1.0v1.0h-1.0zM655.1 333.2h1.0v1.0h-1.0zM626.8 308.3h1.0v1.0h-1.0zM623.2 380.2h1.0v1.0h-1.0zM635.6 445.7h1.0v1.0h-1.0zM627.4 274.0h1.0v1.0h-1.0zM631.3 443.9h1.0v1.0h-1.0zM650.9 382.3h1.0v1.0h-1.0zM648.5 305.0h1.0v1.0h-1.0zM645.7 322.5h1.0v1.0h-1.0zM631.8 334.3h1.0v1.0h-1.0zM646.1 255.0h1.0v1.0h-1.0zM652.2 344.7h1.0v1.0h-1.0zM653.1 277.8h1.0v1.0h-1.0zM623.0 333.6h1.0v1.0h-1.0zM645.0 411.4h1.0v1.0h-1.0zM623.5 369.6h1.0v1.0h-1.0zM653.9 430.0h1.0v1.0h-1.0zM628.8 280.9h1.0v1.0h-1.0zM628.6 375.6h1.0v1.0h-1.0zM644.4 334.1h1.0v1.0h-1.0zM650.5 404.8h1.0v1.0h-1.0zM651.8 443.3h1.0v1.0h-1.0zM626.5 308.4h1.0v1.0h-1.0zM646.2 319.8h1.0v1.0h-1.0zM643.8 309.5h1.0v1.0h-1.0zM631.4 300.3h1.0v1.0h-1.0zM650.3 276.6h1.0v1.0h-1.0zM637.5 307.5h1.0v1.0h-1.0zM638.9 264.8h1.0v1.0h-1.0zM656.4 356.2h1.0v1.0h-1.0zM645.6 317.0h1.0v1.0h-1.0zM639.8 346.1h1.0v1.0h-1.0zM641.8 350.2h1.0v1.0h-1.0zM629.5 261.4h1.0v1.0h-1.0zM621.8 384.6h1.0v1.0h-1.0zM643.6 271.3h1.0v1.0h-1.0zM640.6 313.5h1.0v1.0h-1.0zM647.8 352.8h1.0v1.0h-1.0zM649.3 297.0h1.0v1.0h-1.0zM642.7 323.2h1.0v1.0h-1.0zM641.7 263.4h1.0v1.0h-1.0zM646.1 404.5h1.0v1.0h-1.0zM647.5 358.2h1.0v1.0h-1.0zM622.6 285.1h1.0v1.0h-1.0zM620.0 317.9h1.0v1.0h-1.0zM629.3 309.2h1.0v1.0h-1.0zM642.5 345.9h1.0v1.0h-1.0zM629.8 450.2h1.0v1.0h-1.0zM631.3 427.3h1.0v1.0h-1.0zM641.0 392.8h1.0v1.0h-1.0zM630.9 327.0h1.0v1.0h-1.0zM649.9 387.0h1.0v1.0h-1.0zM653.8 295.1h1.0v1.0h-1.0zM624.3 439.7h1.0v1.0h-1.0zM647.5 390.5h1.0v1.0h-1.0zM620.8 321.5h1.0v1.0h-1.0zM619.1 253.4h1.0v1.0h-1.0zM629.1 449.9h1.0v1.0h-1.0zM626.9 436.4h1.0v1.0h-1.0zM622.4 348.1h1.0v1.0h-1.0zM622.4 271.8h1.0v1.0h-1.0zM623.8 385.8h1.0v1.0h-1.0zM652.4 391.9h1.0v1.0h-1.0zM626.5 304.9h1.0v1.0h-1.0zM639.5 283.2h1.0v1.0h-1.0zM649.3 381.9h1.0v1.0h-1.0zM624.0 427.4h1.0v1.0h-1.0zM620.8 357.1h1.0v1.0h-1.0zM648.9 457.2h1.0v1.0h-1.0zM653.9 251.5h1.0v1.0h-1.0zM621.5 456.8h1.0v1.0h-1.0zM634.5 274.5h1.0v1.0h-1.0zM645.7 344.8h1.0v1.0h-1.0zM650.5 305.3h1.0v1.0h-1.0zM647.1 393.7h1.0v1.0h-1.0zM640.2 416.1h1.0v1.0h-1.0zM627.4 258.7h1.0v1.0h-1.0zM623.3 265.2h1.0v1.0h-1.0zM655.0 322.3h1.0v1.0h-1.0zM627.5 304.3h1.0v1.0h-1.0zM628.3 247.4h1.0v1.0h-1.0zM639.0 266.3h1.0v1.0h-1.0zM649.6 273.9h1.0v1.0h-1.0zM646.3 273.0h1.0v1.0h-1.0zM651.1 368.5h1.0v1.0h-1.0zM643.2 402.1h1.0v1.0h-1.0zM638.9 294.9h1.0v1.0h-1.0zM623.4 322.7h1.0v1.0h-1.0zM623.3 434.4h1.0v1.0h-1.0zM623.9 371.5h1.0v1.0h-1.0zM643.4 355.0h1.0v1.0h-1.0zM627.5 351.9h1.0v1.0h-1.0zM631.6 247.7h1.0v1.0h-1.0zM641.9 367.8h1.0v1.0h-1.0zM649.0 303.1h1.0v1.0h-1.0zM627.3 398.7h1.0v1.0h-1.0zM646.2 269.1h1.0v1.0h-1.0zM623.3 327.1h1.0v1.0h-1.0zM621.2 351.3h1.0v1.0h-1.0zM625.1 245.3h1.0v1.0h-1.0zM633.5 357.0h1.0v1.0h-1.0zM643.3 360.1h1.0v1.0h-1.0zM630.2 423.5h1.0v1.0h-1.0zM643.9 262.2h1.0v1.0h-1.0zM627.5 373.9h1.0v1.0h-1.0zM628.0 396.4h1.0v1.0h-1.0zM626.0 334.7h1.0v1.0h-1.0zM628.3 409.0h1.0v1.0h-1.0zM626.9 285.7h1.0v1.0h-1.0zM621.8 361.3h1.0v1.0h-1.0zM653.4 347.6h1.0v1.0h-1.0zM650.4 376.2h1.0v1.0h-1.0zM631.2 248.6h1.0v1.0h-1.0zM644.3 263.3h1.0v1.0h-1.0zM621.3 376.1h1.0v1.0h-1.0zM628.2 376.9h1.0v1.0h-1.0zM643.5 255.7h1.0v1.0h-1.0zM646.2 351.2h1.0v1.0h-1.0zM651.8 297.4h1.0v1.0h-1.0zM627.9 325.7h1.0v1.0h-1.0zM623.8 411.1h1.0v1.0h-1.0zM623.8 284.3h1.0v1.0h-1.0zM635.1 337.3h1.0v1.0h-1.0zM645.3 306.5h1.0v1.0h-1.0zM644.1 391.3h1.0v1.0h-1.0zM622.4 367.4h1.0v1.0h-1.0zM640.2 306.9h1.0v1.0h-1.0zM619.7 348.7h1.0v1.0h-1.0zM639.8 254.9h1.0v1.0h-1.0zM645.9 375.1h1.0v1.0h-1.0zM629.8 339.1h1.0v1.0h-1.0zM655.1 252.3h1.0v1.0h-1.0zM642.2 333.5h1.0v1.0h-1.0zM644.9 360.0h1.0v1.0h-1.0zM617.4 309.0h1.0v1.0h-1.0zM642.2 247.7h1.0v1.0h-1.0zM646.8 316.4h1.0v1.0h-1.0zM653.2 384.3h1.0v1.0h-1.0zM650.6 381.9h1.0v1.0h-1.0zM623.9 294.0h1.0v1.0h-1.0zM633.8 245.4h1.0v1.0h-1.0zM652.8 414.8h1.0v1.0h-1.0zM617.6 297.5h1.0v1.0h-1.0zM647.9 392.0h1.0v1.0h-1.0zM644.6 287.4h1.0v1.0h-1.0zM654.6 272.5h1.0v1.0h-1.0zM643.7 249.5h1.0v1.0h-1.0zM622.7 290.3h1.0v1.0h-1.0zM637.7 256.6h1.0v1.0h-1.0zM652.4 398.8h1.0v1.0h-1.0zM630.2 344.9h1.0v1.0h-1.0zM645.2 367.3h1.0v1.0h-1.0zM623.3 271.1h1.0v1.0h-1.0zM636.1 328.7h1.0v1.0h-1.0zM648.1 307.3h1.0v1.0h-1.0zM647.7 251.5h1.0v1.0h-1.0zM628.8 397.5h1.0v1.0h-1.0zM648.1 397.0h1.0v1.0h-1.0zM629.2 457.4h1.0v1.0h-1.0zM648.4 274.1h1.0v1.0h-1.0zM645.8 248.2h1.0v1.0h-1.0zM618.1 284.4h1.0v1.0h-1.0zM621.7 299.2h1.0v1.0h-1.0zM645.4 359.5h1.0v1.0h-1.0zM622.2 322.6h1.0v1.0h-1.0zM641.2 308.6h1.0v1.0h-1.0zM623.0 324.4h1.0v1.0h-1.0zM645.2 340.9h1.0v1.0h-1.0zM651.1 310.3h1.0v1.0h-1.0zM648.5 253.9h1.0v1.0h-1.0zM645.8 438.4h1.0v1.0h-1.0zM655.4 284.0h1.0v1.0h-1.0zM617.4 260.4h1.0v1.0h-1.0zM648.3 442.3h1.0v1.0h-1.0zM644.7 393.9h1.0v1.0h-1.0zM647.6 361.4h1.0v1.0h-1.0zM626.3 317.2h1.0v1.0h-1.0zM646.9 247.4h1.0v1.0h-1.0zM625.2 395.7h1.0v1.0h-1.0zM623.8 256.7h1.0v1.0h-1.0zM652.4 261.8h1.0v1.0h-1.0zM656.1 379.1h1.0v1.0h-1.0zM619.5 303.2h1.0v1.0h-1.0zM651.6 298.0h1.0v1.0h-1.0zM651.1 389.6h1.0v1.0h-1.0zM626.0 261.4h1.0v1.0h-1.0zM624.6 361.9h1.0v1.0h-1.0zM622.4 248.0h1.0v1.0h-1.0zM648.5 424.1h1.0v1.0h-1.0zM635.2 260.8h1.0v1.0h-1.0zM624.1 394.0h1.0v1.0h-1.0zM648.5 245.6h1.0v1.0h-1.0zM653.2 392.2h1.0v1.0h-1.0zM640.1 454.9h1.0v1.0h-1.0zM644.6 371.1h1.0v1.0h-1.0zM644.9 444.0h1.0v1.0h-1.0zM654.9 259.2h1.0v1.0h-1.0zM621.1 449.2h1.0v1.0h-1.0zM636.2 394.4h1.0v1.0h-1.0zM625.0 268.3h1.0v1.0h-1.0zM624.2 265.8h1.0v1.0h-1.0zM644.9 393.6h1.0v1.0h-1.0zM654.4 335.9h1.0v1.0h-1.0zM648.6 301.7h1.0v1.0h-1.0zM621.6 264.2h1.0v1.0h-1.0zM644.7 316.7h1.0v1.0h-1.0zM622.5 251.1h1.0v1.0h-1.0zM630.1 260.8h1.0v1.0h-1.0zM619.3 252.3h1.0v1.0h-1.0zM623.7 316.6h1.0v1.0h-1.0zM629.6 342.1h1.0v1.0h-1.0zM621.7 331.9h1.0v1.0h-1.0zM625.5 259.4h1.0v1.0h-1.0zM644.6 376.4h1.0v1.0h-1.0zM645.5 267.6h1.0v1.0h-1.0zM625.9 449.9h1.0v1.0h-1.0zM617.9 260.6h1.0v1.0h-1.0zM640.8 294.7h1.0v1.0h-1.0zM625.9 279.8h1.0v1.0h-1.0zM650.7 272.8h1.0v1.0h-1.0zM644.4 427.5h1.0v1.0h-1.0zM625.0 335.1h1.0v1.0h-1.0zM635.7 354.8h1.0v1.0h-1.0zM627.8 362.0h1.0v1.0h-1.0zM643.4 340.9h1.0v1.0h-1.0zM620.5 432.1h1.0v1.0h-1.0zM622.5 381.7h1.0v1.0h-1.0zM632.9 425.3h1.0v1.0h-1.0zM643.2 358.0h1.0v1.0h-1.0zM655.0 250.1h1.0v1.0h-1.0zM644.2 293.4h1.0v1.0h-1.0zM649.3 376.6h1.0v1.0h-1.0zM633.8 252.9h1.0v1.0h-1.0zM625.7 303.2h1.0v1.0h-1.0zM620.1 443.2h1.0v1.0h-1.0zM644.8 309.4h1.0v1.0h-1.0zM641.4 259.1h1.0v1.0h-1.0zM650.3 390.2h1.0v1.0h-1.0zM626.4 291.6h1.0v1.0h-1.0zM616.6 246.3h1.0v1.0h-1.0zM648.8 267.5h1.0v1.0h-1.0zM645.3 268.2h1.0v1.0h-1.0zM630.5 423.3h1.0v1.0h-1.0zM642.7 328.0h1.0v1.0h-1.0zM655.6 398.3h1.0v1.0h-1.0zM640.8 270.9h1.0v1.0h-1.0zM628.8 251.6h1.0v1.0h-1.0zM645.3 273.0h1.0v1.0h-1.0zM620.6 350.2h1.0v1.0h-1.0zM629.9 250.1h1.0v1.0h-1.0zM634.1 294.7h1.0v1.0h-1.0zM629.7 409.8h1.0v1.0h-1.0zM635.1 254.4h1.0v1.0h-1.0zM641.6 271.7h1.0v1.0h-1.0zM643.2 256.9h1.0v1.0h-1.0zM645.8 270.7h1.0v1.0h-1.0zM644.4 318.6h1.0v1.0h-1.0zM653.8 370.1h1.0v1.0h-1.0zM618.6 327.1h1.0v1.0h-1.0zM619.1 391.6h1.0v1.0h-1.0zM638.0 265.0h1.0v1.0h-1.0zM653.6 339.0h1.0v1.0h-1.0zM624.9 456.7h1.0v1.0h-1.0zM632.2 345.0h1.0v1.0h-1.0zM648.9 288.9h1.0v1.0h-1.0zM654.6 295.1h1.0v1.0h-1.0zM620.1 365.2h1.0v1.0h-1.0zM622.6 365.6h1.0v1.0h-1.0zM646.5 251.3h1.0v1.0h-1.0zM648.4 363.6h1.0v1.0h-1.0zM626.0 291.4h1.0v1.0h-1.0zM620.1 273.4h1.0v1.0h-1.0zM630.1 284.7h1.0v1.0h-1.0zM619.1 398.8h1.0v1.0h-1.0zM620.5 273.1h1.0v1.0h-1.0zM653.2 359.4h1.0v1.0h-1.0zM642.1 358.6h1.0v1.0h-1.0zM627.3 386.5h1.0v1.0h-1.0zM656.7 376.8h1.0v1.0h-1.0zM646.7 338.0h1.0v1.0h-1.0zM646.8 289.2h1.0v1.0h-1.0zM656.1 342.6h1.0v1.0h-1.0zM622.0 378.9h1.0v1.0h-1.0zM630.7 330.9h1.0v1.0h-1.0zM617.8 300.2h1.0v1.0h-1.0zM651.7 419.8h1.0v1.0h-1.0zM625.6 334.1h1.0v1.0h-1.0zM654.9 387.8h1.0v1.0h-1.0zM645.5 354.3h1.0v1.0h-1.0zM629.7 277.6h1.0v1.0h-1.0zM644.5 315.0h1.0v1.0h-1.0zM650.6 432.8h1.0v1.0h-1.0zM625.0 437.8h1.0v1.0h-1.0zM650.6 333.8h1.0v1.0h-1.0zM649.2 293.3h1.0v1.0h-1.0zM648.8 341.6h1.0v1.0h-1.0zM635.1 338.2h1.0v1.0h-1.0zM624.1 285.4h1.0v1.0h-1.0zM622.9 332.7h1.0v1.0h-1.0zM649.2 268.5h1.0v1.0h-1.0zM631.6 361.7h1.0v1.0h-1.0zM625.4 452.0h1.0v1.0h-1.0zM619.5 354.3h1.0v1.0h-1.0zM625.9 254.2h1.0v1.0h-1.0zM628.0 309.1h1.0v1.0h-1.0zM629.6 272.7h1.0v1.0h-1.0zM618.0 342.9h1.0v1.0h-1.0zM649.0 255.0h1.0v1.0h-1.0zM647.7 317.7h1.0v1.0h-1.0zM649.7 347.1h1.0v1.0h-1.0zM624.0 383.5h1.0v1.0h-1.0zM655.1 246.2h1.0v1.0h-1.0zM622.8 420.4h1.0v1.0h-1.0zM642.5 329.2h1.0v1.0h-1.0zM623.5 391.5h1.0v1.0h-1.0zM632.9 247.0h1.0v1.0h-1.0zM620.2 324.3h1.0v1.0h-1.0zM628.7 358.2h1.0v1.0h-1.0zM633.7 281.5h1.0v1.0h-1.0zM651.5 315.5h1.0v1.0h-1.0zM654.4 265.5h1.0v1.0h-1.0zM652.4 335.4h1.0v1.0h-1.0zM646.7 315.1h1.0v1.0h-1.0zM655.2 407.0h1.0v1.0h-1.0zM619.1 357.4h1.0v1.0h-1.0zM650.7 349.6h1.0v1.0h-1.0zM625.2 336.8h1.0v1.0h-1.0zM645.2 438.1h1.0v1.0h-1.0zM629.1 296.9h1.0v1.0h-1.0zM627.4 245.6h1.0v1.0h-1.0zM634.1 317.0h1.0v1.0h-1.0zM624.0 324.3h1.0v1.0h-1.0zM626.4 347.9h1.0v1.0h-1.0zM650.9 365.0h1.0v1.0h-1.0zM619.5 354.5h1.0v1.0h-1.0zM640.8 404.7h1.0v1.0h-1.0zM648.8 323.6h1.0v1.0h-1.0zM629.7 311.9h1.0v1.0h-1.0zM628.4 247.5h1.0v1.0h-1.0zM651.9 249.3h1.0v1.0h-1.0zM629.1 354.1h1.0v1.0h-1.0zM645.7 292.8h1.0v1.0h-1.0zM626.2 438.6h1.0v1.0h-1.0zM654.6 350.6h1.0v1.0h-1.0zM633.2 446.5h1.0v1.0h-1.0zM623.8 414.6h1.0v1.0h-1.0zM627.4 280.9h1.0v1.0h-1.0zM651.5 360.2h1.0v1.0h-1.0zM623.6 332.2h1.0v1.0h-1.0zM652.8 348.6h1.0v1.0h-1.0zM630.1 302.2h1.0v1.0h-1.0zM638.6 424.3h1.0v1.0h-1.0zM650.1 398.8h1.0v1.0h-1.0zM644.9 256.8h1.0v1.0h-1.0zM646.5 261.6h1.0v1.0h-1.0zM655.4 261.8h1.0v1.0h-1.0zM633.4 337.8h1.0v1.0h-1.0zM622.8 391.1h1.0v1.0h-1.0zM651.2 312.1h1.0v1.0h-1.0zM638.6 282.2h1.0v1.0h-1.0zM618.5 356.1h1.0v1.0h-1.0zM654.4 271.7h1.0v1.0h-1.0zM630.5 452.3h1.0v1.0h-1.0zM620.3 418.1h1.0v1.0h-1.0zM629.7 248.1h1.0v1.0h-1.0zM633.5 441.4h1.0v1.0h-1.0zM653.9 370.5h1.0v1.0h-1.0zM645.4 290.3h1.0v1.0h-1.0zM646.3 331.8h1.0v1.0h-1.0zM644.3 350.2h1.0v1.0h-1.0zM623.7 251.4h1.0v1.0h-1.0zM644.1 314.8h1.0v1.0h-1.0zM649.1 417.4h1.0v1.0h-1.0zM621.9 359.7h1.0v1.0h-1.0zM650.6 248.3h1.0v1.0h-1.0zM628.8 391.0h1.0v1.0h-1.0zM624.7 390.2h1.0v1.0h-1.0zM644.4 246.1h1.0v1.0h-1.0zM630.5 254.6h1.0v1.0h-1.0zM647.9 309.4h1.0v1.0h-1.0zM640.2 266.6h1.0v1.0h-1.0zM628.7 353.2h1.0v1.0h-1.0zM628.9 351.1h1.0v1.0h-1.0zM626.7 377.9h1.0v1.0h-1.0zM648.8 332.8h1.0v1.0h-1.0zM648.2 410.3h1.0v1.0h-1.0zM642.3 358.7h1.0v1.0h-1.0zM634.1 420.6h1.0v1.0h-1.0zM641.3 316.0h1.0v1.0h-1.0zM621.2 312.0h1.0v1.0h-1.0zM636.7 253.1h1.0v1.0h-1.0zM636.9 370.6h1.0v1.0h-1.0zM655.4 287.5h1.0v1.0h-1.0zM653.5 250.9h1.0v1.0h-1.0zM655.8 337.5h1.0v1.0h-1.0zM626.7 245.4h1.0v1.0h-1.0zM624.9 283.1h1.0v1.0h-1.0zM650.2 346.9h1.0v1.0h-1.0zM640.2 367.1h1.0v1.0h-1.0zM655.3 349.7h1.0v1.0h-1.0zM655.7 286.2h1.0v1.0h-1.0zM649.0 375.3h1.0v1.0h-1.0zM646.6 383.4h1.0v1.0h-1.0zM642.0 345.5h1.0v1.0h-1.0zM624.2 310.6h1.0v1.0h-1.0zM620.1 342.3h1.0v1.0h-1.0zM622.7 328.8h1.0v1.0h-1.0zM641.1 319.5h1.0v1.0h-1.0zM624.5 316.0h1.0v1.0h-1.0zM642.7 320.0h1.0v1.0h-1.0zM623.3 253.3h1.0v1.0h-1.0zM619.1 316.6h1.0v1.0h-1.0zM641.2 339.4h1.0v1.0h-1.0zM625.3 284.0h1.0v1.0h-1.0zM649.2 267.6h1.0v1.0h-1.0zM645.3 350.4h1.0v1.0h-1.0zM632.0 349.0h1.0v1.0h-1.0zM632.8 361.0h1.0v1.0h-1.0zM625.4 306.3h1.0v1.0h-1.0zM648.7 275.4h1.0v1.0h-1.0zM646.3 408.1h1.0v1.0h-1.0zM645.6 365.8h1.0v1.0h-1.0zM636.3 420.8h1.0v1.0h-1.0zM627.9 360.2h1.0v1.0h-1.0zM620.9 280.6h1.0v1.0h-1.0zM626.8 372.2h1.0v1.0h-1.0zM619.3 401.1h1.0v1.0h-1.0zM628.6 309.0h1.0v1.0h-1.0zM635.4 380.0h1.0v1.0h-1.0zM651.9 329.9h1.0v1.0h-1.0zM623.8 326.2h1.0v1.0h-1.0zM622.7 321.9h1.0v1.0h-1.0zM654.1 292.8h1.0v1.0h-1.0zM623.3 304.1h1.0v1.0h-1.0zM650.3 457.9h1.0v1.0h-1.0zM645.7 342.1h1.0v1.0h-1.0zM650.8 325.8h1.0v1.0h-1.0zM654.1 251.7h1.0v1.0h-1.0zM641.6 285.7h1.0v1.0h-1.0zM645.8 269.4h1.0v1.0h-1.0zM655.7 343.9h1.0v1.0h-1.0zM634.2 380.9h1.0v1.0h-1.0zM640.6 349.7h1.0v1.0h-1.0zM622.7 343.7h1.0v1.0h-1.0zM628.8 457.6h1.0v1.0h-1.0zM639.2 275.2h1.0v1.0h-1.0zM629.2 456.4h1.0v1.0h-1.0zM619.1 338.2h1.0v1.0h-1.0zM625.5 252.1h1.0v1.0h-1.0zM634.2 362.0h1.0v1.0h-1.0zM620.5 366.1h1.0v1.0h-1.0zM629.7 369.8h1.0v1.0h-1.0zM643.8 352.5h1.0v1.0h-1.0zM619.7 295.7h1.0v1.0h-1.0zM654.5 307.0h1.0v1.0h-1.0zM649.1 258.6h1.0v1.0h-1.0zM643.7 296.0h1.0v1.0h-1.0zM646.1 325.5h1.0v1.0h-1.0zM636.2 338.3h1.0v1.0h-1.0zM640.8 412.9h1.0v1.0h-1.0zM641.5 326.6h1.0v1.0h-1.0zM622.6 324.0h1.0v1.0h-1.0zM653.0 298.5h1.0v1.0h-1.0zM649.9 376.3h1.0v1.0h-1.0zM645.7 267.7h1.0v1.0h-1.0zM641.1 367.4h1.0v1.0h-1.0zM625.2 353.1h1.0v1.0h-1.0zM620.2 259.9h1.0v1.0h-1.0zM641.1 335.3h1.0v1.0h-1.0zM645.5 327.4h1.0v1.0h-1.0zM644.0 272.8h1.0v1.0h-1.0zM650.6 425.3h1.0v1.0h-1.0zM621.8 400.9h1.0v1.0h-1.0zM642.6 458.9h1.0v1.0h-1.0zM618.1 343.9h1.0v1.0h-1.0zM622.2 246.1h1.0v1.0h-1.0zM644.2 270.0h1.0v1.0h-1.0zM642.2 455.3h1.0v1.0h-1.0zM620.2 246.9h1.0v1.0h-1.0zM617.3 289.7h1.0v1.0h-1.0zM618.4 357.6h1.0v1.0h-1.0zM623.9 382.0h1.0v1.0h-1.0zM619.2 339.4h1.0v1.0h-1.0zM621.0 341.1h1.0v1.0h-1.0zM649.6 252.0h1.0v1.0h-1.0zM648.7 332.2h1.0v1.0h-1.0zM625.3 271.8h1.0v1.0h-1.0zM650.4 254.0h1.0v1.0h-1.0zM649.0 258.3h1.0v1.0h-1.0zM639.0 447.7h1.0v1.0h-1.0zM655.4 396.4h1.0v1.0h-1.0zM618.3 260.3h1.0v1.0h-1.0zM618.9 362.1h1.0v1.0h-1.0zM626.2 360.9h1.0v1.0h-1.0zM632.2 450.0h1.0v1.0h-1.0zM631.7 331.3h1.0v1.0h-1.0zM619.4 268.5h1.0v1.0h-1.0zM622.1 338.2h1.0v1.0h-1.0zM644.7 365.8h1.0v1.0h-1.0zM634.8 245.6h1.0v1.0h-1.0zM619.1 326.7h1.0v1.0h-1.0zM639.2 278.3h1.0v1.0h-1.0zM652.4 375.6h1.0v1.0h-1.0zM643.2 257.9h1.0v1.0h-1.0zM654.9 288.5h1.0v1.0h-1.0zM623.5 396.5h1.0v1.0h-1.0zM621.8 380.9h1.0v1.0h-1.0zM647.5 350.3h1.0v1.0h-1.0zM645.7 291.7h1.0v1.0h-1.0zM624.8 294.0h1.0v1.0h-1.0zM651.1 361.2h1.0v1.0h-1.0zM648.2 427.0h1.0v1.0h-1.0zM627.3 370.0h1.0v1.0h-1.0zM650.4 250.9h1.0v1.0h-1.0zM643.7 277.8h1.0v1.0h-1.0zM638.8 260.6h1.0v1.0h-1.0zM641.7 324.7h1.0v1.0h-1.0zM622.2 277.6h1.0v1.0h-1.0zM628.7 284.7h1.0v1.0h-1.0zM627.3 260.2h1.0v1.0h-1.0zM644.6 335.2h1.0v1.0h-1.0zM647.3 377.4h1.0v1.0h-1.0zM628.7 388.4h1.0v1.0h-1.0zM638.9 353.4h1.0v1.0h-1.0zM639.1 380.2h1.0v1.0h-1.0zM626.7 286.1h1.0v1.0h-1.0zM651.7 368.4h1.0v1.0h-1.0zM652.9 278.4h1.0v1.0h-1.0zM623.6 325.1h1.0v1.0h-1.0zM630.7 253.3h1.0v1.0h-1.0zM650.1 375.1h1.0v1.0h-1.0zM635.4 298.7h1.0v1.0h-1.0zM643.6 301.4h1.0v1.0h-1.0zM637.3 292.3h1.0v1.0h-1.0zM646.4 442.2h1.0v1.0h-1.0zM640.6 287.3h1.0v1.0h-1.0zM653.2 328.0h1.0v1.0h-1.0zM653.0 277.9h1.0v1.0h-1.0zM651.4 261.5h1.0v1.0h-1.0zM655.3 276.8h1.0v1.0h-1.0zM619.1 256.3h1.0v1.0h-1.0zM617.4 301.5h1.0v1.0h-1.0zM651.2 295.9h1.0v1.0h-1.0zM626.1 256.7h1.0v1.0h-1.0zM643.5 366.9h1.0v1.0h-1.0zM636.2 284.9h1.0v1.0h-1.0zM655.4 324.0h1.0v1.0h-1.0zM623.0 305.5h1.0v1.0h-1.0zM629.9 366.8h1.0v1.0h-1.0zM651.5 382.3h1.0v1.0h-1.0zM645.2 245.8h1.0v1.0h-1.0zM629.2 274.7h1.0v1.0h-1.0zM641.2 307.2h1.0v1.0h-1.0zM651.2 376.9h1.0v1.0h-1.0zM627.5 363.5h1.0v1.0h-1.0zM616.7 264.0h1.0v1.0h-1.0zM645.2 331.4h1.0v1.0h-1.0zM631.9 256.8h1.0v1.0h-1.0zM621.2 342.3h1.0v1.0h-1.0zM626.8 275.1h1.0v1.0h-1.0zM652.6 331.7h1.0v1.0h-1.0zM642.4 330.9h1.0v1.0h-1.0zM644.2 389.2h1.0v1.0h-1.0zM620.9 261.3h1.0v1.0h-1.0zM641.0 358.3h1.0v1.0h-1.0zM625.8 327.9h1.0v1.0h-1.0zM647.6 297.5h1.0v1.0h-1.0zM652.3 269.8h1.0v1.0h-1.0zM646.0 262.5h1.0v1.0h-1.0zM643.2 277.5h1.0v1.0h-1.0zM624.8 351.6h1.0v1.0h-1.0zM648.3 364.6h1.0v1.0h-1.0zM629.3 425.4h1.0v1.0h-1.0zM645.8 343.4h1.0v1.0h-1.0zM645.0 355.8h1.0v1.0h-1.0zM645.6 406.5h1.0v1.0h-1.0zM626.4 390.0h1.0v1.0h-1.0zM644.8 321.3h1.0v1.0h-1.0zM637.0 250.1h1.0v1.0h-1.0zM643.3 373.3h1.0v1.0h-1.0zM651.8 325.1h1.0v1.0h-1.0zM644.0 449.2h1.0v1.0h-1.0zM629.2 386.3h1.0v1.0h-1.0zM636.4 314.9h1.0v1.0h-1.0zM636.7 336.8h1.0v1.0h-1.0zM619.3 260.9h1.0v1.0h-1.0zM643.7 254.6h1.0v1.0h-1.0zM621.5 358.1h1.0v1.0h-1.0zM625.5 289.7h1.0v1.0h-1.0zM652.4 247.5h1.0v1.0h-1.0zM621.3 265.2h1.0v1.0h-1.0zM622.6 324.7h1.0v1.0h-1.0zM636.9 373.9h1.0v1.0h-1.0zM618.9 311.0h1.0v1.0h-1.0zM626.1 381.3h1.0v1.0h-1.0zM623.0 367.3h1.0v1.0h-1.0zM622.2 343.4h1.0v1.0h-1.0zM630.0 274.2h1.0v1.0h-1.0zM638.7 251.3h1.0v1.0h-1.0zM650.2 338.4h1.0v1.0h-1.0zM649.4 379.7h1.0v1.0h-1.0zM633.2 353.5h1.0v1.0h-1.0zM644.5 393.2h1.0v1.0h-1.0zM623.7 280.1h1.0v1.0h-1.0zM654.7 411.1h1.0v1.0h-1.0zM636.8 289.3h1.0v1.0h-1.0zM632.3 392.7h1.0v1.0h-1.0zM649.3 341.2h1.0v1.0h-1.0zM642.2 270.6h1.0v1.0h-1.0zM645.9 343.2h1.0v1.0h-1.0zM628.8 276.4h1.0v1.0h-1.0zM631.8 274.0h1.0v1.0h-1.0zM633.9 338.4h1.0v1.0h-1.0zM647.8 367.4h1.0v1.0h-1.0zM644.6 282.8h1.0v1.0h-1.0zM638.9 287.2h1.0v1.0h-1.0zM641.6 269.4h1.0v1.0h-1.0zM654.3 357.4h1.0v1.0h-1.0zM631.2 289.9h1.0v1.0h-1.0zM620.7 332.9h1.0v1.0h-1.0zM621.7 304.6h1.0v1.0h-1.0zM641.7 315.8h1.0v1.0h-1.0zM626.0 292.3h1.0v1.0h-1.0zM644.2 260.5h1.0v1.0h-1.0zM654.5 246.5h1.0v1.0h-1.0zM650.7 403.8h1.0v1.0h-1.0zM651.1 361.4h1.0v1.0h-1.0zM645.1 295.0h1.0v1.0h-1.0zM647.3 271.6h1.0v1.0h-1.0zM645.5 343.8h1.0v1.0h-1.0zM635.3 264.5h1.0v1.0h-1.0zM642.2 256.6h1.0v1.0h-1.0zM629.5 252.2h1.0v1.0h-1.0zM654.1 359.6h1.0v1.0h-1.0zM629.6 253.1h1.0v1.0h-1.0zM629.6 338.1h1.0v1.0h-1.0zM625.6 331.9h1.0v1.0h-1.0zM654.5 392.6h1.0v1.0h-1.0zM624.4 289.3h1.0v1.0h-1.0zM620.4 269.2h1.0v1.0h-1.0zM622.8 280.6h1.0v1.0h-1.0zM657.0 396.6h1.0v1.0h-1.0zM651.8 389.1h1.0v1.0h-1.0zM626.5 322.0h1.0v1.0h-1.0zM625.9 348.0h1.0v1.0h-1.0zM641.9 330.3h1.0v1.0h-1.0zM646.4 446.4h1.0v1.0h-1.0zM654.3 338.0h1.0v1.0h-1.0zM653.8 354.1h1.0v1.0h-1.0zM627.7 251.5h1.0v1.0h-1.0zM628.2 403.2h1.0v1.0h-1.0zM648.9 388.2h1.0v1.0h-1.0zM637.8 253.6h1.0v1.0h-1.0zM634.3 333.6h1.0v1.0h-1.0zM619.1 328.2h1.0v1.0h-1.0zM640.5 361.5h1.0v1.0h-1.0zM629.5 320.9h1.0v1.0h-1.0zM653.9 350.8h1.0v1.0h-1.0zM641.2 295.1h1.0v1.0h-1.0zM629.3 295.8h1.0v1.0h-1.0zM644.0 347.1h1.0v1.0h-1.0zM622.4 276.7h1.0v1.0h-1.0zM651.6 310.1h1.0v1.0h-1.0zM653.8 347.0h1.0v1.0h-1.0zM628.9 422.3h1.0v1.0h-1.0zM652.2 278.3h1.0v1.0h-1.0zM626.6 381.6h1.0v1.0h-1.0zM641.3 247.5h1.0v1.0h-1.0zM639.8 272.9h1.0v1.0h-1.0zM646.4 322.0h1.0v1.0h-1.0zM649.1 317.7h1.0v1.0h-1.0zM650.4 285.9h1.0v1.0h-1.0zM626.5 245.9h1.0v1.0h-1.0zM640.2 249.1h1.0v1.0h-1.0zM647.9 350.9h1.0v1.0h-1.0zM640.6 304.4h1.0v1.0h-1.0zM640.7 276.0h1.0v1.0h-1.0zM620.1 348.3h1.0v1.0h-1.0zM648.3 386.6h1.0v1.0h-1.0zM639.2 247.6h1.0v1.0h-1.0zM633.4 280.4h1.0v1.0h-1.0zM649.3 389.3h1.0v1.0h-1.0zM617.9 288.4h1.0v1.0h-1.0zM624.7 252.5h1.0v1.0h-1.0zM654.0 306.5h1.0v1.0h-1.0zM646.9 300.7h1.0v1.0h-1.0zM627.3 354.3h1.0v1.0h-1.0zM653.7 256.1h1.0v1.0h-1.0zM636.0 335.5h1.0v1.0h-1.0zM655.3 370.3h1.0v1.0h-1.0zM645.0 449.7h1.0v1.0h-1.0zM652.0 281.5h1.0v1.0h-1.0zM631.7 445.5h1.0v1.0h-1.0zM627.2 354.6h1.0v1.0h-1.0zM640.4 448.8h1.0v1.0h-1.0zM622.6 398.8h1.0v1.0h-1.0zM649.0 322.6h1.0v1.0h-1.0zM625.1 366.9h1.0v1.0h-1.0zM643.3 267.0h1.0v1.0h-1.0zM620.4 266.3h1.0v1.0h-1.0zM627.2 255.6h1.0v1.0h-1.0zM633.2 254.4h1.0v1.0h-1.0zM651.4 308.3h1.0v1.0h-1.0zM633.7 416.4h1.0v1.0h-1.0zM653.5 393.1h1.0v1.0h-1.0zM625.9 304.2h1.0v1.0h-1.0zM628.1 345.1h1.0v1.0h-1.0zM642.2 267.1h1.0v1.0h-1.0zM619.8 317.4h1.0v1.0h-1.0zM635.4 382.7h1.0v1.0h-1.0zM651.5 351.6h1.0v1.0h-1.0zM635.6 326.0h1.0v1.0h-1.0zM631.5 332.1h1.0v1.0h-1.0zM643.2 259.8h1.0v1.0h-1.0zM619.0 371.6h1.0v1.0h-1.0zM648.4 323.8h1.0v1.0h-1.0zM648.9 284.1h1.0v1.0h-1.0zM620.7 275.7h1.0v1.0h-1.0zM649.7 380.1h1.0v1.0h-1.0zM632.2 283.9h1.0v1.0h-1.0zM648.1 385.2h1.0v1.0h-1.0zM642.6 359.2h1.0v1.0h-1.0zM628.0 332.6h1.0v1.0h-1.0zM649.1 288.3h1.0v1.0h-1.0zM624.7 396.5h1.0v1.0h-1.0zM626.2 320.5h1.0v1.0h-1.0zM653.9 451.3h1.0v1.0h-1.0zM649.4 259.2h1.0v1.0h-1.0zM623.9 280.5h1.0v1.0h-1.0zM619.3 262.7h1.0v1.0h-1.0zM619.9 432.8h1.0v1.0h-1.0zM619.4 341.8h1.0v1.0h-1.0zM631.7 314.7h1.0v1.0h-1.0zM649.4 334.0h1.0v1.0h-1.0zM647.6 438.1h1.0v1.0h-1.0zM641.6 275.1h1.0v1.0h-1.0zM624.7 352.6h1.0v1.0h-1.0zM649.8 329.4h1.0v1.0h-1.0zM655.3 337.7h1.0v1.0h-1.0zM637.0 329.5h1.0v1.0h-1.0zM618.4 280.4h1.0v1.0h-1.0zM649.7 279.3h1.0v1.0h-1.0zM621.2 274.1h1.0v1.0h-1.0zM621.3 355.9h1.0v1.0h-1.0zM627.8 316.7h1.0v1.0h-1.0zM636.7 245.9h1.0v1.0h-1.0zM626.3 334.1h1.0v1.0h-1.0zM630.5 273.5h1.0v1.0h-1.0zM634.0 343.0h1.0v1.0h-1.0zM618.7 270.6h1.0v1.0h-1.0zM625.3 262.7h1.0v1.0h-1.0zM654.7 295.8h1.0v1.0h-1.0zM654.4 336.8h1.0v1.0h-1.0zM648.1 276.0h1.0v1.0h-1.0zM650.9 305.8h1.0v1.0h-1.0zM645.5 253.7h1.0v1.0h-1.0zM622.1 363.7h1.0v1.0h-1.0zM622.0 394.3h1.0v1.0h-1.0zM619.5 381.2h1.0v1.0h-1.0zM653.5 346.9h1.0v1.0h-1.0zM628.9 322.4h1.0v1.0h-1.0zM644.0 386.9h1.0v1.0h-1.0zM631.5 249.9h1.0v1.0h-1.0zM621.6 372.6h1.0v1.0h-1.0zM647.8 245.6h1.0v1.0h-1.0zM627.6 314.9h1.0v1.0h-1.0zM650.2 249.5h1.0v1.0h-1.0zM638.8 321.4h1.0v1.0h-1.0zM648.9 343.8h1.0v1.0h-1.0zM652.4 333.5h1.0v1.0h-1.0zM653.4 297.8h1.0v1.0h-1.0zM644.7 315.6h1.0v1.0h-1.0zM621.7 343.7h1.0v1.0h-1.0zM651.8 372.3h1.0v1.0h-1.0zM648.9 426.9h1.0v1.0h-1.0zM625.4 317.7h1.0v1.0h-1.0zM622.3 342.1h1.0v1.0h-1.0zM623.5 372.5h1.0v1.0h-1.0zM655.7 332.5h1.0v1.0h-1.0zM629.4 254.7h1.0v1.0h-1.0zM653.3 442.4h1.0v1.0h-1.0zM651.7 361.5h1.0v1.0h-1.0zM654.9 386.3h1.0v1.0h-1.0zM652.8 253.4h1.0v1.0h-1.0zM621.9 346.7h1.0v1.0h-1.0zM624.0 340.1h1.0v1.0h-1.0zM623.8 362.0h1.0v1.0h-1.0zM649.3 391.5h1.0v1.0h-1.0zM624.5 264.7h1.0v1.0h-1.0zM617.7 281.4h1.0v1.0h-1.0zM644.5 251.1h1.0v1.0h-1.0zM626.4 379.9h1.0v1.0h-1.0zM654.0 276.4h1.0v1.0h-1.0zM622.3 276.3h1.0v1.0h-1.0zM649.2 296.8h1.0v1.0h-1.0zM621.5 385.1h1.0v1.0h-1.0zM627.0 375.5h1.0v1.0h-1.0zM641.9 281.0h1.0v1.0h-1.0zM642.2 301.1h1.0v1.0h-1.0zM620.7 282.1h1.0v1.0h-1.0zM634.4 352.8h1.0v1.0h-1.0zM650.0 250.9h1.0v1.0h-1.0zM643.0 336.5h1.0v1.0h-1.0zM624.1 341.7h1.0v1.0h-1.0zM638.7 370.4h1.0v1.0h-1.0zM620.4 338.5h1.0v1.0h-1.0zM640.6 312.4h1.0v1.0h-1.0zM648.3 353.6h1.0v1.0h-1.0zM651.5 373.2h1.0v1.0h-1.0zM642.9 285.6h1.0v1.0h-1.0zM624.0 250.9h1.0v1.0h-1.0zM655.5 397.8h1.0v1.0h-1.0zM654.7 290.4h1.0v1.0h-1.0zM639.6 260.5h1.0v1.0h-1.0zM625.3 263.9h1.0v1.0h-1.0zM626.8 405.0h1.0v1.0h-1.0zM628.7 263.2h1.0v1.0h-1.0zM630.0 447.6h1.0v1.0h-1.0zM651.8 315.0h1.0v1.0h-1.0zM643.9 271.8h1.0v1.0h-1.0zM651.1 450.4h1.0v1.0h-1.0zM652.4 350.6h1.0v1.0h-1.0zM623.0 384.5h1.0v1.0h-1.0zM635.1 443.7h1.0v1.0h-1.0zM654.5 367.7h1.0v1.0h-1.0zM642.3 361.0h1.0v1.0h-1.0zM639.8 289.8h1.0v1.0h-1.0zM649.2 334.1h1.0v1.0h-1.0zM621.7 281.1h1.0v1.0h-1.0zM618.8 318.2h1.0v1.0h-1.0zM626.4 399.0h1.0v1.0h-1.0zM650.3 358.9h1.0v1.0h-1.0zM648.0 295.6h1.0v1.0h-1.0zM652.2 246.0h1.0v1.0h-1.0zM624.3 267.0h1.0v1.0h-1.0zM623.3 330.8h1.0v1.0h-1.0zM625.6 385.3h1.0v1.0h-1.0zM653.0 332.6h1.0v1.0h-1.0zM654.8 322.0h1.0v1.0h-1.0zM641.6 273.7h1.0v1.0h-1.0zM619.2 277.5h1.0v1.0h-1.0zM653.7 372.7h1.0v1.0h-1.0zM645.9 254.5h1.0v1.0h-1.0zM621.8 420.3h1.0v1.0h-1.0zM645.5 363.5h1.0v1.0h-1.0zM652.7 321.1h1.0v1.0h-1.0zM645.0 392.4h1.0v1.0h-1.0zM646.6 290.4h1.0v1.0h-1.0zM624.4 343.7h1.0v1.0h-1.0zM635.5 282.1h1.0v1.0h-1.0zM651.6 294.0h1.0v1.0h-1.0zM618.9 314.2h1.0v1.0h-1.0zM643.5 365.6h1.0v1.0h-1.0zM617.8 336.4h1.0v1.0h-1.0zM619.7 353.3h1.0v1.0h-1.0zM632.4 328.9h1.0v1.0h-1.0zM645.9 323.1h1.0v1.0h-1.0zM624.4 307.8h1.0v1.0h-1.0zM651.9 271.7h1.0v1.0h-1.0zM654.3 356.7h1.0v1.0h-1.0zM653.5 425.1h1.0v1.0h-1.0zM624.6 310.5h1.0v1.0h-1.0zM634.2 343.8h1.0v1.0h-1.0zM622.7 307.1h1.0v1.0h-1.0zM628.2 298.4h1.0v1.0h-1.0zM620.0 266.8h1.0v1.0h-1.0zM638.2 357.8h1.0v1.0h-1.0zM644.8 322.4h1.0v1.0h-1.0zM654.8 356.8h1.0v1.0h-1.0zM652.2 269.7h1.0v1.0h-1.0zM641.3 359.3h1.0v1.0h-1.0zM621.3 245.4h1.0v1.0h-1.0zM619.5 265.6h1.0v1.0h-1.0zM628.9 379.5h1.0v1.0h-1.0zM621.8 355.6h1.0v1.0h-1.0zM642.4 317.4h1.0v1.0h-1.0zM652.2 260.7h1.0v1.0h-1.0zM640.7 302.4h1.0v1.0h-1.0zM637.7 345.1h1.0v1.0h-1.0zM644.9 329.1h1.0v1.0h-1.0zM650.8 375.2h1.0v1.0h-1.0zM656.1 328.3h1.0v1.0h-1.0zM649.9 319.8h1.0v1.0h-1.0zM639.1 380.4h1.0v1.0h-1.0zM651.9 427.3h1.0v1.0h-1.0zM621.5 314.3h1.0v1.0h-1.0zM650.7 281.2h1.0v1.0h-1.0zM646.4 313.6h1.0v1.0h-1.0zM642.9 361.8h1.0v1.0h-1.0zM638.6 273.5h1.0v1.0h-1.0zM654.3 249.2h1.0v1.0h-1.0zM640.2 377.3h1.0v1.0h-1.0zM623.8 307.3h1.0v1.0h-1.0zM649.2 358.9h1.0v1.0h-1.0zM631.2 291.8h1.0v1.0h-1.0zM647.6 423.5h1.0v1.0h-1.0zM646.3 302.2h1.0v1.0h-1.0zM654.8 355.7h1.0v1.0h-1.0zM644.3 297.5h1.0v1.0h-1.0zM622.8 379.1h1.0v1.0h-1.0zM642.2 282.6h1.0v1.0h-1.0zM649.3 356.3h1.0v1.0h-1.0zM649.0 373.5h1.0v1.0h-1.0zM622.8 367.1h1.0v1.0h-1.0zM620.7 268.6h1.0v1.0h-1.0zM628.0 393.4h1.0v1.0h-1.0zM625.7 335.4h1.0v1.0h-1.0zM620.4 329.6h1.0v1.0h-1.0zM653.6 246.1h1.0v1.0h-1.0zM629.5 308.0h1.0v1.0h-1.0zM640.5 245.9h1.0v1.0h-1.0zM644.4 315.2h1.0v1.0h-1.0zM644.1 367.5h1.0v1.0h-1.0zM649.1 356.4h1.0v1.0h-1.0zM645.8 318.8h1.0v1.0h-1.0zM651.5 394.7h1.0v1.0h-1.0zM626.5 276.4h1.0v1.0h-1.0zM648.9 280.0h1.0v1.0h-1.0zM636.8 258.1h1.0v1.0h-1.0zM620.0 372.8h1.0v1.0h-1.0zM619.4 384.0h1.0v1.0h-1.0zM641.2 283.4h1.0v1.0h-1.0zM622.3 264.8h1.0v1.0h-1.0zM624.9 316.6h1.0v1.0h-1.0zM643.8 313.2h1.0v1.0h-1.0zM617.3 249.8h1.0v1.0h-1.0zM653.0 359.4h1.0v1.0h-1.0zM626.4 375.8h1.0v1.0h-1.0zM648.9 316.0h1.0v1.0h-1.0zM645.9 247.4h1.0v1.0h-1.0zM653.5 308.3h1.0v1.0h-1.0zM652.1 287.6h1.0v1.0h-1.0zM629.5 448.7h1.0v1.0h-1.0zM628.4 249.9h1.0v1.0h-1.0zM650.2 254.1h1.0v1.0h-1.0zM646.3 248.1h1.0v1.0h-1.0zM644.2 262.7h1.0v1.0h-1.0zM648.4 284.0h1.0v1.0h-1.0zM620.1 353.9h1.0v1.0h-1.0zM634.6 261.2h1.0v1.0h-1.0zM628.3 315.7h1.0v1.0h-1.0zM654.6 302.1h1.0v1.0h-1.0zM625.6 262.0h1.0v1.0h-1.0zM648.9 277.6h1.0v1.0h-1.0zM655.8 319.4h1.0v1.0h-1.0zM652.9 267.0h1.0v1.0h-1.0zM651.0 350.8h1.0v1.0h-1.0zM623.3 296.2h1.0v1.0h-1.0zM629.5 344.9h1.0v1.0h-1.0zM654.6 339.3h1.0v1.0h-1.0zM632.9 310.4h1.0v1.0h-1.0zM624.9 311.3h1.0v1.0h-1.0zM625.2 254.0h1.0v1.0h-1.0zM654.9 297.5h1.0v1.0h-1.0zM637.5 358.3h1.0v1.0h-1.0zM626.7 259.1h1.0v1.0h-1.0zM625.0 295.2h1.0v1.0h-1.0zM628.4 372.4h1.0v1.0h-1.0zM622.3 295.2h1.0v1.0h-1.0zM632.6 395.3h1.0v1.0h-1.0zM652.1 256.0h1.0v1.0h-1.0zM654.5 247.6h1.0v1.0h-1.0zM641.8 332.5h1.0v1.0h-1.0zM642.5 447.0h1.0v1.0h-1.0zM633.4 252.2h1.0v1.0h-1.0zM642.0 258.8h1.0v1.0h-1.0zM629.8 319.4h1.0v1.0h-1.0zM649.2 318.0h1.0v1.0h-1.0zM629.5 359.5h1.0v1.0h-1.0zM641.2 366.7h1.0v1.0h-1.0zM651.8 307.0h1.0v1.0h-1.0zM619.0 321.5h1.0v1.0h-1.0zM619.0 262.2h1.0v1.0h-1.0zM617.7 307.6h1.0v1.0h-1.0zM642.4 366.8h1.0v1.0h-1.0zM633.8 415.0h1.0v1.0h-1.0zM654.9 424.2h1.0v1.0h-1.0zM650.6 373.7h1.0v1.0h-1.0zM652.1 326.3h1.0v1.0h-1.0zM621.4 442.6h1.0v1.0h-1.0zM622.2 365.1h1.0v1.0h-1.0zM620.7 348.3h1.0v1.0h-1.0zM646.6 297.8h1.0v1.0h-1.0zM631.4 350.8h1.0v1.0h-1.0zM644.6 401.9h1.0v1.0h-1.0zM621.3 337.1h1.0v1.0h-1.0zM627.8 323.0h1.0v1.0h-1.0zM648.7 301.7h1.0v1.0h-1.0zM636.1 245.9h1.0v1.0h-1.0zM630.5 339.0h1.0v1.0h-1.0zM640.7 263.9h1.0v1.0h-1.0zM628.4 326.2h1.0v1.0h-1.0zM645.7 415.5h1.0v1.0h-1.0zM650.6 299.8h1.0v1.0h-1.0zM653.2 374.4h1.0v1.0h-1.0zM651.7 380.9h1.0v1.0h-1.0zM620.8 426.9h1.0v1.0h-1.0zM639.8 446.2h1.0v1.0h-1.0zM633.3 353.4h1.0v1.0h-1.0zM624.2 305.6h1.0v1.0h-1.0zM632.0 405.9h1.0v1.0h-1.0zM638.1 245.3h1.0v1.0h-1.0zM650.2 351.4h1.0v1.0h-1.0zM642.3 253.1h1.0v1.0h-1.0zM635.9 247.0h1.0v1.0h-1.0zM633.3 316.0h1.0v1.0h-1.0zM651.4 330.9h1.0v1.0h-1.0zM641.1 321.7h1.0v1.0h-1.0zM651.8 432.8h1.0v1.0h-1.0zM631.2 410.9h1.0v1.0h-1.0zM630.9 269.4h1.0v1.0h-1.0zM620.0 396.4h1.0v1.0h-1.0zM620.5 360.7h1.0v1.0h-1.0zM630.6 386.3h1.0v1.0h-1.0zM646.2 281.1h1.0v1.0h-1.0zM619.5 345.6h1.0v1.0h-1.0zM643.0 251.4h1.0v1.0h-1.0zM655.9 348.6h1.0v1.0h-1.0zM627.7 295.0h1.0v1.0h-1.0zM648.5 287.8h1.0v1.0h-1.0zM637.0 368.4h1.0v1.0h-1.0zM648.7 266.1h1.0v1.0h-1.0zM646.9 388.4h1.0v1.0h-1.0zM644.1 272.7h1.0v1.0h-1.0zM647.7 423.2h1.0v1.0h-1.0zM630.7 384.2h1.0v1.0h-1.0zM652.4 336.8h1.0v1.0h-1.0zM619.7 258.9h1.0v1.0h-1.0zM642.9 265.6h1.0v1.0h-1.0zM643.7 406.4h1.0v1.0h-1.0zM640.2 370.4h1.0v1.0h-1.0zM650.7 396.0h1.0v1.0h-1.0zM617.7 265.3h1.0v1.0h-1.0zM651.7 277.4h1.0v1.0h-1.0zM640.7 296.2h1.0v1.0h-1.0zM621.1 258.8h1.0v1.0h-1.0zM645.7 272.1h1.0v1.0h-1.0zM624.3 305.2h1.0v1.0h-1.0zM631.9 393.2h1.0v1.0h-1.0zM641.7 258.0h1.0v1.0h-1.0zM629.7 362.3h1.0v1.0h-1.0zM652.7 257.2h1.0v1.0h-1.0zM630.9 249.0h1.0v1.0h-1.0zM654.9 341.7h1.0v1.0h-1.0zM636.5 253.0h1.0v1.0h-1.0zM650.5 362.2h1.0v1.0h-1.0zM623.8 311.3h1.0v1.0h-1.0zM650.5 282.1h1.0v1.0h-1.0zM643.4 245.8h1.0v1.0h-1.0zM618.9 344.4h1.0v1.0h-1.0zM649.7 289.5h1.0v1.0h-1.0zM651.5 277.8h1.0v1.0h-1.0zM627.9 258.8h1.0v1.0h-1.0zM653.0 247.2h1.0v1.0h-1.0zM649.6 336.7h1.0v1.0h-1.0zM655.9 416.9h1.0v1.0h-1.0zM646.6 445.7h1.0v1.0h-1.0zM639.1 277.5h1.0v1.0h-1.0zM645.3 334.1h1.0v1.0h-1.0zM626.9 321.1h1.0v1.0h-1.0zM629.0 396.0h1.0v1.0h-1.0zM636.7 251.0h1.0v1.0h-1.0zM620.2 252.0h1.0v1.0h-1.0zM646.5 285.1h1.0v1.0h-1.0zM625.9 406.9h1.0v1.0h-1.0zM622.4 335.5h1.0v1.0h-1.0zM633.7 299.9h1.0v1.0h-1.0zM618.8 282.4h1.0v1.0h-1.0zM621.0 396.1h1.0v1.0h-1.0zM625.7 368.2h1.0v1.0h-1.0zM627.9 359.5h1.0v1.0h-1.0zM642.2 270.0h1.0v1.0h-1.0zM620.1 352.3h1.0v1.0h-1.0zM646.0 358.1h1.0v1.0h-1.0zM622.5 301.7h1.0v1.0h-1.0zM627.4 381.2h1.0v1.0h-1.0zM622.2 424.3h1.0v1.0h-1.0zM646.2 312.8h1.0v1.0h-1.0zM655.1 431.1h1.0v1.0h-1.0zM645.8 264.8h1.0v1.0h-1.0zM654.0 388.2h1.0v1.0h-1.0zM632.2 372.3h1.0v1.0h-1.0zM648.6 330.4h1.0v1.0h-1.0zM627.1 447.0h1.0v1.0h-1.0zM628.4 259.0h1.0v1.0h-1.0zM629.2 359.8h1.0v1.0h-1.0zM636.5 267.6h1.0v1.0h-1.0zM650.8 340.4h1.0v1.0h-1.0zM627.1 318.8h1.0v1.0h-1.0zM648.0 411.0h1.0v1.0h-1.0zM630.8 387.4h1.0v1.0h-1.0zM643.6 331.1h1.0v1.0h-1.0zM648.5 397.7h1.0v1.0h-1.0zM628.2 376.1h1.0v1.0h-1.0zM655.9 331.6h1.0v1.0h-1.0zM655.9 368.1h1.0v1.0h-1.0zM629.3 368.5h1.0v1.0h-1.0zM649.2 342.9h1.0v1.0h-1.0zM639.9 258.6h1.0v1.0h-1.0zM650.7 249.9h1.0v1.0h-1.0zM626.9 414.3h1.0v1.0h-1.0zM621.0 317.1h1.0v1.0h-1.0zM645.5 351.6h1.0v1.0h-1.0zM649.7 364.8h1.0v1.0h-1.0zM648.4 323.4h1.0v1.0h-1.0zM636.1 247.0h1.0v1.0h-1.0zM634.8 330.0h1.0v1.0h-1.0zM646.4 311.4h1.0v1.0h-1.0zM654.2 350.0h1.0v1.0h-1.0zM649.9 355.0h1.0v1.0h-1.0zM648.1 315.1h1.0v1.0h-1.0zM651.5 319.2h1.0v1.0h-1.0zM621.5 395.3h1.0v1.0h-1.0zM654.2 417.2h1.0v1.0h-1.0zM627.7 348.3h1.0v1.0h-1.0zM629.1 381.6h1.0v1.0h-1.0zM654.0 246.8h1.0v1.0h-1.0zM653.3 297.1h1.0v1.0h-1.0zM623.0 407.5h1.0v1.0h-1.0zM631.0 397.9h1.0v1.0h-1.0zM636.7 295.2h1.0v1.0h-1.0zM635.6 303.7h1.0v1.0h-1.0zM648.5 283.1h1.0v1.0h-1.0zM625.2 347.2h1.0v1.0h-1.0zM624.9 251.6h1.0v1.0h-1.0zM653.2 273.4h1.0v1.0h-1.0zM647.6 360.1h1.0v1.0h-1.0zM618.4 345.3h1.0v1.0h-1.0zM628.2 289.7h1.0v1.0h-1.0zM645.1 250.9h1.0v1.0h-1.0zM635.0 274.3h1.0v1.0h-1.0zM621.1 255.7h1.0v1.0h-1.0zM643.8 259.5h1.0v1.0h-1.0zM620.7 288.8h1.0v1.0h-1.0zM623.9 260.4h1.0v1.0h-1.0zM630.6 322.5h1.0v1.0h-1.0zM629.9 355.6h1.0v1.0h-1.0zM654.7 270.7h1.0v1.0h-1.0zM621.9 281.5h1.0v1.0h-1.0zM625.7 323.8h1.0v1.0h-1.0zM640.1 260.0h1.0v1.0h-1.0zM637.9 319.3h1.0v1.0h-1.0zM618.4 266.1h1.0v1.0h-1.0zM631.1 416.8h1.0v1.0h-1.0zM630.9 256.2h1.0v1.0h-1.0zM639.3 264.7h1.0v1.0h-1.0zM640.3 259.2h1.0v1.0h-1.0zM626.1 399.0h1.0v1.0h-1.0zM639.9 329.9h1.0v1.0h-1.0zM627.5 367.1h1.0v1.0h-1.0zM642.7 284.9h1.0v1.0h-1.0zM640.6 274.9h1.0v1.0h-1.0zM641.7 282.7h1.0v1.0h-1.0zM654.8 383.8h1.0v1.0h-1.0zM635.4 263.9h1.0v1.0h-1.0zM620.6 317.7h1.0v1.0h-1.0zM625.8 356.9h1.0v1.0h-1.0zM652.5 285.5h1.0v1.0h-1.0zM624.8 317.0h1.0v1.0h-1.0zM617.6 292.8h1.0v1.0h-1.0zM629.9 288.2h1.0v1.0h-1.0zM634.0 367.5h1.0v1.0h-1.0zM627.2 265.6h1.0v1.0h-1.0zM641.1 339.4h1.0v1.0h-1.0zM654.5 333.7h1.0v1.0h-1.0zM631.5 379.0h1.0v1.0h-1.0zM645.4 295.7h1.0v1.0h-1.0zM629.9 310.7h1.0v1.0h-1.0zM656.5 359.3h1.0v1.0h-1.0zM655.4 392.2h1.0v1.0h-1.0zM619.2 252.4h1.0v1.0h-1.0zM647.2 305.7h1.0v1.0h-1.0zM642.3 396.1h1.0v1.0h-1.0zM634.8 337.5h1.0v1.0h-1.0zM644.3 320.1h1.0v1.0h-1.0zM649.7 310.4h1.0v1.0h-1.0zM625.6 366.3h1.0v1.0h-1.0zM622.1 367.5h1.0v1.0h-1.0zM623.5 280.3h1.0v1.0h-1.0zM653.5 314.1h1.0v1.0h-1.0zM621.9 327.8h1.0v1.0h-1.0zM625.0 371.7h1.0v1.0h-1.0zM622.5 277.0h1.0v1.0h-1.0zM651.8 427.3h1.0v1.0h-1.0zM639.5 259.1h1.0v1.0h-1.0zM630.0 360.8h1.0v1.0h-1.0zM621.5 331.0h1.0v1.0h-1.0zM648.4 247.4h1.0v1.0h-1.0zM621.0 260.8h1.0v1.0h-1.0zM621.6 339.0h1.0v1.0h-1.0zM647.5 285.4h1.0v1.0h-1.0zM620.2 442.7h1.0v1.0h-1.0zM652.5 380.7h1.0v1.0h-1.0zM649.1 248.2h1.0v1.0h-1.0zM641.6 289.7h1.0v1.0h-1.0zM649.1 261.7h1.0v1.0h-1.0zM631.6 321.0h1.0v1.0h-1.0zM650.0 387.5h1.0v1.0h-1.0zM646.3 312.5h1.0v1.0h-1.0zM653.4 259.6h1.0v1.0h-1.0zM646.5 427.0h1.0v1.0h-1.0zM650.8 341.0h1.0v1.0h-1.0zM643.1 348.2h1.0v1.0h-1.0zM651.2 270.5h1.0v1.0h-1.0zM636.6 364.1h1.0v1.0h-1.0zM647.4 251.6h1.0v1.0h-1.0zM631.4 295.9h1.0v1.0h-1.0zM635.0 436.0h1.0v1.0h-1.0zM649.4 247.4h1.0v1.0h-1.0zM646.7 267.6h1.0v1.0h-1.0zM643.6 345.7h1.0v1.0h-1.0zM649.6 245.8h1.0v1.0h-1.0zM651.1 400.6h1.0v1.0h-1.0zM642.6 304.9h1.0v1.0h-1.0zM655.1 439.5h1.0v1.0h-1.0zM645.6 315.0h1.0v1.0h-1.0zM655.5 366.5h1.0v1.0h-1.0zM636.9 383.6h1.0v1.0h-1.0zM646.8 376.5h1.0v1.0h-1.0zM619.9 281.9h1.0v1.0h-1.0zM655.6 286.7h1.0v1.0h-1.0zM620.6 420.0h1.0v1.0h-1.0zM621.1 246.4h1.0v1.0h-1.0zM639.2 267.1h1.0v1.0h-1.0zM652.5 251.0h1.0v1.0h-1.0zM635.2 332.4h1.0v1.0h-1.0zM652.3 282.2h1.0v1.0h-1.0zM624.9 399.1h1.0v1.0h-1.0zM654.9 307.6h1.0v1.0h-1.0zM623.0 247.1h1.0v1.0h-1.0zM616.5 251.2h1.0v1.0h-1.0zM619.2 350.9h1.0v1.0h-1.0zM619.2 276.2h1.0v1.0h-1.0zM643.2 366.1h1.0v1.0h-1.0zM624.3 350.6h1.0v1.0h-1.0zM643.3 292.0h1.0v1.0h-1.0zM635.3 363.4h1.0v1.0h-1.0zM634.1 451.3h1.0v1.0h-1.0zM623.4 349.4h1.0v1.0h-1.0zM625.4 277.1h1.0v1.0h-1.0zM639.4 280.9h1.0v1.0h-1.0zM648.1 385.2h1.0v1.0h-1.0zM620.7 265.0h1.0v1.0h-1.0zM630.0 311.3h1.0v1.0h-1.0zM622.2 351.0h1.0v1.0h-1.0zM631.0 366.3h1.0v1.0h-1.0zM644.2 380.5h1.0v1.0h-1.0zM626.4 303.1h1.0v1.0h-1.0zM628.3 403.6h1.0v1.0h-1.0zM644.3 393.3h1.0v1.0h-1.0zM654.1 349.6h1.0v1.0h-1.0zM623.4 398.3h1.0v1.0h-1.0zM644.3 352.7h1.0v1.0h-1.0zM640.4 257.5h1.0v1.0h-1.0zM651.3 315.3h1.0v1.0h-1.0zM620.6 274.6h1.0v1.0h-1.0zM618.1 320.8h1.0v1.0h-1.0zM627.7 299.7h1.0v1.0h-1.0zM631.8 246.3h1.0v1.0h-1.0zM621.4 432.8h1.0v1.0h-1.0zM627.5 272.7h1.0v1.0h-1.0zM639.9 256.8h1.0v1.0h-1.0zM630.0 250.5h1.0v1.0h-1.0zM632.3 276.3h1.0v1.0h-1.0zM629.6 280.6h1.0v1.0h-1.0zM650.4 329.9h1.0v1.0h-1.0zM630.1 349.4h1.0v1.0h-1.0zM621.6 277.6h1.0v1.0h-1.0zM622.1 390.4h1.0v1.0h-1.0zM618.1 264.7h1.0v1.0h-1.0zM630.9 441.5h1.0v1.0h-1.0zM646.9 283.8h1.0v1.0h-1.0zM648.9 286.2h1.0v1.0h-1.0zM627.3 443.9h1.0v1.0h-1.0zM630.2 357.2h1.0v1.0h-1.0zM642.4 393.1h1.0v1.0h-1.0zM653.4 307.4h1.0v1.0h-1.0zM618.6 378.4h1.0v1.0h-1.0zM653.1 290.4h1.0v1.0h-1.0zM623.0 458.8h1.0v1.0h-1.0zM652.5 355.1h1.0v1.0h-1.0zM643.4 285.4h1.0v1.0h-1.0zM622.3 397.0h1.0v1.0h-1.0zM630.6 450.6h1.0v1.0h-1.0zM618.5 321.7h1.0v1.0h-1.0zM627.7 331.9h1.0v1.0h-1.0zM623.6 267.3h1.0v1.0h-1.0zM653.9 387.0h1.0v1.0h-1.0zM638.0 249.6h1.0v1.0h-1.0zM630.1 276.6h1.0v1.0h-1.0zM620.3 368.4h1.0v1.0h-1.0zM618.0 257.3h1.0v1.0h-1.0zM623.4 316.6h1.0v1.0h-1.0zM629.9 252.9h1.0v1.0h-1.0zM633.0 338.5h1.0v1.0h-1.0zM646.5 301.9h1.0v1.0h-1.0zM646.0 380.6h1.0v1.0h-1.0zM625.7 247.5h1.0v1.0h-1.0zM646.3 405.6h1.0v1.0h-1.0zM656.2 345.7h1.0v1.0h-1.0zM630.1 357.0h1.0v1.0h-1.0zM642.9 299.7h1.0v1.0h-1.0zM654.5 267.2h1.0v1.0h-1.0zM653.6 259.6h1.0v1.0h-1.0zM645.8 359.0h1.0v1.0h-1.0zM617.3 274.1h1.0v1.0h-1.0zM620.6 338.8h1.0v1.0h-1.0zM648.2 388.2h1.0v1.0h-1.0zM633.8 255.1h1.0v1.0h-1.0zM638.4 298.2h1.0v1.0h-1.0zM633.0 288.5h1.0v1.0h-1.0zM649.7 310.5h1.0v1.0h-1.0zM622.2 344.2h1.0v1.0h-1.0zM624.9 293.8h1.0v1.0h-1.0zM650.2 299.1h1.0v1.0h-1.0zM626.7 285.6h1.0v1.0h-1.0zM650.9 296.3h1.0v1.0h-1.0zM640.3 254.1h1.0v1.0h-1.0zM642.4 271.7h1.0v1.0h-1.0zM645.1 286.1h1.0v1.0h-1.0zM621.6 457.1h1.0v1.0h-1.0zM652.2 269.1h1.0v1.0h-1.0zM623.8 258.0h1.0v1.0h-1.0zM652.4 292.2h1.0v1.0h-1.0zM626.9 283.8h1.0v1.0h-1.0zM625.1 338.9h1.0v1.0h-1.0zM633.8 299.9h1.0v1.0h-1.0zM627.9 428.4h1.0v1.0h-1.0zM650.2 356.5h1.0v1.0h-1.0zM623.4 386.8h1.0v1.0h-1.0zM639.8 349.6h1.0v1.0h-1.0zM652.7 376.0h1.0v1.0h-1.0zM639.4 281.1h1.0v1.0h-1.0zM656.0 358.8h1.0v1.0h-1.0zM648.2 315.9h1.0v1.0h-1.0zM639.1 422.2h1.0v1.0h-1.0zM648.6 259.3h1.0v1.0h-1.0zM638.3 420.9h1.0v1.0h-1.0zM645.6 319.6h1.0v1.0h-1.0zM646.1 317.2h1.0v1.0h-1.0zM626.9 341.3h1.0v1.0h-1.0zM636.8 295.8h1.0v1.0h-1.0zM648.2 314.8h1.0v1.0h-1.0zM632.2 332.2h1.0v1.0h-1.0zM637.2 385.1h1.0v1.0h-1.0zM625.9 374.6h1.0v1.0h-1.0zM631.8 318.2h1.0v1.0h-1.0zM646.1 394.4h1.0v1.0h-1.0zM652.2 260.1h1.0v1.0h-1.0zM652.2 454.0h1.0v1.0h-1.0zM643.1 362.6h1.0v1.0h-1.0zM652.1 377.1h1.0v1.0h-1.0zM617.7 306.8h1.0v1.0h-1.0zM644.5 261.5h1.0v1.0h-1.0zM628.4 425.0h1.0v1.0h-1.0zM649.6 363.6h1.0v1.0h-1.0zM620.1 261.7h1.0v1.0h-1.0zM652.3 256.9h1.0v1.0h-1.0zM650.1 302.6h1.0v1.0h-1.0zM621.1 371.4h1.0v1.0h-1.0zM619.4 309.6h1.0v1.0h-1.0zM652.8 452.3h1.0v1.0h-1.0zM621.2 404.3h1.0v1.0h-1.0zM643.6 245.9h1.0v1.0h-1.0zM623.3 335.0h1.0v1.0h-1.0zM647.9 381.9h1.0v1.0h-1.0zM647.9 330.9h1.0v1.0h-1.0zM632.3 374.7h1.0v1.0h-1.0zM623.6 339.0h1.0v1.0h-1.0zM655.2 423.7h1.0v1.0h-1.0zM647.7 346.9h1.0v1.0h-1.0zM618.7 365.3h1.0v1.0h-1.0zM652.2 294.1h1.0v1.0h-1.0zM651.4 341.3h1.0v1.0h-1.0zM640.2 344.3h1.0v1.0h-1.0zM653.5 308.1h1.0v1.0h-1.0zM637.9 432.9h1.0v1.0h-1.0zM619.7 360.2h1.0v1.0h-1.0zM652.1 254.4h1.0v1.0h-1.0zM643.1 249.4h1.0v1.0h-1.0zM628.1 279.4h1.0v1.0h-1.0zM645.6 246.4h1.0v1.0h-1.0zM640.9 265.3h1.0v1.0h-1.0zM647.5 305.2h1.0v1.0h-1.0zM624.3 271.4h1.0v1.0h-1.0zM624.4 259.1h1.0v1.0h-1.0zM653.4 268.2h1.0v1.0h-1.0zM619.4 426.7h1.0v1.0h-1.0zM640.3 337.1h1.0v1.0h-1.0zM647.3 259.3h1.0v1.0h-1.0zM642.9 261.5h1.0v1.0h-1.0zM640.4 251.8h1.0v1.0h-1.0zM637.2 299.4h1.0v1.0h-1.0zM638.5 362.2h1.0v1.0h-1.0zM648.8 265.3h1.0v1.0h-1.0zM624.5 255.1h1.0v1.0h-1.0zM649.0 354.1h1.0v1.0h-1.0zM639.6 332.7h1.0v1.0h-1.0zM646.6 384.6h1.0v1.0h-1.0zM637.8 270.1h1.0v1.0h-1.0zM618.1 292.7h1.0v1.0h-1.0zM628.7 355.5h1.0v1.0h-1.0zM654.9 353.2h1.0v1.0h-1.0zM652.1 371.6h1.0v1.0h-1.0zM630.0 372.3h1.0v1.0h-1.0zM649.8 340.3h1.0v1.0h-1.0zM624.2 340.5h1.0v1.0h-1.0zM623.5 333.6h1.0v1.0h-1.0zM644.0 378.3h1.0v1.0h-1.0zM650.8 339.5h1.0v1.0h-1.0zM626.9 334.7h1.0v1.0h-1.0zM651.6 268.9h1.0v1.0h-1.0zM653.3 380.6h1.0v1.0h-1.0zM655.2 318.3h1.0v1.0h-1.0zM624.0 378.4h1.0v1.0h-1.0zM620.1 453.8h1.0v1.0h-1.0zM623.3 321.4h1.0v1.0h-1.0zM646.1 298.0h1.0v1.0h-1.0zM654.3 355.6h1.0v1.0h-1.0zM656.2 340.7h1.0v1.0h-1.0zM642.5 247.2h1.0v1.0h-1.0zM639.4 284.2h1.0v1.0h-1.0zM636.3 380.4h1.0v1.0h-1.0zM624.8 383.3h1.0v1.0h-1.0zM630.4 358.1h1.0v1.0h-1.0zM646.5 442.3h1.0v1.0h-1.0zM617.8 303.7h1.0v1.0h-1.0zM652.6 289.2h1.0v1.0h-1.0zM632.7 400.1h1.0v1.0h-1.0zM639.1 340.3h1.0v1.0h-1.0zM654.0 366.5h1.0v1.0h-1.0zM622.3 379.9h1.0v1.0h-1.0zM628.3 302.0h1.0v1.0h-1.0zM649.2 252.5h1.0v1.0h-1.0zM622.2 281.3h1.0v1.0h-1.0zM622.1 328.0h1.0v1.0h-1.0zM644.5 309.3h1.0v1.0h-1.0zM640.6 259.7h1.0v1.0h-1.0zM649.7 399.6h1.0v1.0h-1.0zM653.6 250.4h1.0v1.0h-1.0zM626.3 257.4h1.0v1.0h-1.0zM622.2 309.8h1.0v1.0h-1.0zM625.6 328.3h1.0v1.0h-1.0zM630.5 383.9h1.0v1.0h-1.0zM630.9 393.6h1.0v1.0h-1.0zM627.4 324.2h1.0v1.0h-1.0zM637.6 261.3h1.0v1.0h-1.0zM629.2 246.4h1.0v1.0h-1.0zM648.9 313.2h1.0v1.0h-1.0zM651.0 250.0h1.0v1.0h-1.0zM621.1 396.3h1.0v1.0h-1.0zM647.8 295.0h1.0v1.0h-1.0zM653.6 263.7h1.0v1.0h-1.0zM622.4 346.2h1.0v1.0h-1.0zM629.2 436.0h1.0v1.0h-1.0zM646.1 328.0h1.0v1.0h-1.0zM624.5 285.7h1.0v1.0h-1.0zM641.8 333.7h1.0v1.0h-1.0zM652.4 262.7h1.0v1.0h-1.0zM617.7 292.9h1.0v1.0h-1.0zM655.8 327.9h1.0v1.0h-1.0zM631.0 445.3h1.0v1.0h-1.0zM640.0 329.6h1.0v1.0h-1.0zM643.7 283.5h1.0v1.0h-1.0zM652.7 306.6h1.0v1.0h-1.0zM653.8 443.0h1.0v1.0h-1.0zM653.6 388.1h1.0v1.0h-1.0zM623.2 380.8h1.0v1.0h-1.0zM633.0 337.1h1.0v1.0h-1.0zM643.6 304.9h1.0v1.0h-1.0zM643.5 327.6h1.0v1.0h-1.0zM617.5 282.9h1.0v1.0h-1.0zM643.3 383.2h1.0v1.0h-1.0zM638.4 452.0h1.0v1.0h-1.0zM625.5 254.4h1.0v1.0h-1.0zM632.8 453.4h1.0v1.0h-1.0zM643.3 263.9h1.0v1.0h-1.0zM654.8 275.2h1.0v1.0h-1.0zM643.1 245.3h1.0v1.0h-1.0zM621.8 296.0h1.0v1.0h-1.0zM652.6 413.0h1.0v1.0h-1.0zM618.9 289.1h1.0v1.0h-1.0zM653.8 249.9h1.0v1.0h-1.0zM628.5 371.5h1.0v1.0h-1.0zM627.4 355.9h1.0v1.0h-1.0zM652.4 257.1h1.0v1.0h-1.0zM625.7 246.3h1.0v1.0h-1.0zM655.9 446.6h1.0v1.0h-1.0zM642.3 335.4h1.0v1.0h-1.0zM649.7 321.8h1.0v1.0h-1.0zM644.7 275.8h1.0v1.0h-1.0zM640.5 363.4h1.0v1.0h-1.0zM620.8 298.3h1.0v1.0h-1.0zM630.8 329.6h1.0v1.0h-1.0zM651.9 384.7h1.0v1.0h-1.0zM628.4 380.4h1.0v1.0h-1.0zM634.5 279.2h1.0v1.0h-1.0zM651.7 453.3h1.0v1.0h-1.0zM637.1 447.1h1.0v1.0h-1.0zM646.7 347.2h1.0v1.0h-1.0zM622.7 353.9h1.0v1.0h-1.0zM651.4 320.7h1.0v1.0h-1.0zM651.7 316.1h1.0v1.0h-1.0zM651.0 309.0h1.0v1.0h-1.0zM621.5 315.1h1.0v1.0h-1.0zM654.9 283.2h1.0v1.0h-1.0zM643.3 266.9h1.0v1.0h-1.0zM641.6 296.5h1.0v1.0h-1.0zM642.8 248.3h1.0v1.0h-1.0zM652.5 373.4h1.0v1.0h-1.0zM648.2 331.2h1.0v1.0h-1.0zM649.4 298.8h1.0v1.0h-1.0zM651.6 372.0h1.0v1.0h-1.0zM643.6 321.1h1.0v1.0h-1.0zM624.4 295.9h1.0v1.0h-1.0zM643.8 260.5h1.0v1.0h-1.0zM624.4 369.8h1.0v1.0h-1.0zM627.2 426.6h1.0v1.0h-1.0zM640.4 272.0h1.0v1.0h-1.0zM617.0 251.5h1.0v1.0h-1.0zM621.6 245.8h1.0v1.0h-1.0zM654.7 272.3h1.0v1.0h-1.0zM628.0 368.4h1.0v1.0h-1.0zM630.2 350.8h1.0v1.0h-1.0zM644.6 353.3h1.0v1.0h-1.0zM630.1 251.8h1.0v1.0h-1.0zM648.1 299.0h1.0v1.0h-1.0zM619.4 321.0h1.0v1.0h-1.0zM653.0 339.1h1.0v1.0h-1.0zM643.4 404.4h1.0v1.0h-1.0zM652.4 390.6h1.0v1.0h-1.0zM630.2 356.8h1.0v1.0h-1.0zM624.9 320.1h1.0v1.0h-1.0zM625.7 349.6h1.0v1.0h-1.0zM623.4 407.0h1.0v1.0h-1.0zM620.2 291.4h1.0v1.0h-1.0zM645.6 353.4h1.0v1.0h-1.0zM626.1 245.0h1.0v1.0h-1.0zM656.4 382.9h1.0v1.0h-1.0zM644.9 281.6h1.0v1.0h-1.0zM654.1 245.8h1.0v1.0h-1.0zM653.9 252.0h1.0v1.0h-1.0zM627.3 397.1h1.0v1.0h-1.0zM624.1 327.6h1.0v1.0h-1.0zM641.4 337.0h1.0v1.0h-1.0zM634.3 272.9h1.0v1.0h-1.0zM623.8 249.9h1.0v1.0h-1.0zM621.7 409.2h1.0v1.0h-1.0zM637.9 333.6h1.0v1.0h-1.0zM646.6 271.7h1.0v1.0h-1.0zM645.8 321.9h1.0v1.0h-1.0zM640.3 285.6h1.0v1.0h-1.0zM635.2 326.6h1.0v1.0h-1.0zM622.3 291.6h1.0v1.0h-1.0zM638.5 255.0h1.0v1.0h-1.0zM641.1 250.7h1.0v1.0h-1.0zM653.3 372.4h1.0v1.0h-1.0zM618.6 257.7h1.0v1.0h-1.0zM647.6 262.0h1.0v1.0h-1.0zM647.4 266.4h1.0v1.0h-1.0zM645.1 252.2h1.0v1.0h-1.0zM630.1 247.3h1.0v1.0h-1.0zM643.6 369.9h1.0v1.0h-1.0zM646.0 289.0h1.0v1.0h-1.0zM654.8 307.0h1.0v1.0h-1.0zM626.7 301.2h1.0v1.0h-1.0zM641.5 260.5h1.0v1.0h-1.0zM652.0 397.8h1.0v1.0h-1.0zM647.8 340.9h1.0v1.0h-1.0zM644.6 290.4h1.0v1.0h-1.0zM654.1 246.5h1.0v1.0h-1.0zM624.0 439.2h1.0v1.0h-1.0zM621.9 341.8h1.0v1.0h-1.0zM652.2 276.5h1.0v1.0h-1.0zM617.6 305.3h1.0v1.0h-1.0zM649.7 285.6h1.0v1.0h-1.0zM642.5 354.8h1.0v1.0h-1.0zM648.7 354.2h1.0v1.0h-1.0zM621.0 384.6h1.0v1.0h-1.0zM640.1 262.7h1.0v1.0h-1.0zM653.7 321.2h1.0v1.0h-1.0zM643.2 387.8h1.0v1.0h-1.0zM645.3 338.5h1.0v1.0h-1.0zM655.5 279.3h1.0v1.0h-1.0zM628.4 455.4h1.0v1.0h-1.0zM619.1 323.8h1.0v1.0h-1.0zM644.8 291.7h1.0v1.0h-1.0zM630.2 339.0h1.0v1.0h-1.0zM643.9 312.8h1.0v1.0h-1.0zM652.4 338.8h1.0v1.0h-1.0zM621.0 395.9h1.0v1.0h-1.0zM620.3 269.8h1.0v1.0h-1.0zM644.2 393.2h1.0v1.0h-1.0zM639.7 251.7h1.0v1.0h-1.0zM624.2 310.2h1.0v1.0h-1.0zM654.8 341.7h1.0v1.0h-1.0zM629.7 310.0h1.0v1.0h-1.0zM620.7 427.9h1.0v1.0h-1.0zM651.5 313.7h1.0v1.0h-1.0zM654.7 323.5h1.0v1.0h-1.0zM650.2 407.2h1.0v1.0h-1.0zM627.5 273.4h1.0v1.0h-1.0zM651.6 246.0h1.0v1.0h-1.0zM650.1 313.8h1.0v1.0h-1.0zM642.3 333.2h1.0v1.0h-1.0zM622.2 341.9h1.0v1.0h-1.0zM628.7 250.7h1.0v1.0h-1.0zM623.8 371.2h1.0v1.0h-1.0zM654.9 250.7h1.0v1.0h-1.0zM644.8 383.2h1.0v1.0h-1.0zM627.4 332.4h1.0v1.0h-1.0zM640.3 324.8h1.0v1.0h-1.0zM654.9 395.7h1.0v1.0h-1.0zM618.9 348.0h1.0v1.0h-1.0zM626.9 425.3h1.0v1.0h-1.0zM647.9 278.1h1.0v1.0h-1.0zM654.6 383.6h1.0v1.0h-1.0zM620.4 275.7h1.0v1.0h-1.0zM643.6 419.2h1.0v1.0h-1.0zM627.3 348.3h1.0v1.0h-1.0zM651.0 334.7h1.0v1.0h-1.0zM621.4 320.6h1.0v1.0h-1.0zM635.0 270.2h1.0v1.0h-1.0zM623.2 379.4h1.0v1.0h-1.0zM650.2 421.4h1.0v1.0h-1.0zM641.3 413.0h1.0v1.0h-1.0zM624.1 447.9h1.0v1.0h-1.0zM624.5 312.9h1.0v1.0h-1.0zM637.6 257.3h1.0v1.0h-1.0zM642.5 420.5h1.0v1.0h-1.0zM625.2 265.6h1.0v1.0h-1.0zM650.1 336.7h1.0v1.0h-1.0zM623.7 279.0h1.0v1.0h-1.0zM625.5 277.2h1.0v1.0h-1.0zM650.2 245.1h1.0v1.0h-1.0zM643.2 319.1h1.0v1.0h-1.0zM620.4 326.0h1.0v1.0h-1.0zM650.8 251.7h1.0v1.0h-1.0zM637.5 260.7h1.0v1.0h-1.0zM651.2 376.5h1.0v1.0h-1.0zM619.5 306.4h1.0v1.0h-1.0zM652.0 260.8h1.0v1.0h-1.0zM634.0 449.3h1.0v1.0h-1.0zM622.7 374.4h1.0v1.0h-1.0zM633.2 246.5h1.0v1.0h-1.0zM645.2 270.7h1.0v1.0h-1.0zM651.5 277.4h1.0v1.0h-1.0zM653.3 299.8h1.0v1.0h-1.0zM653.2 258.9h1.0v1.0h-1.0zM625.3 265.5h1.0v1.0h-1.0zM620.5 310.9h1.0v1.0h-1.0zM649.8 301.1h1.0v1.0h-1.0zM627.6 436.4h1.0v1.0h-1.0zM626.4 305.4h1.0v1.0h-1.0zM641.0 262.4h1.0v1.0h-1.0zM640.1 290.8h1.0v1.0h-1.0zM649.6 245.6h1.0v1.0h-1.0zM628.9 279.3h1.0v1.0h-1.0zM625.6 330.7h1.0v1.0h-1.0zM633.7 350.6h1.0v1.0h-1.0zM623.0 274.2h1.0v1.0h-1.0zM619.5 347.3h1.0v1.0h-1.0zM652.6 275.9h1.0v1.0h-1.0zM653.8 363.1h1.0v1.0h-1.0zM637.1 275.3h1.0v1.0h-1.0zM631.8 324.0h1.0v1.0h-1.0zM642.2 357.3h1.0v1.0h-1.0zM650.4 367.5h1.0v1.0h-1.0zM652.3 322.0h1.0v1.0h-1.0zM642.0 291.1h1.0v1.0h-1.0zM641.0 327.2h1.0v1.0h-1.0zM647.0 335.6h1.0v1.0h-1.0zM648.0 251.2h1.0v1.0h-1.0zM621.8 251.2h1.0v1.0h-1.0zM620.5 441.1h1.0v1.0h-1.0zM628.6 340.5h1.0v1.0h-1.0zM648.8 367.2h1.0v1.0h-1.0zM628.3 441.3h1.0v1.0h-1.0zM620.4 379.6h1.0v1.0h-1.0zM627.1 326.8h1.0v1.0h-1.0zM628.7 256.8h1.0v1.0h-1.0zM645.0 280.7h1.0v1.0h-1.0zM619.1 315.1h1.0v1.0h-1.0zM644.2 340.4h1.0v1.0h-1.0zM621.2 378.0h1.0v1.0h-1.0zM655.7 325.3h1.0v1.0h-1.0zM626.5 440.8h1.0v1.0h-1.0zM653.0 252.7h1.0v1.0h-1.0zM640.4 340.3h1.0v1.0h-1.0zM650.8 289.0h1.0v1.0h-1.0zM626.9 295.8h1.0v1.0h-1.0zM635.6 251.8h1.0v1.0h-1.0zM625.0 383.3h1.0v1.0h-1.0zM644.3 374.0h1.0v1.0h-1.0zM632.3 456.2h1.0v1.0h-1.0zM627.9 390.3h1.0v1.0h-1.0zM654.8 293.4h1.0v1.0h-1.0zM631.0 318.3h1.0v1.0h-1.0zM650.6 362.5h1.0v1.0h-1.0zM648.9 354.0h1.0v1.0h-1.0zM649.4 312.4h1.0v1.0h-1.0zM647.5 332.1h1.0v1.0h-1.0zM653.6 247.6h1.0v1.0h-1.0zM652.6 247.8h1.0v1.0h-1.0zM627.7 326.9h1.0v1.0h-1.0zM623.8 245.9h1.0v1.0h-1.0zM644.7 338.1h1.0v1.0h-1.0zM634.3 364.4h1.0v1.0h-1.0zM640.1 383.9h1.0v1.0h-1.0zM647.0 342.0h1.0v1.0h-1.0zM621.5 369.9h1.0v1.0h-1.0zM653.0 385.2h1.0v1.0h-1.0zM642.4 272.3h1.0v1.0h-1.0zM637.6 254.2h1.0v1.0h-1.0zM619.5 258.6h1.0v1.0h-1.0zM647.6 260.4h1.0v1.0h-1.0zM622.4 361.5h1.0v1.0h-1.0zM621.8 297.0h1.0v1.0h-1.0zM629.4 271.6h1.0v1.0h-1.0zM649.0 344.1h1.0v1.0h-1.0zM637.8 349.6h1.0v1.0h-1.0zM621.7 322.2h1.0v1.0h-1.0zM634.0 305.5h1.0v1.0h-1.0zM619.9 256.8h1.0v1.0h-1.0zM648.2 306.5h1.0v1.0h-1.0zM630.9 285.9h1.0v1.0h-1.0zM623.7 375.5h1.0v1.0h-1.0zM643.7 348.6h1.0v1.0h-1.0zM621.7 337.0h1.0v1.0h-1.0zM644.6 298.3h1.0v1.0h-1.0zM643.5 456.7h1.0v1.0h-1.0zM643.1 278.1h1.0v1.0h-1.0zM625.4 307.1h1.0v1.0h-1.0zM636.3 368.8h1.0v1.0h-1.0zM619.7 312.8h1.0v1.0h-1.0zM646.0 252.7h1.0v1.0h-1.0zM641.9 361.8h1.0v1.0h-1.0zM643.4 440.7h1.0v1.0h-1.0zM620.5 424.0h1.0v1.0h-1.0zM653.6 253.0h1.0v1.0h-1.0zM650.5 337.5h1.0v1.0h-1.0zM624.8 284.9h1.0v1.0h-1.0zM655.8 337.0h1.0v1.0h-1.0zM656.6 372.5h1.0v1.0h-1.0zM643.2 304.7h1.0v1.0h-1.0zM620.5 263.4h1.0v1.0h-1.0zM620.1 295.3h1.0v1.0h-1.0zM619.5 290.3h1.0v1.0h-1.0zM625.0 345.3h1.0v1.0h-1.0zM634.6 252.0h1.0v1.0h-1.0zM620.7 252.0h1.0v1.0h-1.0zM649.8 278.0h1.0v1.0h-1.0zM656.5 361.5h1.0v1.0h-1.0zM627.2 344.7h1.0v1.0h-1.0zM652.6 250.1h1.0v1.0h-1.0zM621.4 300.3h1.0v1.0h-1.0zM644.5 281.4h1.0v1.0h-1.0zM622.0 345.9h1.0v1.0h-1.0zM653.5 367.2h1.0v1.0h-1.0z" fill="#222"/><path d="M615.5 245 L617.8 399" stroke="#000" stroke-width="1.6"/><path d="M656 245 L657.8 399" stroke="#000" stroke-width="1.6"/><path d="M617.8 399 L619 459.5 M657.8 399 L658.6 459.5" stroke="#000" stroke-width="1.8" stroke-dasharray="9 3"/><circle cx="559.4" cy="215.7" r="10.5" fill="#fff" stroke="#000" stroke-width="1.7"/><circle cx="559.4" cy="215.7" r="9.2" fill="none" stroke="#444" stroke-width="1" stroke-dasharray="0.8 1.6"/><path d="M559.7 212 L579.8 212.3 L579.8 229.3 L560.5 219 Z" fill="#fff" stroke="#000" stroke-width="1.5"/><circle cx="559.7" cy="215.7" r="3.7" fill="#fff" stroke="#000" stroke-width="1.5"/><path d="M569.8 215.8h1.3v1.3h-1.3z M569.3 219.6h1.3v1.3h-1.3z" fill="#000"/><path d="M553 198.9 L623 197.9" stroke="#000" stroke-width="1.5" fill="none"/><path d="M620.5 192.3 Q623 190.3 627.5 192 Q632 193.4 637 191.8 Q641.5 190.2 644.2 192 Q641.5 195.8 636 196.3 L629 196.3 Q623 195.8 620.5 192.3 Z" fill="#fff" stroke="#000" stroke-width="1.4"/><path d="M626.5 196 L624.5 201.5 M637.5 196 L639.5 201.5" stroke="#000" stroke-width="1.4"/><circle cx="321.5" cy="339.6" r="11.6" fill="#fff" stroke="#000" stroke-width="1.6"/><g transform="translate(321.3,340.2) rotate(-31.63)"><rect x="18.0" y="-69.5" width="5.2" height="63.5" fill="#fff" stroke="#000" stroke-width="1.3"/><path d="M21.2 -21.9h0.9v0.9h-0.9zM21.4 -27.4h0.9v0.9h-0.9zM20.5 -36.2h0.9v0.9h-0.9zM20.7 -52.6h0.9v0.9h-0.9zM19.6 -52.0h0.9v0.9h-0.9zM20.8 -27.6h0.9v0.9h-0.9zM21.9 -61.0h0.9v0.9h-0.9zM21.4 -15.5h0.9v0.9h-0.9zM19.7 -34.5h0.9v0.9h-0.9zM22.0 -44.5h0.9v0.9h-0.9zM20.7 -66.9h0.9v0.9h-0.9zM20.7 -67.9h0.9v0.9h-0.9zM19.5 -40.6h0.9v0.9h-0.9zM19.9 -67.3h0.9v0.9h-0.9zM21.8 -26.8h0.9v0.9h-0.9zM22.0 -20.5h0.9v0.9h-0.9zM20.1 -18.7h0.9v0.9h-0.9zM20.1 -24.1h0.9v0.9h-0.9zM21.2 -57.9h0.9v0.9h-0.9zM20.8 -62.8h0.9v0.9h-0.9zM20.1 -20.9h0.9v0.9h-0.9zM19.9 -50.6h0.9v0.9h-0.9zM20.6 -35.2h0.9v0.9h-0.9zM21.9 -65.2h0.9v0.9h-0.9zM19.7 -8.8h0.9v0.9h-0.9zM19.6 -63.4h0.9v0.9h-0.9zM20.3 -38.8h0.9v0.9h-0.9zM21.6 -32.2h0.9v0.9h-0.9zM19.5 -66.8h0.9v0.9h-0.9zM21.1 -8.0h0.9v0.9h-0.9zM19.5 -17.3h0.9v0.9h-0.9zM19.3 -31.5h0.9v0.9h-0.9zM20.6 -57.7h0.9v0.9h-0.9zM19.6 -16.0h0.9v0.9h-0.9zM21.7 -57.3h0.9v0.9h-0.9zM19.4 -33.1h0.9v0.9h-0.9zM20.1 -26.4h0.9v0.9h-0.9zM20.1 -10.0h0.9v0.9h-0.9zM21.7 -21.7h0.9v0.9h-0.9zM20.5 -57.9h0.9v0.9h-0.9zM19.8 -64.4h0.9v0.9h-0.9zM19.7 -57.3h0.9v0.9h-0.9zM22.1 -10.1h0.9v0.9h-0.9zM19.7 -53.6h0.9v0.9h-0.9zM20.2 -57.3h0.9v0.9h-0.9z" fill="#444"/><rect x="94.6" y="-69.5" width="5.2" height="63.5" fill="#fff" stroke="#000" stroke-width="1.3"/><path d="M97.7 -11.5h0.9v0.9h-0.9zM98.6 -43.5h0.9v0.9h-0.9zM95.9 -64.7h0.9v0.9h-0.9zM98.4 -64.4h0.9v0.9h-0.9zM98.2 -58.2h0.9v0.9h-0.9zM95.9 -42.5h0.9v0.9h-0.9zM97.5 -47.1h0.9v0.9h-0.9zM96.5 -34.3h0.9v0.9h-0.9zM98.4 -67.9h0.9v0.9h-0.9zM96.3 -63.3h0.9v0.9h-0.9zM98.6 -19.5h0.9v0.9h-0.9zM97.7 -46.1h0.9v0.9h-0.9zM97.0 -52.6h0.9v0.9h-0.9zM96.3 -60.6h0.9v0.9h-0.9zM98.3 -36.1h0.9v0.9h-0.9zM96.9 -51.8h0.9v0.9h-0.9zM97.1 -55.5h0.9v0.9h-0.9zM97.4 -16.8h0.9v0.9h-0.9zM97.6 -26.4h0.9v0.9h-0.9zM98.1 -33.1h0.9v0.9h-0.9zM97.0 -9.3h0.9v0.9h-0.9zM98.7 -44.1h0.9v0.9h-0.9zM97.2 -18.3h0.9v0.9h-0.9zM95.9 -64.1h0.9v0.9h-0.9zM98.3 -28.1h0.9v0.9h-0.9zM96.7 -30.3h0.9v0.9h-0.9zM96.1 -49.2h0.9v0.9h-0.9zM97.6 -13.1h0.9v0.9h-0.9zM98.3 -64.0h0.9v0.9h-0.9zM97.6 -43.8h0.9v0.9h-0.9zM98.6 -43.5h0.9v0.9h-0.9zM96.2 -15.5h0.9v0.9h-0.9zM96.8 -9.2h0.9v0.9h-0.9zM96.2 -32.9h0.9v0.9h-0.9zM96.3 -30.7h0.9v0.9h-0.9zM97.1 -10.9h0.9v0.9h-0.9zM98.3 -56.8h0.9v0.9h-0.9zM98.5 -26.4h0.9v0.9h-0.9zM97.7 -41.4h0.9v0.9h-0.9zM96.4 -25.7h0.9v0.9h-0.9zM96.1 -67.2h0.9v0.9h-0.9zM98.1 -66.8h0.9v0.9h-0.9zM97.4 -55.6h0.9v0.9h-0.9zM96.8 -29.8h0.9v0.9h-0.9zM98.0 -52.3h0.9v0.9h-0.9z" fill="#444"/><rect x="171.2" y="-69.5" width="5.2" height="63.5" fill="#fff" stroke="#000" stroke-width="1.3"/><path d="M173.7 -62.7h0.9v0.9h-0.9zM174.4 -55.5h0.9v0.9h-0.9zM174.0 -47.4h0.9v0.9h-0.9zM174.5 -21.7h0.9v0.9h-0.9zM174.3 -42.2h0.9v0.9h-0.9zM173.9 -63.8h0.9v0.9h-0.9zM173.3 -20.7h0.9v0.9h-0.9zM174.8 -28.2h0.9v0.9h-0.9zM173.1 -30.9h0.9v0.9h-0.9zM172.4 -31.1h0.9v0.9h-0.9zM173.9 -62.5h0.9v0.9h-0.9zM175.2 -17.1h0.9v0.9h-0.9zM174.8 -50.6h0.9v0.9h-0.9zM173.9 -47.3h0.9v0.9h-0.9zM173.7 -23.2h0.9v0.9h-0.9zM173.2 -31.7h0.9v0.9h-0.9zM173.1 -13.5h0.9v0.9h-0.9zM173.1 -60.5h0.9v0.9h-0.9zM174.3 -61.0h0.9v0.9h-0.9zM174.9 -52.1h0.9v0.9h-0.9zM172.6 -9.9h0.9v0.9h-0.9zM173.4 -15.6h0.9v0.9h-0.9zM174.7 -16.0h0.9v0.9h-0.9zM174.7 -11.1h0.9v0.9h-0.9zM173.9 -54.4h0.9v0.9h-0.9zM173.8 -60.1h0.9v0.9h-0.9zM174.0 -47.6h0.9v0.9h-0.9zM174.6 -9.2h0.9v0.9h-0.9zM174.5 -30.7h0.9v0.9h-0.9zM174.3 -19.6h0.9v0.9h-0.9zM173.5 -32.4h0.9v0.9h-0.9zM174.1 -57.8h0.9v0.9h-0.9zM174.9 -52.0h0.9v0.9h-0.9zM173.8 -16.8h0.9v0.9h-0.9zM173.7 -45.0h0.9v0.9h-0.9zM174.8 -49.8h0.9v0.9h-0.9zM174.2 -30.3h0.9v0.9h-0.9zM173.9 -31.2h0.9v0.9h-0.9zM173.0 -24.3h0.9v0.9h-0.9zM174.5 -9.4h0.9v0.9h-0.9zM173.0 -60.7h0.9v0.9h-0.9zM174.7 -35.3h0.9v0.9h-0.9zM175.2 -50.1h0.9v0.9h-0.9zM174.2 -40.5h0.9v0.9h-0.9zM172.9 -28.3h0.9v0.9h-0.9z" fill="#444"/><rect x="247.8" y="-69.5" width="5.2" height="63.5" fill="#fff" stroke="#000" stroke-width="1.3"/><path d="M250.5 -44.1h0.9v0.9h-0.9zM250.6 -56.2h0.9v0.9h-0.9zM250.9 -38.2h0.9v0.9h-0.9zM250.6 -8.6h0.9v0.9h-0.9zM251.3 -19.1h0.9v0.9h-0.9zM249.4 -51.1h0.9v0.9h-0.9zM251.1 -10.2h0.9v0.9h-0.9zM251.1 -31.3h0.9v0.9h-0.9zM250.0 -63.2h0.9v0.9h-0.9zM250.0 -12.4h0.9v0.9h-0.9zM250.2 -56.4h0.9v0.9h-0.9zM251.5 -55.7h0.9v0.9h-0.9zM251.4 -50.3h0.9v0.9h-0.9zM249.1 -17.6h0.9v0.9h-0.9zM249.3 -56.1h0.9v0.9h-0.9zM250.6 -55.9h0.9v0.9h-0.9zM250.7 -58.7h0.9v0.9h-0.9zM251.3 -44.1h0.9v0.9h-0.9zM250.4 -54.7h0.9v0.9h-0.9zM251.9 -11.8h0.9v0.9h-0.9zM251.7 -60.3h0.9v0.9h-0.9zM249.6 -23.2h0.9v0.9h-0.9zM250.9 -47.2h0.9v0.9h-0.9zM249.3 -51.4h0.9v0.9h-0.9zM251.4 -18.1h0.9v0.9h-0.9zM250.5 -45.6h0.9v0.9h-0.9zM250.6 -14.9h0.9v0.9h-0.9zM249.1 -26.1h0.9v0.9h-0.9zM250.7 -49.5h0.9v0.9h-0.9zM250.1 -14.7h0.9v0.9h-0.9zM251.0 -39.4h0.9v0.9h-0.9zM250.7 -37.0h0.9v0.9h-0.9zM249.4 -32.5h0.9v0.9h-0.9zM251.1 -60.3h0.9v0.9h-0.9zM250.8 -44.3h0.9v0.9h-0.9zM249.3 -40.2h0.9v0.9h-0.9zM251.5 -17.2h0.9v0.9h-0.9zM251.4 -12.5h0.9v0.9h-0.9zM250.1 -8.2h0.9v0.9h-0.9zM251.4 -47.5h0.9v0.9h-0.9zM251.0 -11.6h0.9v0.9h-0.9zM250.7 -11.9h0.9v0.9h-0.9zM249.7 -46.5h0.9v0.9h-0.9zM250.4 -35.2h0.9v0.9h-0.9zM250.5 -37.2h0.9v0.9h-0.9z" fill="#444"/><rect x="10.6" y="-73.9" width="248.2" height="5.3" rx="1.3" fill="#fff" stroke="#000" stroke-width="1.5"/><rect x="-5.7" y="-6.25" width="281.9" height="12.5" fill="#fff" stroke="#000" stroke-width="1.6"/><path d="M238.7 -2.0h1.0v1.0h-1.0zM101.1 -2.0h1.0v1.0h-1.0zM132.5 -4.1h1.0v1.0h-1.0zM203.5 -4.4h1.0v1.0h-1.0zM250.3 2.7h1.0v1.0h-1.0zM8.9 4.8h1.0v1.0h-1.0zM214.8 0.1h1.0v1.0h-1.0zM271.5 -1.0h1.0v1.0h-1.0zM53.5 -2.8h1.0v1.0h-1.0zM228.1 1.9h1.0v1.0h-1.0zM214.3 -3.8h1.0v1.0h-1.0zM111.7 1.1h1.0v1.0h-1.0zM208.4 4.1h1.0v1.0h-1.0zM171.2 2.9h1.0v1.0h-1.0zM116.7 4.9h1.0v1.0h-1.0zM190.9 -4.1h1.0v1.0h-1.0zM36.3 2.0h1.0v1.0h-1.0zM58.2 -2.8h1.0v1.0h-1.0zM249.9 -1.6h1.0v1.0h-1.0zM147.5 -3.5h1.0v1.0h-1.0zM91.6 -0.9h1.0v1.0h-1.0zM247.8 5.0h1.0v1.0h-1.0zM49.3 -1.5h1.0v1.0h-1.0zM33.7 2.2h1.0v1.0h-1.0zM240.9 3.5h1.0v1.0h-1.0zM8.4 -1.8h1.0v1.0h-1.0zM97.8 4.8h1.0v1.0h-1.0zM235.1 5.0h1.0v1.0h-1.0zM36.1 -2.2h1.0v1.0h-1.0zM-0.8 -2.6h1.0v1.0h-1.0zM204.8 -1.1h1.0v1.0h-1.0zM218.3 -0.9h1.0v1.0h-1.0zM32.6 1.2h1.0v1.0h-1.0zM216.4 2.2h1.0v1.0h-1.0zM9.7 -4.2h1.0v1.0h-1.0zM196.2 1.5h1.0v1.0h-1.0zM135.7 -0.5h1.0v1.0h-1.0zM262.5 1.6h1.0v1.0h-1.0zM120.2 -3.5h1.0v1.0h-1.0zM11.2 -2.2h1.0v1.0h-1.0zM242.2 -3.2h1.0v1.0h-1.0zM153.0 -4.7h1.0v1.0h-1.0zM272.7 -2.4h1.0v1.0h-1.0zM31.6 -1.3h1.0v1.0h-1.0zM198.5 -4.1h1.0v1.0h-1.0zM274.9 -2.6h1.0v1.0h-1.0zM121.3 -3.5h1.0v1.0h-1.0zM215.6 -2.1h1.0v1.0h-1.0zM84.8 -0.4h1.0v1.0h-1.0zM191.7 -2.0h1.0v1.0h-1.0zM159.4 -0.1h1.0v1.0h-1.0zM176.0 -4.5h1.0v1.0h-1.0zM30.3 -2.9h1.0v1.0h-1.0zM147.3 -0.3h1.0v1.0h-1.0zM2.0 -1.4h1.0v1.0h-1.0zM259.8 4.0h1.0v1.0h-1.0zM108.8 -0.3h1.0v1.0h-1.0zM136.9 -1.1h1.0v1.0h-1.0zM37.2 -3.8h1.0v1.0h-1.0zM99.4 2.2h1.0v1.0h-1.0zM89.8 2.9h1.0v1.0h-1.0zM260.1 -2.9h1.0v1.0h-1.0zM75.6 2.1h1.0v1.0h-1.0zM174.7 1.1h1.0v1.0h-1.0zM42.7 4.9h1.0v1.0h-1.0zM246.0 -3.0h1.0v1.0h-1.0zM13.9 -3.4h1.0v1.0h-1.0zM21.3 2.8h1.0v1.0h-1.0zM49.4 -3.5h1.0v1.0h-1.0zM229.5 -2.3h1.0v1.0h-1.0zM10.4 -3.3h1.0v1.0h-1.0zM95.1 4.8h1.0v1.0h-1.0zM64.6 0.9h1.0v1.0h-1.0zM91.1 0.3h1.0v1.0h-1.0zM68.6 4.8h1.0v1.0h-1.0zM15.4 3.9h1.0v1.0h-1.0zM137.5 -3.2h1.0v1.0h-1.0zM106.1 3.5h1.0v1.0h-1.0zM175.3 0.0h1.0v1.0h-1.0zM274.7 0.1h1.0v1.0h-1.0zM257.9 -4.0h1.0v1.0h-1.0zM215.6 2.2h1.0v1.0h-1.0zM163.1 -2.4h1.0v1.0h-1.0zM48.3 0.6h1.0v1.0h-1.0zM25.1 2.5h1.0v1.0h-1.0zM30.9 -3.0h1.0v1.0h-1.0zM39.1 -3.6h1.0v1.0h-1.0zM253.2 1.2h1.0v1.0h-1.0zM22.7 4.7h1.0v1.0h-1.0zM93.6 -4.6h1.0v1.0h-1.0zM111.4 2.8h1.0v1.0h-1.0zM20.8 -2.9h1.0v1.0h-1.0zM274.3 -0.1h1.0v1.0h-1.0zM271.9 -2.2h1.0v1.0h-1.0zM241.2 4.2h1.0v1.0h-1.0zM250.2 4.7h1.0v1.0h-1.0zM263.8 -2.4h1.0v1.0h-1.0zM-3.4 -3.5h1.0v1.0h-1.0zM69.2 0.6h1.0v1.0h-1.0zM50.2 2.0h1.0v1.0h-1.0zM14.2 -1.3h1.0v1.0h-1.0zM186.8 -0.2h1.0v1.0h-1.0zM122.4 -1.0h1.0v1.0h-1.0zM121.7 -3.1h1.0v1.0h-1.0zM169.5 -1.6h1.0v1.0h-1.0zM145.3 -3.8h1.0v1.0h-1.0zM54.4 -2.2h1.0v1.0h-1.0zM249.6 3.1h1.0v1.0h-1.0zM-1.7 3.1h1.0v1.0h-1.0zM260.1 -0.1h1.0v1.0h-1.0zM201.6 -0.3h1.0v1.0h-1.0zM266.6 4.0h1.0v1.0h-1.0zM251.3 -2.8h1.0v1.0h-1.0zM263.3 -4.6h1.0v1.0h-1.0zM70.0 -3.4h1.0v1.0h-1.0zM16.0 -1.1h1.0v1.0h-1.0zM193.4 -0.6h1.0v1.0h-1.0zM144.1 4.8h1.0v1.0h-1.0zM175.2 3.8h1.0v1.0h-1.0zM49.0 -0.0h1.0v1.0h-1.0zM60.3 -3.7h1.0v1.0h-1.0zM234.7 -2.3h1.0v1.0h-1.0zM127.8 0.7h1.0v1.0h-1.0zM257.0 -2.2h1.0v1.0h-1.0zM133.1 0.2h1.0v1.0h-1.0zM89.0 0.7h1.0v1.0h-1.0zM227.6 2.6h1.0v1.0h-1.0zM168.8 -4.1h1.0v1.0h-1.0zM13.8 -1.0h1.0v1.0h-1.0zM169.9 -4.6h1.0v1.0h-1.0zM253.9 -1.7h1.0v1.0h-1.0zM51.7 2.0h1.0v1.0h-1.0zM169.5 0.9h1.0v1.0h-1.0zM234.2 -1.2h1.0v1.0h-1.0zM33.8 -2.5h1.0v1.0h-1.0zM125.8 -4.4h1.0v1.0h-1.0zM158.3 -1.6h1.0v1.0h-1.0zM40.9 1.9h1.0v1.0h-1.0zM23.1 -2.1h1.0v1.0h-1.0zM92.1 -1.4h1.0v1.0h-1.0zM142.6 -0.1h1.0v1.0h-1.0zM231.5 1.3h1.0v1.0h-1.0zM230.3 0.0h1.0v1.0h-1.0zM230.8 -2.6h1.0v1.0h-1.0zM234.7 1.6h1.0v1.0h-1.0zM50.6 -4.2h1.0v1.0h-1.0zM232.2 1.2h1.0v1.0h-1.0zM99.8 -0.1h1.0v1.0h-1.0zM60.5 3.7h1.0v1.0h-1.0zM126.8 0.2h1.0v1.0h-1.0zM151.3 -1.0h1.0v1.0h-1.0zM157.0 2.2h1.0v1.0h-1.0zM100.6 -2.3h1.0v1.0h-1.0zM269.1 3.9h1.0v1.0h-1.0zM99.5 -0.1h1.0v1.0h-1.0zM217.7 -1.1h1.0v1.0h-1.0zM139.0 -4.9h1.0v1.0h-1.0zM243.5 -0.2h1.0v1.0h-1.0zM1.9 -0.0h1.0v1.0h-1.0zM31.8 -5.0h1.0v1.0h-1.0zM54.5 2.4h1.0v1.0h-1.0zM207.1 1.6h1.0v1.0h-1.0zM34.1 2.5h1.0v1.0h-1.0zM125.7 -1.4h1.0v1.0h-1.0zM240.4 -4.3h1.0v1.0h-1.0zM13.8 -2.5h1.0v1.0h-1.0zM1.9 3.1h1.0v1.0h-1.0zM140.8 4.4h1.0v1.0h-1.0zM72.1 1.9h1.0v1.0h-1.0zM110.8 0.0h1.0v1.0h-1.0zM248.1 -1.3h1.0v1.0h-1.0zM255.2 0.1h1.0v1.0h-1.0zM238.6 0.9h1.0v1.0h-1.0zM226.2 4.0h1.0v1.0h-1.0zM222.1 -1.3h1.0v1.0h-1.0zM-0.7 -1.7h1.0v1.0h-1.0zM186.4 1.3h1.0v1.0h-1.0zM10.1 -4.2h1.0v1.0h-1.0zM191.2 2.1h1.0v1.0h-1.0zM124.6 2.7h1.0v1.0h-1.0zM54.8 -3.2h1.0v1.0h-1.0zM180.3 3.0h1.0v1.0h-1.0zM258.4 -2.4h1.0v1.0h-1.0zM113.2 1.9h1.0v1.0h-1.0zM148.9 -3.1h1.0v1.0h-1.0zM252.1 4.0h1.0v1.0h-1.0zM237.2 4.5h1.0v1.0h-1.0zM250.5 1.0h1.0v1.0h-1.0zM269.2 2.2h1.0v1.0h-1.0zM133.8 2.2h1.0v1.0h-1.0zM101.3 3.1h1.0v1.0h-1.0zM229.2 4.7h1.0v1.0h-1.0zM148.0 -1.3h1.0v1.0h-1.0zM137.9 -1.7h1.0v1.0h-1.0zM123.3 -1.7h1.0v1.0h-1.0zM268.8 4.8h1.0v1.0h-1.0zM101.7 -3.8h1.0v1.0h-1.0zM172.2 -3.8h1.0v1.0h-1.0zM85.0 2.8h1.0v1.0h-1.0zM178.3 -3.6h1.0v1.0h-1.0zM194.9 1.7h1.0v1.0h-1.0zM116.1 -0.1h1.0v1.0h-1.0zM46.0 1.9h1.0v1.0h-1.0zM259.1 -3.7h1.0v1.0h-1.0zM86.1 -2.1h1.0v1.0h-1.0zM145.7 2.3h1.0v1.0h-1.0zM151.0 3.0h1.0v1.0h-1.0zM210.0 3.3h1.0v1.0h-1.0zM222.5 -1.1h1.0v1.0h-1.0zM260.3 0.5h1.0v1.0h-1.0zM162.3 3.0h1.0v1.0h-1.0zM148.0 2.7h1.0v1.0h-1.0zM210.2 -3.6h1.0v1.0h-1.0zM247.7 -2.0h1.0v1.0h-1.0zM49.7 -3.7h1.0v1.0h-1.0zM113.0 -1.4h1.0v1.0h-1.0zM145.6 3.7h1.0v1.0h-1.0zM16.7 4.7h1.0v1.0h-1.0zM251.7 1.4h1.0v1.0h-1.0zM194.5 -2.8h1.0v1.0h-1.0zM12.4 1.8h1.0v1.0h-1.0zM93.2 -4.4h1.0v1.0h-1.0zM271.6 3.1h1.0v1.0h-1.0zM41.9 3.0h1.0v1.0h-1.0zM152.0 2.3h1.0v1.0h-1.0zM37.8 -0.6h1.0v1.0h-1.0zM40.4 -1.9h1.0v1.0h-1.0zM159.3 2.2h1.0v1.0h-1.0zM84.1 2.7h1.0v1.0h-1.0zM127.7 -4.4h1.0v1.0h-1.0zM231.2 0.8h1.0v1.0h-1.0zM78.4 0.8h1.0v1.0h-1.0zM92.5 -0.2h1.0v1.0h-1.0zM26.6 2.7h1.0v1.0h-1.0zM104.4 2.6h1.0v1.0h-1.0zM206.2 0.8h1.0v1.0h-1.0zM114.6 3.0h1.0v1.0h-1.0zM220.0 4.0h1.0v1.0h-1.0zM119.1 -4.7h1.0v1.0h-1.0zM110.5 3.9h1.0v1.0h-1.0zM185.1 -4.8h1.0v1.0h-1.0zM193.3 -2.3h1.0v1.0h-1.0zM177.7 -4.0h1.0v1.0h-1.0zM213.7 3.7h1.0v1.0h-1.0zM52.9 1.2h1.0v1.0h-1.0zM119.6 4.8h1.0v1.0h-1.0zM37.5 0.5h1.0v1.0h-1.0zM53.9 -2.3h1.0v1.0h-1.0zM181.3 -0.8h1.0v1.0h-1.0zM99.3 -2.0h1.0v1.0h-1.0zM252.4 0.9h1.0v1.0h-1.0zM43.0 -3.1h1.0v1.0h-1.0zM28.3 3.3h1.0v1.0h-1.0zM60.5 2.6h1.0v1.0h-1.0zM274.2 -5.0h1.0v1.0h-1.0zM40.8 -4.0h1.0v1.0h-1.0zM51.2 -3.2h1.0v1.0h-1.0zM82.0 -3.6h1.0v1.0h-1.0zM67.1 -0.0h1.0v1.0h-1.0zM248.8 -4.8h1.0v1.0h-1.0zM176.1 2.2h1.0v1.0h-1.0zM204.0 -4.7h1.0v1.0h-1.0zM224.0 1.2h1.0v1.0h-1.0zM217.6 3.0h1.0v1.0h-1.0zM37.5 3.2h1.0v1.0h-1.0zM202.2 -2.3h1.0v1.0h-1.0zM233.6 1.9h1.0v1.0h-1.0zM88.8 3.1h1.0v1.0h-1.0zM171.1 0.7h1.0v1.0h-1.0zM112.8 -3.4h1.0v1.0h-1.0zM173.2 -1.8h1.0v1.0h-1.0zM121.0 -4.1h1.0v1.0h-1.0zM36.3 4.9h1.0v1.0h-1.0zM220.7 2.4h1.0v1.0h-1.0zM142.1 -2.4h1.0v1.0h-1.0zM88.6 -2.5h1.0v1.0h-1.0zM10.6 -2.7h1.0v1.0h-1.0zM12.6 3.5h1.0v1.0h-1.0zM72.4 -4.2h1.0v1.0h-1.0zM67.4 -2.0h1.0v1.0h-1.0zM41.3 0.1h1.0v1.0h-1.0zM218.3 -2.7h1.0v1.0h-1.0zM91.4 4.5h1.0v1.0h-1.0zM77.8 2.4h1.0v1.0h-1.0zM182.5 3.0h1.0v1.0h-1.0zM87.7 -0.2h1.0v1.0h-1.0zM1.2 4.7h1.0v1.0h-1.0zM90.5 0.2h1.0v1.0h-1.0zM272.8 3.4h1.0v1.0h-1.0zM247.6 2.2h1.0v1.0h-1.0zM130.1 -0.6h1.0v1.0h-1.0zM56.4 4.4h1.0v1.0h-1.0zM46.3 4.9h1.0v1.0h-1.0zM150.8 0.1h1.0v1.0h-1.0zM47.6 2.8h1.0v1.0h-1.0zM272.6 -1.9h1.0v1.0h-1.0zM98.9 -1.3h1.0v1.0h-1.0zM180.9 0.9h1.0v1.0h-1.0zM248.1 3.0h1.0v1.0h-1.0zM119.8 1.3h1.0v1.0h-1.0zM258.5 3.7h1.0v1.0h-1.0zM35.3 -0.4h1.0v1.0h-1.0zM55.6 1.9h1.0v1.0h-1.0zM207.2 -2.4h1.0v1.0h-1.0zM173.3 4.8h1.0v1.0h-1.0zM201.4 -1.0h1.0v1.0h-1.0zM156.2 -1.9h1.0v1.0h-1.0zM68.3 -1.2h1.0v1.0h-1.0zM49.7 -0.8h1.0v1.0h-1.0zM7.3 -2.8h1.0v1.0h-1.0zM155.3 3.6h1.0v1.0h-1.0zM91.6 -0.7h1.0v1.0h-1.0zM24.6 3.1h1.0v1.0h-1.0zM103.0 2.4h1.0v1.0h-1.0zM115.5 -2.0h1.0v1.0h-1.0zM8.6 2.4h1.0v1.0h-1.0zM129.1 2.9h1.0v1.0h-1.0zM160.4 0.4h1.0v1.0h-1.0zM238.2 -3.3h1.0v1.0h-1.0zM188.6 -1.5h1.0v1.0h-1.0zM77.8 -2.3h1.0v1.0h-1.0zM76.3 -2.0h1.0v1.0h-1.0zM198.4 -3.8h1.0v1.0h-1.0zM201.5 -0.9h1.0v1.0h-1.0zM145.1 -3.1h1.0v1.0h-1.0zM139.8 -4.5h1.0v1.0h-1.0zM79.2 0.5h1.0v1.0h-1.0zM136.8 -0.9h1.0v1.0h-1.0zM138.1 0.6h1.0v1.0h-1.0zM190.6 -3.8h1.0v1.0h-1.0zM268.3 -1.5h1.0v1.0h-1.0zM73.0 3.0h1.0v1.0h-1.0zM61.6 -4.1h1.0v1.0h-1.0zM78.8 2.9h1.0v1.0h-1.0zM137.5 3.6h1.0v1.0h-1.0zM25.3 0.3h1.0v1.0h-1.0zM108.6 0.8h1.0v1.0h-1.0zM120.4 3.6h1.0v1.0h-1.0zM262.5 -4.1h1.0v1.0h-1.0zM1.3 4.3h1.0v1.0h-1.0zM141.0 0.4h1.0v1.0h-1.0zM186.2 3.4h1.0v1.0h-1.0zM5.9 -2.1h1.0v1.0h-1.0zM175.7 4.4h1.0v1.0h-1.0zM100.9 -0.3h1.0v1.0h-1.0zM119.7 -2.6h1.0v1.0h-1.0zM79.1 3.8h1.0v1.0h-1.0zM110.3 4.8h1.0v1.0h-1.0zM130.2 -0.1h1.0v1.0h-1.0zM142.0 3.9h1.0v1.0h-1.0zM128.3 -0.4h1.0v1.0h-1.0zM109.1 2.1h1.0v1.0h-1.0zM184.5 -3.9h1.0v1.0h-1.0zM163.2 -2.3h1.0v1.0h-1.0zM44.9 1.4h1.0v1.0h-1.0zM186.2 -0.3h1.0v1.0h-1.0zM209.6 -2.4h1.0v1.0h-1.0zM124.6 -4.4h1.0v1.0h-1.0zM144.5 1.9h1.0v1.0h-1.0zM34.6 2.9h1.0v1.0h-1.0zM205.9 3.5h1.0v1.0h-1.0zM27.4 -0.1h1.0v1.0h-1.0zM208.2 -3.1h1.0v1.0h-1.0zM46.6 4.1h1.0v1.0h-1.0zM235.7 3.6h1.0v1.0h-1.0zM213.5 -1.1h1.0v1.0h-1.0zM240.9 4.4h1.0v1.0h-1.0zM114.3 0.0h1.0v1.0h-1.0zM46.9 -3.2h1.0v1.0h-1.0zM183.8 -2.3h1.0v1.0h-1.0zM177.6 -3.8h1.0v1.0h-1.0zM178.6 3.4h1.0v1.0h-1.0zM189.6 4.9h1.0v1.0h-1.0zM20.8 3.0h1.0v1.0h-1.0zM41.3 2.5h1.0v1.0h-1.0zM210.7 -1.5h1.0v1.0h-1.0zM136.1 0.4h1.0v1.0h-1.0zM79.8 -4.6h1.0v1.0h-1.0zM136.4 4.0h1.0v1.0h-1.0zM198.6 4.3h1.0v1.0h-1.0zM31.8 2.1h1.0v1.0h-1.0zM7.4 -4.9h1.0v1.0h-1.0zM23.4 -2.5h1.0v1.0h-1.0zM255.0 -3.6h1.0v1.0h-1.0zM8.5 4.1h1.0v1.0h-1.0zM39.0 -1.4h1.0v1.0h-1.0zM72.5 -3.0h1.0v1.0h-1.0zM241.3 0.4h1.0v1.0h-1.0zM28.0 -4.3h1.0v1.0h-1.0zM187.1 -1.6h1.0v1.0h-1.0zM269.5 1.5h1.0v1.0h-1.0zM208.4 3.1h1.0v1.0h-1.0zM135.0 2.9h1.0v1.0h-1.0zM19.5 -3.3h1.0v1.0h-1.0zM108.5 -4.7h1.0v1.0h-1.0zM196.3 1.4h1.0v1.0h-1.0zM170.5 -0.5h1.0v1.0h-1.0zM196.3 -2.8h1.0v1.0h-1.0zM9.8 3.4h1.0v1.0h-1.0zM150.8 1.4h1.0v1.0h-1.0zM229.3 -2.1h1.0v1.0h-1.0zM258.2 -4.7h1.0v1.0h-1.0zM136.5 4.1h1.0v1.0h-1.0zM68.7 -5.0h1.0v1.0h-1.0zM103.2 4.6h1.0v1.0h-1.0zM16.0 -2.4h1.0v1.0h-1.0zM35.2 1.7h1.0v1.0h-1.0zM158.8 -2.2h1.0v1.0h-1.0zM79.2 1.2h1.0v1.0h-1.0zM108.1 -1.2h1.0v1.0h-1.0zM187.6 4.7h1.0v1.0h-1.0zM45.9 -3.0h1.0v1.0h-1.0zM176.9 1.1h1.0v1.0h-1.0zM6.9 4.2h1.0v1.0h-1.0zM25.1 -1.3h1.0v1.0h-1.0zM95.2 -0.1h1.0v1.0h-1.0zM30.0 1.2h1.0v1.0h-1.0zM246.8 0.1h1.0v1.0h-1.0zM76.1 -3.5h1.0v1.0h-1.0zM13.7 0.6h1.0v1.0h-1.0zM181.3 2.7h1.0v1.0h-1.0zM34.2 2.0h1.0v1.0h-1.0zM78.8 -0.9h1.0v1.0h-1.0zM197.1 -4.2h1.0v1.0h-1.0zM242.8 2.7h1.0v1.0h-1.0zM32.7 -1.8h1.0v1.0h-1.0zM270.7 -3.3h1.0v1.0h-1.0zM72.4 -2.0h1.0v1.0h-1.0zM219.1 -0.4h1.0v1.0h-1.0zM143.3 -1.7h1.0v1.0h-1.0zM66.3 -4.8h1.0v1.0h-1.0zM237.2 -2.8h1.0v1.0h-1.0zM109.4 1.5h1.0v1.0h-1.0zM88.4 3.2h1.0v1.0h-1.0zM155.3 3.1h1.0v1.0h-1.0zM255.1 -0.0h1.0v1.0h-1.0zM249.4 1.7h1.0v1.0h-1.0zM216.7 -3.6h1.0v1.0h-1.0zM264.7 4.3h1.0v1.0h-1.0zM266.3 -4.4h1.0v1.0h-1.0zM71.1 2.3h1.0v1.0h-1.0zM193.6 -4.7h1.0v1.0h-1.0zM190.9 3.8h1.0v1.0h-1.0zM210.0 -1.7h1.0v1.0h-1.0zM174.0 -2.2h1.0v1.0h-1.0zM163.2 1.4h1.0v1.0h-1.0zM25.3 5.0h1.0v1.0h-1.0zM215.1 2.3h1.0v1.0h-1.0zM214.3 -2.9h1.0v1.0h-1.0zM210.1 3.9h1.0v1.0h-1.0zM74.0 -1.7h1.0v1.0h-1.0zM53.0 2.8h1.0v1.0h-1.0zM20.1 -4.8h1.0v1.0h-1.0zM116.8 2.5h1.0v1.0h-1.0zM24.7 3.7h1.0v1.0h-1.0zM125.7 -2.8h1.0v1.0h-1.0zM125.5 1.5h1.0v1.0h-1.0zM257.3 -4.9h1.0v1.0h-1.0zM117.8 -1.9h1.0v1.0h-1.0zM164.6 -2.6h1.0v1.0h-1.0zM188.1 -1.3h1.0v1.0h-1.0zM45.8 4.1h1.0v1.0h-1.0zM7.0 -3.7h1.0v1.0h-1.0zM96.9 -2.5h1.0v1.0h-1.0zM216.0 0.4h1.0v1.0h-1.0zM119.1 0.8h1.0v1.0h-1.0zM11.6 -3.0h1.0v1.0h-1.0zM271.6 0.5h1.0v1.0h-1.0zM175.5 2.2h1.0v1.0h-1.0zM147.2 -2.3h1.0v1.0h-1.0zM271.9 1.3h1.0v1.0h-1.0zM159.2 -4.7h1.0v1.0h-1.0zM168.7 4.5h1.0v1.0h-1.0zM88.0 -3.2h1.0v1.0h-1.0zM260.0 0.3h1.0v1.0h-1.0zM221.8 -2.7h1.0v1.0h-1.0zM83.6 4.7h1.0v1.0h-1.0zM216.6 -0.9h1.0v1.0h-1.0zM130.6 0.0h1.0v1.0h-1.0zM221.1 2.0h1.0v1.0h-1.0zM202.9 1.1h1.0v1.0h-1.0zM167.9 0.2h1.0v1.0h-1.0zM22.3 1.4h1.0v1.0h-1.0zM134.2 3.3h1.0v1.0h-1.0zM56.7 -2.6h1.0v1.0h-1.0zM269.2 -2.8h1.0v1.0h-1.0zM73.3 -1.2h1.0v1.0h-1.0zM112.0 -2.5h1.0v1.0h-1.0zM161.4 4.7h1.0v1.0h-1.0zM66.8 -3.4h1.0v1.0h-1.0zM190.2 4.8h1.0v1.0h-1.0zM127.8 3.9h1.0v1.0h-1.0zM42.0 2.2h1.0v1.0h-1.0zM49.3 -2.9h1.0v1.0h-1.0zM266.2 2.5h1.0v1.0h-1.0zM217.0 -1.8h1.0v1.0h-1.0zM261.8 -3.5h1.0v1.0h-1.0zM255.4 0.9h1.0v1.0h-1.0zM36.2 -4.7h1.0v1.0h-1.0zM269.6 1.8h1.0v1.0h-1.0zM100.5 0.2h1.0v1.0h-1.0zM25.8 -1.4h1.0v1.0h-1.0zM76.3 -1.6h1.0v1.0h-1.0zM199.2 -4.2h1.0v1.0h-1.0zM131.3 -2.6h1.0v1.0h-1.0zM18.6 3.2h1.0v1.0h-1.0zM151.8 1.1h1.0v1.0h-1.0zM-3.5 4.8h1.0v1.0h-1.0zM229.4 2.4h1.0v1.0h-1.0zM167.9 2.3h1.0v1.0h-1.0zM47.3 3.8h1.0v1.0h-1.0zM216.9 -4.9h1.0v1.0h-1.0zM86.1 3.4h1.0v1.0h-1.0zM51.1 1.4h1.0v1.0h-1.0zM69.0 -0.9h1.0v1.0h-1.0zM25.5 -1.5h1.0v1.0h-1.0zM172.3 0.7h1.0v1.0h-1.0zM160.3 -1.4h1.0v1.0h-1.0zM116.9 -1.5h1.0v1.0h-1.0zM59.6 1.1h1.0v1.0h-1.0zM225.2 -3.1h1.0v1.0h-1.0zM166.5 2.3h1.0v1.0h-1.0zM155.3 -1.5h1.0v1.0h-1.0zM272.3 -0.1h1.0v1.0h-1.0zM190.3 2.5h1.0v1.0h-1.0zM161.0 -1.1h1.0v1.0h-1.0zM79.4 -1.6h1.0v1.0h-1.0zM166.1 1.8h1.0v1.0h-1.0zM260.6 0.8h1.0v1.0h-1.0zM159.5 1.5h1.0v1.0h-1.0zM268.9 -4.3h1.0v1.0h-1.0zM5.9 1.4h1.0v1.0h-1.0zM47.7 4.6h1.0v1.0h-1.0zM232.7 3.4h1.0v1.0h-1.0zM41.6 -4.4h1.0v1.0h-1.0zM100.5 -2.0h1.0v1.0h-1.0zM79.0 2.2h1.0v1.0h-1.0zM112.5 0.7h1.0v1.0h-1.0zM229.9 -4.6h1.0v1.0h-1.0zM116.0 4.6h1.0v1.0h-1.0zM227.2 -1.3h1.0v1.0h-1.0zM274.8 -2.6h1.0v1.0h-1.0zM223.3 4.4h1.0v1.0h-1.0zM274.1 -2.1h1.0v1.0h-1.0zM222.9 -1.4h1.0v1.0h-1.0zM22.5 2.5h1.0v1.0h-1.0zM92.8 -0.1h1.0v1.0h-1.0zM262.4 -0.5h1.0v1.0h-1.0zM100.3 -1.5h1.0v1.0h-1.0zM46.4 2.4h1.0v1.0h-1.0zM37.3 -2.3h1.0v1.0h-1.0zM257.5 -4.6h1.0v1.0h-1.0zM69.5 -1.2h1.0v1.0h-1.0zM158.3 -2.0h1.0v1.0h-1.0zM9.8 -3.9h1.0v1.0h-1.0zM122.0 -3.9h1.0v1.0h-1.0zM84.1 3.2h1.0v1.0h-1.0zM201.2 -4.4h1.0v1.0h-1.0zM269.2 -1.3h1.0v1.0h-1.0zM228.3 1.9h1.0v1.0h-1.0zM75.1 -0.3h1.0v1.0h-1.0zM177.9 0.1h1.0v1.0h-1.0zM-2.6 -2.2h1.0v1.0h-1.0zM203.7 1.7h1.0v1.0h-1.0zM101.7 1.7h1.0v1.0h-1.0zM122.9 3.8h1.0v1.0h-1.0zM90.1 0.3h1.0v1.0h-1.0zM29.3 1.2h1.0v1.0h-1.0zM129.9 2.7h1.0v1.0h-1.0zM56.3 -2.5h1.0v1.0h-1.0zM236.8 3.9h1.0v1.0h-1.0zM25.9 2.7h1.0v1.0h-1.0zM169.6 4.6h1.0v1.0h-1.0zM259.1 -1.6h1.0v1.0h-1.0zM241.6 -2.6h1.0v1.0h-1.0zM194.5 -3.3h1.0v1.0h-1.0zM133.1 -1.5h1.0v1.0h-1.0zM66.4 -3.1h1.0v1.0h-1.0zM186.8 -4.8h1.0v1.0h-1.0zM273.3 2.6h1.0v1.0h-1.0zM234.1 -1.1h1.0v1.0h-1.0zM143.0 3.7h1.0v1.0h-1.0zM10.7 2.4h1.0v1.0h-1.0zM212.4 -3.5h1.0v1.0h-1.0zM145.9 -4.6h1.0v1.0h-1.0zM243.2 0.6h1.0v1.0h-1.0zM34.2 -3.1h1.0v1.0h-1.0zM75.0 4.4h1.0v1.0h-1.0zM224.7 4.9h1.0v1.0h-1.0zM51.1 1.3h1.0v1.0h-1.0zM146.4 -2.8h1.0v1.0h-1.0zM56.3 -2.2h1.0v1.0h-1.0zM183.5 -0.3h1.0v1.0h-1.0zM26.4 -2.5h1.0v1.0h-1.0zM103.9 -3.8h1.0v1.0h-1.0zM64.0 2.5h1.0v1.0h-1.0zM37.2 4.3h1.0v1.0h-1.0zM158.1 1.3h1.0v1.0h-1.0zM136.8 3.9h1.0v1.0h-1.0zM200.0 1.9h1.0v1.0h-1.0zM46.5 -4.3h1.0v1.0h-1.0zM121.6 -3.1h1.0v1.0h-1.0zM61.8 -3.4h1.0v1.0h-1.0zM32.2 0.2h1.0v1.0h-1.0zM142.4 4.2h1.0v1.0h-1.0zM103.1 -2.4h1.0v1.0h-1.0zM235.9 3.6h1.0v1.0h-1.0zM132.9 -1.7h1.0v1.0h-1.0zM229.9 -3.0h1.0v1.0h-1.0zM167.9 -0.7h1.0v1.0h-1.0zM269.0 -0.7h1.0v1.0h-1.0zM241.6 -2.9h1.0v1.0h-1.0zM182.4 -3.6h1.0v1.0h-1.0zM61.8 3.1h1.0v1.0h-1.0zM170.6 -4.1h1.0v1.0h-1.0zM23.1 -5.0h1.0v1.0h-1.0zM218.7 -3.5h1.0v1.0h-1.0zM172.6 -1.7h1.0v1.0h-1.0zM205.2 -4.7h1.0v1.0h-1.0zM39.8 4.0h1.0v1.0h-1.0zM135.7 -2.2h1.0v1.0h-1.0zM121.9 2.3h1.0v1.0h-1.0zM161.8 1.3h1.0v1.0h-1.0zM59.8 -4.1h1.0v1.0h-1.0zM188.2 -4.3h1.0v1.0h-1.0zM255.2 -3.9h1.0v1.0h-1.0zM88.0 -4.8h1.0v1.0h-1.0zM119.1 -4.3h1.0v1.0h-1.0zM242.1 -4.4h1.0v1.0h-1.0zM11.7 -1.3h1.0v1.0h-1.0zM110.0 -2.0h1.0v1.0h-1.0zM124.8 3.7h1.0v1.0h-1.0zM38.2 2.2h1.0v1.0h-1.0zM91.7 -3.2h1.0v1.0h-1.0zM188.5 1.4h1.0v1.0h-1.0zM209.3 -4.1h1.0v1.0h-1.0zM-2.9 0.6h1.0v1.0h-1.0zM56.4 -4.3h1.0v1.0h-1.0zM164.3 -3.7h1.0v1.0h-1.0zM175.1 0.1h1.0v1.0h-1.0zM212.3 -4.5h1.0v1.0h-1.0zM265.0 3.8h1.0v1.0h-1.0zM2.2 0.0h1.0v1.0h-1.0zM43.3 -3.7h1.0v1.0h-1.0zM98.3 -2.1h1.0v1.0h-1.0zM82.9 2.2h1.0v1.0h-1.0zM269.1 -4.1h1.0v1.0h-1.0zM180.7 -2.5h1.0v1.0h-1.0zM235.3 2.1h1.0v1.0h-1.0zM213.6 2.6h1.0v1.0h-1.0zM199.4 4.9h1.0v1.0h-1.0zM131.8 3.3h1.0v1.0h-1.0zM271.8 1.6h1.0v1.0h-1.0zM272.1 0.8h1.0v1.0h-1.0zM37.4 2.1h1.0v1.0h-1.0zM215.8 -2.8h1.0v1.0h-1.0zM170.7 3.4h1.0v1.0h-1.0zM27.3 2.3h1.0v1.0h-1.0zM75.2 -4.3h1.0v1.0h-1.0zM207.3 -0.6h1.0v1.0h-1.0zM0.3 2.6h1.0v1.0h-1.0zM225.6 3.9h1.0v1.0h-1.0zM245.0 -2.2h1.0v1.0h-1.0zM134.3 -3.7h1.0v1.0h-1.0zM216.2 -1.2h1.0v1.0h-1.0zM203.8 -1.9h1.0v1.0h-1.0zM112.4 -1.1h1.0v1.0h-1.0zM129.8 -2.6h1.0v1.0h-1.0zM174.7 -1.7h1.0v1.0h-1.0zM17.0 3.4h1.0v1.0h-1.0zM86.3 4.6h1.0v1.0h-1.0zM68.3 3.3h1.0v1.0h-1.0zM192.0 0.6h1.0v1.0h-1.0zM206.9 -1.8h1.0v1.0h-1.0zM121.1 -2.4h1.0v1.0h-1.0zM148.4 4.0h1.0v1.0h-1.0zM273.3 -4.8h1.0v1.0h-1.0zM77.2 -1.5h1.0v1.0h-1.0zM147.2 -3.8h1.0v1.0h-1.0zM-0.4 -0.2h1.0v1.0h-1.0zM144.3 0.1h1.0v1.0h-1.0zM62.7 -0.9h1.0v1.0h-1.0zM241.7 0.7h1.0v1.0h-1.0zM72.6 0.6h1.0v1.0h-1.0zM181.5 -4.8h1.0v1.0h-1.0zM81.5 -3.6h1.0v1.0h-1.0zM136.7 -2.2h1.0v1.0h-1.0zM147.9 3.6h1.0v1.0h-1.0zM259.4 -2.3h1.0v1.0h-1.0zM3.6 1.0h1.0v1.0h-1.0zM63.8 -0.6h1.0v1.0h-1.0zM222.8 -2.2h1.0v1.0h-1.0zM240.9 4.5h1.0v1.0h-1.0zM96.0 -3.9h1.0v1.0h-1.0zM229.9 4.6h1.0v1.0h-1.0zM225.3 -3.6h1.0v1.0h-1.0zM110.3 1.6h1.0v1.0h-1.0zM151.9 -3.1h1.0v1.0h-1.0zM272.8 0.8h1.0v1.0h-1.0zM155.7 3.2h1.0v1.0h-1.0zM50.7 3.4h1.0v1.0h-1.0zM147.7 -4.1h1.0v1.0h-1.0zM190.5 3.2h1.0v1.0h-1.0zM153.5 4.2h1.0v1.0h-1.0zM232.2 2.8h1.0v1.0h-1.0zM107.5 -3.3h1.0v1.0h-1.0zM46.7 2.1h1.0v1.0h-1.0zM54.8 -0.9h1.0v1.0h-1.0zM144.2 2.4h1.0v1.0h-1.0zM211.3 -2.0h1.0v1.0h-1.0zM45.4 -2.9h1.0v1.0h-1.0zM231.2 4.2h1.0v1.0h-1.0zM15.4 0.6h1.0v1.0h-1.0zM174.1 3.9h1.0v1.0h-1.0zM25.9 -2.1h1.0v1.0h-1.0zM181.0 -0.1h1.0v1.0h-1.0zM45.9 4.4h1.0v1.0h-1.0zM151.7 1.3h1.0v1.0h-1.0zM61.5 -3.4h1.0v1.0h-1.0zM72.4 0.5h1.0v1.0h-1.0zM124.3 2.6h1.0v1.0h-1.0zM112.1 -1.1h1.0v1.0h-1.0zM115.6 -0.6h1.0v1.0h-1.0zM17.8 -2.0h1.0v1.0h-1.0zM167.5 -2.5h1.0v1.0h-1.0zM77.7 4.4h1.0v1.0h-1.0zM121.3 3.2h1.0v1.0h-1.0zM110.9 -0.1h1.0v1.0h-1.0zM239.2 -4.6h1.0v1.0h-1.0zM254.5 0.1h1.0v1.0h-1.0zM218.2 -3.3h1.0v1.0h-1.0zM212.2 -3.1h1.0v1.0h-1.0zM155.3 -1.8h1.0v1.0h-1.0zM147.2 -0.3h1.0v1.0h-1.0zM6.3 2.3h1.0v1.0h-1.0zM220.7 1.1h1.0v1.0h-1.0zM83.8 4.1h1.0v1.0h-1.0zM49.7 1.4h1.0v1.0h-1.0zM171.0 1.7h1.0v1.0h-1.0zM271.2 0.4h1.0v1.0h-1.0zM19.9 4.3h1.0v1.0h-1.0zM91.0 -4.9h1.0v1.0h-1.0zM190.8 -4.9h1.0v1.0h-1.0zM139.4 -0.6h1.0v1.0h-1.0zM274.4 -2.6h1.0v1.0h-1.0zM99.0 -0.1h1.0v1.0h-1.0zM274.0 -3.5h1.0v1.0h-1.0zM10.6 -1.6h1.0v1.0h-1.0zM213.5 0.9h1.0v1.0h-1.0zM268.0 0.5h1.0v1.0h-1.0zM25.5 -4.8h1.0v1.0h-1.0zM181.9 0.9h1.0v1.0h-1.0zM182.0 0.5h1.0v1.0h-1.0zM195.7 -2.8h1.0v1.0h-1.0zM174.0 4.1h1.0v1.0h-1.0zM78.3 -4.6h1.0v1.0h-1.0zM149.5 -4.5h1.0v1.0h-1.0zM97.9 -3.3h1.0v1.0h-1.0zM81.9 -4.4h1.0v1.0h-1.0zM145.6 -2.9h1.0v1.0h-1.0zM88.2 -2.1h1.0v1.0h-1.0zM255.6 -4.9h1.0v1.0h-1.0zM182.0 2.0h1.0v1.0h-1.0zM27.8 0.3h1.0v1.0h-1.0zM92.8 2.0h1.0v1.0h-1.0zM119.7 5.0h1.0v1.0h-1.0zM41.4 -4.9h1.0v1.0h-1.0zM5.6 0.5h1.0v1.0h-1.0zM122.6 -0.6h1.0v1.0h-1.0zM149.3 4.3h1.0v1.0h-1.0zM237.5 0.7h1.0v1.0h-1.0zM171.7 -4.5h1.0v1.0h-1.0zM88.9 -5.0h1.0v1.0h-1.0zM185.2 -3.5h1.0v1.0h-1.0zM269.0 4.8h1.0v1.0h-1.0zM253.5 2.6h1.0v1.0h-1.0zM269.6 -3.4h1.0v1.0h-1.0zM199.7 3.0h1.0v1.0h-1.0zM252.0 4.0h1.0v1.0h-1.0zM54.6 0.5h1.0v1.0h-1.0zM256.9 4.4h1.0v1.0h-1.0zM193.3 3.7h1.0v1.0h-1.0zM141.2 -2.9h1.0v1.0h-1.0zM142.8 -2.9h1.0v1.0h-1.0zM262.0 1.6h1.0v1.0h-1.0zM131.1 2.4h1.0v1.0h-1.0zM168.1 -0.9h1.0v1.0h-1.0zM193.4 -3.3h1.0v1.0h-1.0zM202.2 -2.2h1.0v1.0h-1.0zM53.1 1.9h1.0v1.0h-1.0zM180.3 -2.7h1.0v1.0h-1.0zM118.9 0.1h1.0v1.0h-1.0zM37.7 -0.7h1.0v1.0h-1.0zM233.2 -2.1h1.0v1.0h-1.0zM185.6 1.5h1.0v1.0h-1.0zM150.5 0.4h1.0v1.0h-1.0zM31.7 1.0h1.0v1.0h-1.0zM162.1 0.3h1.0v1.0h-1.0zM233.7 -1.8h1.0v1.0h-1.0zM133.1 3.9h1.0v1.0h-1.0zM51.2 -2.4h1.0v1.0h-1.0zM166.0 2.1h1.0v1.0h-1.0zM9.2 1.9h1.0v1.0h-1.0zM158.6 -0.3h1.0v1.0h-1.0zM243.4 0.7h1.0v1.0h-1.0zM-0.4 2.3h1.0v1.0h-1.0zM23.6 -4.0h1.0v1.0h-1.0zM272.1 -3.1h1.0v1.0h-1.0zM263.4 -1.1h1.0v1.0h-1.0zM60.5 4.3h1.0v1.0h-1.0zM63.3 0.5h1.0v1.0h-1.0zM38.7 -0.5h1.0v1.0h-1.0zM48.7 -1.6h1.0v1.0h-1.0zM211.4 -1.1h1.0v1.0h-1.0zM145.4 1.3h1.0v1.0h-1.0zM175.8 1.4h1.0v1.0h-1.0zM34.2 -2.2h1.0v1.0h-1.0zM94.1 -1.0h1.0v1.0h-1.0zM66.1 2.8h1.0v1.0h-1.0zM241.2 2.5h1.0v1.0h-1.0zM107.3 -4.1h1.0v1.0h-1.0zM257.7 -2.4h1.0v1.0h-1.0zM228.9 -0.0h1.0v1.0h-1.0zM177.7 -3.2h1.0v1.0h-1.0zM85.8 2.6h1.0v1.0h-1.0zM137.1 -0.4h1.0v1.0h-1.0zM59.1 -1.6h1.0v1.0h-1.0zM274.4 1.3h1.0v1.0h-1.0zM142.3 3.6h1.0v1.0h-1.0zM260.5 -2.5h1.0v1.0h-1.0zM188.4 1.6h1.0v1.0h-1.0zM35.2 0.0h1.0v1.0h-1.0zM231.8 0.5h1.0v1.0h-1.0zM23.3 -2.3h1.0v1.0h-1.0zM237.4 -4.7h1.0v1.0h-1.0zM110.0 -3.6h1.0v1.0h-1.0zM42.1 4.1h1.0v1.0h-1.0zM257.2 -3.4h1.0v1.0h-1.0zM73.8 0.5h1.0v1.0h-1.0zM160.9 -2.9h1.0v1.0h-1.0zM126.3 0.9h1.0v1.0h-1.0zM184.8 -2.2h1.0v1.0h-1.0zM206.2 -3.0h1.0v1.0h-1.0zM258.5 -2.7h1.0v1.0h-1.0zM250.5 0.5h1.0v1.0h-1.0zM216.6 -2.5h1.0v1.0h-1.0zM258.2 -3.8h1.0v1.0h-1.0zM261.0 -3.9h1.0v1.0h-1.0zM182.0 -4.5h1.0v1.0h-1.0zM101.4 4.2h1.0v1.0h-1.0zM238.7 1.5h1.0v1.0h-1.0zM31.5 4.3h1.0v1.0h-1.0zM118.7 4.9h1.0v1.0h-1.0zM83.3 2.2h1.0v1.0h-1.0zM198.8 -4.7h1.0v1.0h-1.0zM163.9 -2.0h1.0v1.0h-1.0zM182.6 1.0h1.0v1.0h-1.0zM78.1 -1.0h1.0v1.0h-1.0zM218.7 0.2h1.0v1.0h-1.0zM94.0 -2.0h1.0v1.0h-1.0zM237.6 -1.4h1.0v1.0h-1.0zM3.8 -3.7h1.0v1.0h-1.0zM226.3 -3.2h1.0v1.0h-1.0zM244.6 -4.8h1.0v1.0h-1.0zM82.3 -2.6h1.0v1.0h-1.0zM17.2 3.9h1.0v1.0h-1.0zM70.1 3.3h1.0v1.0h-1.0zM151.7 -1.4h1.0v1.0h-1.0zM6.0 2.1h1.0v1.0h-1.0zM242.9 -3.8h1.0v1.0h-1.0zM113.9 2.5h1.0v1.0h-1.0zM145.2 -4.6h1.0v1.0h-1.0zM176.7 3.1h1.0v1.0h-1.0zM167.0 1.8h1.0v1.0h-1.0zM108.8 -4.4h1.0v1.0h-1.0zM141.4 -0.6h1.0v1.0h-1.0zM118.1 4.2h1.0v1.0h-1.0zM26.5 3.7h1.0v1.0h-1.0zM136.2 2.9h1.0v1.0h-1.0zM212.3 -1.1h1.0v1.0h-1.0zM250.2 -4.2h1.0v1.0h-1.0zM244.1 2.7h1.0v1.0h-1.0zM-4.0 -1.5h1.0v1.0h-1.0zM145.6 -3.3h1.0v1.0h-1.0zM38.1 0.7h1.0v1.0h-1.0zM118.1 3.3h1.0v1.0h-1.0zM125.6 4.9h1.0v1.0h-1.0zM122.6 -3.6h1.0v1.0h-1.0zM147.7 3.5h1.0v1.0h-1.0zM241.4 -4.2h1.0v1.0h-1.0zM208.3 -1.5h1.0v1.0h-1.0zM172.1 3.0h1.0v1.0h-1.0zM215.8 4.4h1.0v1.0h-1.0zM271.5 2.0h1.0v1.0h-1.0z" fill="#777"/><circle cx="0" cy="0" r="2.2" fill="#000"/><circle cx="132.9" cy="0" r="2.6" fill="#000"/><g stroke="#000" stroke-width="1.25" fill="none"><line x1="1.2" y1="-121.6" x2="1.2" y2="-12" stroke-dasharray="26 4" stroke-dashoffset="11"/><line x1="136.6" y1="-118" x2="136.6" y2="-10" stroke-dasharray="26 3 3 3"/><line x1="269.8" y1="-121.6" x2="269.8" y2="-10.5" stroke-dasharray="15 4" stroke-dashoffset="7"/></g><path d="M1.2 -114.5 H49.8 M84.2 -114.5 H136.6 M136.6 -114.5 H184.9 M219.2 -114.5 H269.8" stroke="#000" stroke-width="1.2" fill="none"/><path d="M8.5 -117.3 L1.5 -114.5 L8.5 -111.7 M129.3 -117.3 L136.3 -114.5 L129.3 -111.7 M143.9 -117.3 L136.9 -114.5 L143.9 -111.7 M262.5 -117.3 L269.5 -114.5 L262.5 -111.7" stroke="#000" stroke-width="1.2" fill="none"/><g font-family="Liberation Serif, serif" font-size="18.5" fill="#000" stroke="#000" stroke-width="0.2" text-anchor="middle"><text x="67" y="-108.5">4 m</text><text x="202" y="-108.5">4 m</text></g></g><path d="M548.3 196.2 L557.5 198.6 L548.3 201.4 Z" fill="#000"/><path d="M553 198.9 L560 198.8" stroke="#000" stroke-width="1.5"/><g font-family="Liberation Serif, serif" font-style="italic" fill="#000"><text x="294.7" y="347.2" font-size="19.5">A</text><text transform="translate(533.6,237.8) scale(1.12,1)" font-size="22.5">B</text><text x="443" y="287.7" font-size="20.5">G</text><text x="591.5" y="192.3" font-size="22">T</text></g><text x="356" y="347" font-family="Liberation Sans, sans-serif" font-size="19.5" textLength="26" lengthAdjust="spacingAndGlyphs" fill="#000">30°</text>
</svg>
</body></html>
